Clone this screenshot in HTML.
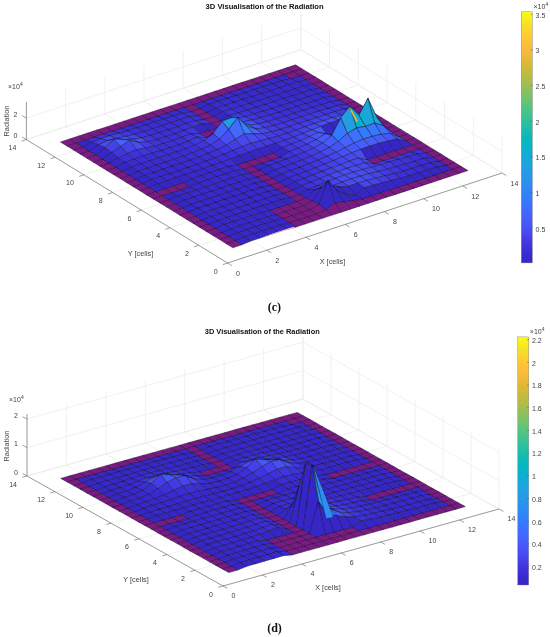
<!DOCTYPE html>
<html><head><meta charset="utf-8"><title>3D Visualisation of the Radiation</title>
<style>
html,body{margin:0;padding:0;background:#fff;}
svg{display:block;}
.tk{font-family:"Liberation Sans",sans-serif;font-size:7px;fill:#444;}
.lb{font-family:"Liberation Sans",sans-serif;font-size:7.3px;fill:#444;}
.ttl{font-family:"Liberation Sans",sans-serif;font-size:7.4px;font-weight:bold;fill:#111;}
.cap{font-family:"Liberation Serif",serif;font-size:12px;font-weight:bold;fill:#111;}
</style></head><body>
<svg width="550" height="637" viewBox="0 0 550 637">
<rect width="550" height="637" fill="#fff"/>
<path d="M227.6,263.0 L26.4,139.6" stroke="#e7e7e7" stroke-width="0.6" fill="none"/>
<path d="M227.6,263.0 L502.0,173.0" stroke="#e7e7e7" stroke-width="0.6" fill="none"/>
<path d="M26.4,139.6 L26.4,102.0" stroke="#e7e7e7" stroke-width="0.6" fill="none"/>
<path d="M502.0,173.0 L502.0,135.4" stroke="#e7e7e7" stroke-width="0.6" fill="none"/>
<path d="M266.8,250.1 L65.6,126.7" stroke="#e7e7e7" stroke-width="0.6" fill="none"/>
<path d="M198.9,245.4 L473.3,155.4" stroke="#e7e7e7" stroke-width="0.6" fill="none"/>
<path d="M65.6,126.7 L65.6,89.1" stroke="#e7e7e7" stroke-width="0.6" fill="none"/>
<path d="M473.3,155.4 L473.3,117.8" stroke="#e7e7e7" stroke-width="0.6" fill="none"/>
<path d="M306.0,237.3 L104.8,113.9" stroke="#e7e7e7" stroke-width="0.6" fill="none"/>
<path d="M170.1,227.7 L444.5,137.7" stroke="#e7e7e7" stroke-width="0.6" fill="none"/>
<path d="M104.8,113.9 L104.8,76.3" stroke="#e7e7e7" stroke-width="0.6" fill="none"/>
<path d="M444.5,137.7 L444.5,100.1" stroke="#e7e7e7" stroke-width="0.6" fill="none"/>
<path d="M345.2,224.4 L144.0,101.0" stroke="#e7e7e7" stroke-width="0.6" fill="none"/>
<path d="M141.4,210.1 L415.8,120.1" stroke="#e7e7e7" stroke-width="0.6" fill="none"/>
<path d="M144.0,101.0 L144.0,63.4" stroke="#e7e7e7" stroke-width="0.6" fill="none"/>
<path d="M415.8,120.1 L415.8,82.5" stroke="#e7e7e7" stroke-width="0.6" fill="none"/>
<path d="M384.4,211.6 L183.2,88.2" stroke="#e7e7e7" stroke-width="0.6" fill="none"/>
<path d="M112.6,192.5 L387.0,102.5" stroke="#e7e7e7" stroke-width="0.6" fill="none"/>
<path d="M183.2,88.2 L183.2,50.6" stroke="#e7e7e7" stroke-width="0.6" fill="none"/>
<path d="M387.0,102.5 L387.0,64.9" stroke="#e7e7e7" stroke-width="0.6" fill="none"/>
<path d="M423.6,198.7 L222.4,75.3" stroke="#e7e7e7" stroke-width="0.6" fill="none"/>
<path d="M83.9,174.9 L358.3,84.9" stroke="#e7e7e7" stroke-width="0.6" fill="none"/>
<path d="M222.4,75.3 L222.4,37.7" stroke="#e7e7e7" stroke-width="0.6" fill="none"/>
<path d="M358.3,84.9 L358.3,47.3" stroke="#e7e7e7" stroke-width="0.6" fill="none"/>
<path d="M462.8,185.9 L261.6,62.5" stroke="#e7e7e7" stroke-width="0.6" fill="none"/>
<path d="M55.1,157.2 L329.5,67.2" stroke="#e7e7e7" stroke-width="0.6" fill="none"/>
<path d="M261.6,62.5 L261.6,24.9" stroke="#e7e7e7" stroke-width="0.6" fill="none"/>
<path d="M329.5,67.2 L329.5,29.6" stroke="#e7e7e7" stroke-width="0.6" fill="none"/>
<path d="M502.0,173.0 L300.8,49.6" stroke="#e7e7e7" stroke-width="0.6" fill="none"/>
<path d="M26.4,139.6 L300.8,49.6" stroke="#e7e7e7" stroke-width="0.6" fill="none"/>
<path d="M300.8,49.6 L300.8,12.0" stroke="#e7e7e7" stroke-width="0.6" fill="none"/>
<path d="M300.8,49.6 L300.8,12.0" stroke="#e7e7e7" stroke-width="0.6" fill="none"/>
<path d="M26.4,139.6 L300.8,49.6 L502.0,173.0" stroke="#e7e7e7" stroke-width="0.6" fill="none"/>
<path d="M26.4,118.1 L300.8,28.1 L502.0,151.5" stroke="#e7e7e7" stroke-width="0.6" fill="none"/>
<path d="M227.6,263.0 L502.0,173.0" stroke="#666" stroke-width="0.62" fill="none"/>
<path d="M227.6,263.0 L26.4,139.6" stroke="#666" stroke-width="0.62" fill="none"/>
<path d="M26.4,139.6 L26.4,102.0" stroke="#666" stroke-width="0.62" fill="none"/>
<path d="M227.6,263.0 L231.9,265.6" stroke="#666" stroke-width="0.62"/>
<text x="236.1" y="275.6" text-anchor="start" class="tk">0</text>
<path d="M227.6,263.0 L222.8,264.6" stroke="#666" stroke-width="0.62"/>
<text x="217.6" y="273.5" text-anchor="end" class="tk">0</text>
<path d="M266.8,250.1 L271.1,252.8" stroke="#666" stroke-width="0.62"/>
<text x="275.3" y="262.7" text-anchor="start" class="tk">2</text>
<path d="M198.9,245.4 L194.1,246.9" stroke="#666" stroke-width="0.62"/>
<text x="188.9" y="255.9" text-anchor="end" class="tk">2</text>
<path d="M306.0,237.3 L310.3,239.9" stroke="#666" stroke-width="0.62"/>
<text x="314.5" y="249.9" text-anchor="start" class="tk">4</text>
<path d="M170.1,227.7 L165.4,229.3" stroke="#666" stroke-width="0.62"/>
<text x="160.1" y="238.2" text-anchor="end" class="tk">4</text>
<path d="M345.2,224.4 L349.5,227.0" stroke="#666" stroke-width="0.62"/>
<text x="353.7" y="237.0" text-anchor="start" class="tk">6</text>
<path d="M141.4,210.1 L136.6,211.7" stroke="#666" stroke-width="0.62"/>
<text x="131.4" y="220.6" text-anchor="end" class="tk">6</text>
<path d="M384.4,211.6 L388.7,214.2" stroke="#666" stroke-width="0.62"/>
<text x="392.9" y="224.2" text-anchor="start" class="tk">8</text>
<path d="M112.6,192.5 L107.9,194.0" stroke="#666" stroke-width="0.62"/>
<text x="102.6" y="203.0" text-anchor="end" class="tk">8</text>
<path d="M423.6,198.7 L427.9,201.3" stroke="#666" stroke-width="0.62"/>
<text x="432.1" y="211.3" text-anchor="start" class="tk">10</text>
<path d="M83.9,174.9 L79.1,176.4" stroke="#666" stroke-width="0.62"/>
<text x="73.9" y="185.4" text-anchor="end" class="tk">10</text>
<path d="M462.8,185.9 L467.1,188.5" stroke="#666" stroke-width="0.62"/>
<text x="471.3" y="198.5" text-anchor="start" class="tk">12</text>
<path d="M55.1,157.2 L50.4,158.8" stroke="#666" stroke-width="0.62"/>
<text x="45.1" y="167.7" text-anchor="end" class="tk">12</text>
<path d="M502.0,173.0 L506.3,175.6" stroke="#666" stroke-width="0.62"/>
<text x="510.5" y="185.6" text-anchor="start" class="tk">14</text>
<path d="M26.4,139.6 L21.6,141.2" stroke="#666" stroke-width="0.62"/>
<text x="16.4" y="150.1" text-anchor="end" class="tk">14</text>
<path d="M26.4,139.6 L22.1,137.0" stroke="#666" stroke-width="0.62"/>
<text x="17.4" y="138.3" text-anchor="end" class="tk">0</text>
<path d="M26.4,118.1 L22.1,115.5" stroke="#666" stroke-width="0.62"/>
<text x="17.4" y="116.8" text-anchor="end" class="tk">2</text>
<g stroke="#06061c" stroke-width="0.5" stroke-opacity="0.8" stroke-linejoin="round">
<path d="M293.2,71.9 L302.2,68.9 L295.6,64.8 L286.5,67.8 Z" fill="#7c1a84"/>
<path d="M284.1,74.8 L293.2,71.9 L286.5,67.8 L277.5,70.8 Z" fill="#7c1a84"/>
<path d="M299.8,75.9 L308.8,73.0 L302.2,68.9 L293.2,71.9 Z" fill="#7c1a84"/>
<path d="M275.1,77.8 L284.1,74.8 L277.5,70.8 L268.4,73.7 Z" fill="#7c1a84"/>
<path d="M290.7,78.9 L299.8,75.9 L293.2,71.9 L284.1,74.8 Z" fill="#7c1a84"/>
<path d="M306.4,80.0 L315.5,77.0 L308.8,73.0 L299.8,75.9 Z" fill="#7c1a84"/>
<path d="M266.0,80.8 L275.1,77.8 L268.4,73.7 L259.4,76.7 Z" fill="#7c1a84"/>
<path d="M281.7,80.9 L290.7,78.9 L284.1,74.8 L275.1,77.8 Z" fill="#3828cd"/>
<path d="M297.4,82.0 L306.4,80.0 L299.8,75.9 L290.7,78.9 Z" fill="#3828ce"/>
<path d="M313.1,84.1 L322.1,81.1 L315.5,77.0 L306.4,80.0 Z" fill="#7c1a84"/>
<path d="M257.0,83.7 L266.0,80.8 L259.4,76.7 L250.3,79.7 Z" fill="#7c1a84"/>
<path d="M272.7,83.8 L281.7,80.9 L275.1,77.8 L266.0,80.8 Z" fill="#3829ce"/>
<path d="M288.3,84.9 L297.4,82.0 L290.7,78.9 L281.7,80.9 Z" fill="#3829ce"/>
<path d="M304.0,86.0 L313.1,84.1 L306.4,80.0 L297.4,82.0 Z" fill="#3829ce"/>
<path d="M319.7,88.2 L328.7,85.2 L322.1,81.1 L313.1,84.1 Z" fill="#7c1a84"/>
<path d="M247.9,86.7 L257.0,83.7 L250.3,79.7 L241.3,82.6 Z" fill="#7c1a84"/>
<path d="M263.6,86.7 L272.7,83.8 L266.0,80.8 L257.0,83.7 Z" fill="#3829ce"/>
<path d="M279.3,87.8 L288.3,84.9 L281.7,80.9 L272.7,83.8 Z" fill="#3829ce"/>
<path d="M295.0,88.9 L304.0,86.0 L297.4,82.0 L288.3,84.9 Z" fill="#3929ce"/>
<path d="M310.6,90.0 L319.7,88.2 L313.1,84.1 L304.0,86.0 Z" fill="#3929ce"/>
<path d="M326.3,92.2 L335.4,89.3 L328.7,85.2 L319.7,88.2 Z" fill="#7c1a84"/>
<path d="M238.9,89.7 L247.9,86.7 L241.3,82.6 L232.2,85.6 Z" fill="#7c1a84"/>
<path d="M254.6,89.7 L263.6,86.7 L257.0,83.7 L247.9,86.7 Z" fill="#3929ce"/>
<path d="M270.2,90.8 L279.3,87.8 L272.7,83.8 L263.6,86.7 Z" fill="#3929ce"/>
<path d="M285.9,91.8 L295.0,88.9 L288.3,84.9 L279.3,87.8 Z" fill="#3929ce"/>
<path d="M301.6,92.9 L310.6,90.0 L304.0,86.0 L295.0,88.9 Z" fill="#3929cf"/>
<path d="M317.3,94.0 L326.3,92.2 L319.7,88.2 L310.6,90.0 Z" fill="#3929cf"/>
<path d="M333.0,96.3 L342.0,93.3 L335.4,89.3 L326.3,92.2 Z" fill="#7c1a84"/>
<path d="M229.8,92.6 L238.9,89.7 L232.2,85.6 L223.2,88.6 Z" fill="#7c1a84"/>
<path d="M245.5,92.6 L254.6,89.7 L247.9,86.7 L238.9,89.7 Z" fill="#3929ce"/>
<path d="M261.2,93.7 L270.2,90.8 L263.6,86.7 L254.6,89.7 Z" fill="#3929cf"/>
<path d="M276.9,94.8 L285.9,91.8 L279.3,87.8 L270.2,90.8 Z" fill="#3929cf"/>
<path d="M292.6,95.8 L301.6,92.9 L295.0,88.9 L285.9,91.8 Z" fill="#3929cf"/>
<path d="M308.2,96.9 L317.3,94.0 L310.6,90.0 L301.6,92.9 Z" fill="#392ad0"/>
<path d="M323.9,97.9 L333.0,96.3 L326.3,92.2 L317.3,94.0 Z" fill="#392ad0"/>
<path d="M339.6,100.4 L348.6,97.4 L342.0,93.3 L333.0,96.3 Z" fill="#7c1a84"/>
<path d="M220.8,95.6 L229.8,92.6 L223.2,88.6 L214.2,91.5 Z" fill="#7c1a84"/>
<path d="M236.5,95.5 L245.5,92.6 L238.9,89.7 L229.8,92.6 Z" fill="#3929cf"/>
<path d="M252.1,96.6 L261.2,93.7 L254.6,89.7 L245.5,92.6 Z" fill="#3929cf"/>
<path d="M267.8,97.7 L276.9,94.8 L270.2,90.8 L261.2,93.7 Z" fill="#3929cf"/>
<path d="M283.5,98.7 L292.6,95.8 L285.9,91.8 L276.9,94.8 Z" fill="#392ad0"/>
<path d="M299.2,99.8 L308.2,96.9 L301.6,92.9 L292.6,95.8 Z" fill="#392ad0"/>
<path d="M314.9,100.8 L323.9,97.9 L317.3,94.0 L308.2,96.9 Z" fill="#3a2bd1"/>
<path d="M330.5,101.8 L339.6,100.4 L333.0,96.3 L323.9,97.9 Z" fill="#3a2bd2"/>
<path d="M346.2,104.4 L355.3,101.5 L348.6,97.4 L339.6,100.4 Z" fill="#7c1a84"/>
<path d="M211.7,98.6 L220.8,95.6 L214.2,91.5 L205.1,94.5 Z" fill="#7c1a84"/>
<path d="M227.4,98.4 L236.5,95.5 L229.8,92.6 L220.8,95.6 Z" fill="#3929cf"/>
<path d="M243.1,99.5 L252.1,96.6 L245.5,92.6 L236.5,95.5 Z" fill="#392ad0"/>
<path d="M258.8,100.6 L267.8,97.7 L261.2,93.7 L252.1,96.6 Z" fill="#392ad0"/>
<path d="M274.5,101.6 L283.5,98.7 L276.9,94.8 L267.8,97.7 Z" fill="#392ad0"/>
<path d="M290.1,102.7 L299.2,99.8 L292.6,95.8 L283.5,98.7 Z" fill="#3a2ad1"/>
<path d="M305.8,103.7 L314.9,100.8 L308.2,96.9 L299.2,99.8 Z" fill="#3a2bd2"/>
<path d="M321.5,104.7 L330.5,101.8 L323.9,97.9 L314.9,100.8 Z" fill="#3b2cd3"/>
<path d="M337.2,105.6 L346.2,104.4 L339.6,100.4 L330.5,101.8 Z" fill="#3c2dd5"/>
<path d="M352.9,108.5 L361.9,105.5 L355.3,101.5 L346.2,104.4 Z" fill="#7c1a84"/>
<path d="M202.7,101.5 L211.7,98.6 L205.1,94.5 L196.1,97.5 Z" fill="#7c1a84"/>
<path d="M218.4,101.3 L227.4,98.4 L220.8,95.6 L211.7,98.6 Z" fill="#392ad0"/>
<path d="M234.1,102.4 L243.1,99.5 L236.5,95.5 L227.4,98.4 Z" fill="#3a2ad1"/>
<path d="M249.7,103.4 L258.8,100.6 L252.1,96.6 L243.1,99.5 Z" fill="#3a2bd1"/>
<path d="M265.4,104.5 L274.5,101.6 L267.8,97.7 L258.8,100.6 Z" fill="#3a2bd1"/>
<path d="M281.1,105.6 L290.1,102.7 L283.5,98.7 L274.5,101.6 Z" fill="#3a2bd2"/>
<path d="M296.8,106.6 L305.8,103.7 L299.2,99.8 L290.1,102.7 Z" fill="#3a2cd3"/>
<path d="M312.5,107.5 L321.5,104.7 L314.9,100.8 L305.8,103.7 Z" fill="#3b2dd4"/>
<path d="M328.1,108.4 L337.2,105.6 L330.5,101.8 L321.5,104.7 Z" fill="#3c2fd7"/>
<path d="M343.8,109.2 L352.9,108.5 L346.2,104.4 L337.2,105.6 Z" fill="#3e31da"/>
<path d="M359.5,112.6 L368.5,109.6 L361.9,105.5 L352.9,108.5 Z" fill="#7c1a84"/>
<path d="M193.7,104.5 L202.7,101.5 L196.1,97.5 L187.0,100.4 Z" fill="#7c1a84"/>
<path d="M209.3,104.3 L218.4,101.3 L211.7,98.6 L202.7,101.5 Z" fill="#392ad0"/>
<path d="M225.0,105.3 L234.1,102.4 L227.4,98.4 L218.4,101.3 Z" fill="#3a2bd1"/>
<path d="M240.7,106.3 L249.7,103.4 L243.1,99.5 L234.1,102.4 Z" fill="#3a2bd2"/>
<path d="M256.4,107.4 L265.4,104.5 L258.8,100.6 L249.7,103.4 Z" fill="#3a2cd2"/>
<path d="M272.0,108.5 L281.1,105.6 L274.5,101.6 L265.4,104.5 Z" fill="#3b2cd3"/>
<path d="M287.7,109.5 L296.8,106.6 L290.1,102.7 L281.1,105.6 Z" fill="#3b2cd3"/>
<path d="M303.4,110.4 L312.5,107.5 L305.8,103.7 L296.8,106.6 Z" fill="#3c2dd5"/>
<path d="M319.1,111.2 L328.1,108.4 L321.5,104.7 L312.5,107.5 Z" fill="#3d30d8"/>
<path d="M334.8,111.9 L343.8,109.2 L337.2,105.6 L328.1,108.4 Z" fill="#3f33dc"/>
<path d="M350.4,112.6 L359.5,112.6 L352.9,108.5 L343.8,109.2 Z" fill="#4137e0"/>
<path d="M366.1,116.6 L375.2,113.7 L368.5,109.6 L359.5,112.6 Z" fill="#7c1a84"/>
<path d="M184.6,107.5 L193.7,104.5 L187.0,100.4 L178.0,103.4 Z" fill="#7c1a84"/>
<path d="M200.3,108.6 L209.3,104.3 L202.7,101.5 L193.7,104.5 Z" fill="#3726c7"/>
<path d="M216.0,108.1 L225.0,105.3 L218.4,101.3 L209.3,104.3 Z" fill="#3a2cd2"/>
<path d="M231.6,109.1 L240.7,106.3 L234.1,102.4 L225.0,105.3 Z" fill="#3b2cd4"/>
<path d="M247.3,110.2 L256.4,107.4 L249.7,103.4 L240.7,106.3 Z" fill="#3b2dd4"/>
<path d="M263.0,111.3 L272.0,108.5 L265.4,104.5 L256.4,107.4 Z" fill="#3b2dd4"/>
<path d="M278.7,112.4 L287.7,109.5 L281.1,105.6 L272.0,108.5 Z" fill="#3b2dd4"/>
<path d="M294.4,113.3 L303.4,110.4 L296.8,106.6 L287.7,109.5 Z" fill="#3c2ed6"/>
<path d="M310.0,114.1 L319.1,111.2 L312.5,107.5 L303.4,110.4 Z" fill="#3d30d9"/>
<path d="M325.7,114.7 L334.8,111.9 L328.1,108.4 L319.1,111.2 Z" fill="#4035de"/>
<path d="M341.4,115.1 L350.4,112.6 L343.8,109.2 L334.8,111.9 Z" fill="#433be4"/>
<path d="M357.1,115.5 L366.1,116.6 L359.5,112.6 L350.4,112.6 Z" fill="#4643ea"/>
<path d="M372.8,120.7 L381.8,117.7 L375.2,113.7 L366.1,116.6 Z" fill="#7c1a84"/>
<path d="M175.6,110.4 L184.6,107.5 L178.0,103.4 L168.9,106.4 Z" fill="#7c1a84"/>
<path d="M191.2,111.6 L200.3,108.6 L193.7,104.5 L184.6,107.5 Z" fill="#7c1a84"/>
<path d="M206.9,112.7 L216.0,108.1 L209.3,104.3 L200.3,108.6 Z" fill="#3726c7"/>
<path d="M222.6,111.9 L231.6,109.1 L225.0,105.3 L216.0,108.1 Z" fill="#3c2ed5"/>
<path d="M238.3,112.9 L247.3,110.2 L240.7,106.3 L231.6,109.1 Z" fill="#3c2ed7"/>
<path d="M254.0,114.0 L263.0,111.3 L256.4,107.4 L247.3,110.2 Z" fill="#3c2ed7"/>
<path d="M269.6,115.1 L278.7,112.4 L272.0,108.5 L263.0,111.3 Z" fill="#3c2ed6"/>
<path d="M285.3,116.2 L294.4,113.3 L287.7,109.5 L278.7,112.4 Z" fill="#3c2fd7"/>
<path d="M301.0,117.0 L310.0,114.1 L303.4,110.4 L294.4,113.3 Z" fill="#3e31da"/>
<path d="M316.7,117.6 L325.7,114.7 L319.1,111.2 L310.0,114.1 Z" fill="#4136df"/>
<path d="M332.3,117.8 L341.4,115.1 L334.8,111.9 L325.7,114.7 Z" fill="#453fe7"/>
<path d="M348.0,117.7 L357.1,115.5 L350.4,112.6 L341.4,115.1 Z" fill="#484df0"/>
<path d="M363.7,123.7 L372.8,120.7 L366.1,116.6 L357.1,115.5 Z" fill="#3726c7"/>
<path d="M379.4,124.8 L388.4,121.8 L381.8,117.7 L372.8,120.7 Z" fill="#7c1a84"/>
<path d="M166.5,113.4 L175.6,110.4 L168.9,106.4 L159.9,109.3 Z" fill="#7c1a84"/>
<path d="M182.2,113.1 L191.2,111.6 L184.6,107.5 L175.6,110.4 Z" fill="#3a2bd1"/>
<path d="M197.9,115.6 L206.9,112.7 L200.3,108.6 L191.2,111.6 Z" fill="#7c1a84"/>
<path d="M213.5,116.7 L222.6,111.9 L216.0,108.1 L206.9,112.7 Z" fill="#3726c7"/>
<path d="M229.2,115.6 L238.3,112.9 L231.6,109.1 L222.6,111.9 Z" fill="#3e31da"/>
<path d="M244.9,116.6 L254.0,114.0 L247.3,110.2 L238.3,112.9 Z" fill="#3e31db"/>
<path d="M260.6,117.8 L269.6,115.1 L263.0,111.3 L254.0,114.0 Z" fill="#3e30d9"/>
<path d="M276.3,119.0 L285.3,116.2 L278.7,112.4 L269.6,115.1 Z" fill="#3d30d9"/>
<path d="M291.9,119.9 L301.0,117.0 L294.4,113.3 L285.3,116.2 Z" fill="#3e31da"/>
<path d="M307.6,120.5 L316.7,117.6 L310.0,114.1 L301.0,117.0 Z" fill="#4136df"/>
<path d="M323.3,120.6 L332.3,117.8 L325.7,114.7 L316.7,117.6 Z" fill="#4540e8"/>
<path d="M339.0,120.2 L348.0,117.7 L341.4,115.1 L332.3,117.8 Z" fill="#4852f3"/>
<path d="M354.7,126.6 L363.7,123.7 L357.1,115.5 L348.0,117.7 Z" fill="#3726c7"/>
<path d="M370.3,127.7 L379.4,124.8 L372.8,120.7 L363.7,123.7 Z" fill="#7c1a84"/>
<path d="M386.0,128.8 L395.1,125.9 L388.4,121.8 L379.4,124.8 Z" fill="#7c1a84"/>
<path d="M157.5,116.4 L166.5,113.4 L159.9,109.3 L150.8,112.3 Z" fill="#7c1a84"/>
<path d="M173.1,116.0 L182.2,113.1 L175.6,110.4 L166.5,113.4 Z" fill="#3a2bd1"/>
<path d="M188.8,116.9 L197.9,115.6 L191.2,111.6 L182.2,113.1 Z" fill="#3b2dd4"/>
<path d="M204.5,119.7 L213.5,116.7 L206.9,112.7 L197.9,115.6 Z" fill="#7c1a84"/>
<path d="M220.2,120.8 L229.2,115.6 L222.6,111.9 L213.5,116.7 Z" fill="#3726c7"/>
<path d="M235.9,119.0 L244.9,116.6 L238.3,112.9 L229.2,115.6 Z" fill="#4137e0"/>
<path d="M251.5,120.2 L260.6,117.8 L254.0,114.0 L244.9,116.6 Z" fill="#4035df"/>
<path d="M267.2,121.6 L276.3,119.0 L269.6,115.1 L260.6,117.8 Z" fill="#3f32dc"/>
<path d="M282.9,122.8 L291.9,119.9 L285.3,116.2 L276.3,119.0 Z" fill="#3e32db"/>
<path d="M298.6,123.5 L307.6,120.5 L301.0,117.0 L291.9,119.9 Z" fill="#4035de"/>
<path d="M314.3,123.7 L323.3,120.6 L316.7,117.6 L307.6,120.5 Z" fill="#453fe7"/>
<path d="M329.9,123.0 L339.0,120.2 L332.3,117.8 L323.3,120.6 Z" fill="#4853f4"/>
<path d="M345.6,129.6 L354.7,126.6 L348.0,117.7 L339.0,120.2 Z" fill="#3726c7"/>
<path d="M361.3,130.7 L370.3,127.7 L363.7,123.7 L354.7,126.6 Z" fill="#7c1a84"/>
<path d="M377.0,117.8 L386.0,128.8 L379.4,124.8 L370.3,127.7 Z" fill="#229ee4"/>
<path d="M392.7,132.9 L401.7,129.9 L395.1,125.9 L386.0,128.8 Z" fill="#7c1a84"/>
<path d="M148.4,119.4 L157.5,116.4 L150.8,112.3 L141.8,115.3 Z" fill="#7c1a84"/>
<path d="M164.1,119.0 L173.1,116.0 L166.5,113.4 L157.5,116.4 Z" fill="#3a2bd1"/>
<path d="M179.8,119.9 L188.8,116.9 L182.2,113.1 L173.1,116.0 Z" fill="#3b2cd4"/>
<path d="M195.5,120.6 L204.5,119.7 L197.9,115.6 L188.8,116.9 Z" fill="#3d2fd8"/>
<path d="M211.1,123.8 L220.2,120.8 L213.5,116.7 L204.5,119.7 Z" fill="#7c1a84"/>
<path d="M226.8,124.9 L235.9,119.0 L229.2,115.6 L220.2,120.8 Z" fill="#3726c7"/>
<path d="M242.5,122.1 L251.5,120.2 L244.9,116.6 L235.9,119.0 Z" fill="#4541e8"/>
<path d="M258.2,123.9 L267.2,121.6 L260.6,117.8 L251.5,120.2 Z" fill="#4239e2"/>
<path d="M273.9,125.5 L282.9,122.8 L276.3,119.0 L267.2,121.6 Z" fill="#4034de"/>
<path d="M289.5,126.5 L298.6,123.5 L291.9,119.9 L282.9,122.8 Z" fill="#4035de"/>
<path d="M305.2,126.9 L314.3,123.7 L307.6,120.5 L298.6,123.5 Z" fill="#443ce5"/>
<path d="M320.9,126.3 L329.9,123.0 L323.3,120.6 L314.3,123.7 Z" fill="#4850f2"/>
<path d="M336.6,132.6 L345.6,129.6 L339.0,120.2 L329.9,123.0 Z" fill="#3726c7"/>
<path d="M352.2,133.7 L361.3,130.7 L354.7,126.6 L345.6,129.6 Z" fill="#7c1a84"/>
<path d="M367.9,98.3 L377.0,117.8 L370.3,127.7 L361.3,130.7 Z" fill="#f7e622"/>
<path d="M383.6,125.7 L392.7,132.9 L386.0,128.8 L377.0,117.8 Z" fill="#317ffa"/>
<path d="M399.3,137.0 L408.3,134.0 L401.7,129.9 L392.7,132.9 Z" fill="#7c1a84"/>
<path d="M139.4,122.3 L148.4,119.4 L141.8,115.3 L132.7,118.2 Z" fill="#7c1a84"/>
<path d="M155.1,122.0 L164.1,119.0 L157.5,116.4 L148.4,119.4 Z" fill="#3a2bd1"/>
<path d="M170.7,122.9 L179.8,119.9 L173.1,116.0 L164.1,119.0 Z" fill="#3b2cd3"/>
<path d="M186.4,123.6 L195.5,120.6 L188.8,116.9 L179.8,119.9 Z" fill="#3d2fd7"/>
<path d="M202.1,123.9 L211.1,123.8 L204.5,119.7 L195.5,120.6 Z" fill="#4136df"/>
<path d="M217.8,127.8 L226.8,124.9 L220.2,120.8 L211.1,123.8 Z" fill="#7c1a84"/>
<path d="M233.4,128.9 L242.5,122.1 L235.9,119.0 L226.8,124.9 Z" fill="#3726c7"/>
<path d="M249.1,125.1 L258.2,123.9 L251.5,120.2 L242.5,122.1 Z" fill="#484ef1"/>
<path d="M264.8,127.8 L273.9,125.5 L267.2,121.6 L258.2,123.9 Z" fill="#433be4"/>
<path d="M280.5,129.4 L289.5,126.5 L282.9,122.8 L273.9,125.5 Z" fill="#4136df"/>
<path d="M296.2,130.1 L305.2,126.9 L298.6,123.5 L289.5,126.5 Z" fill="#433ae2"/>
<path d="M311.8,129.9 L320.9,126.3 L314.3,123.7 L305.2,126.9 Z" fill="#474aee"/>
<path d="M327.5,135.5 L336.6,132.6 L329.9,123.0 L320.9,126.3 Z" fill="#3726c7"/>
<path d="M343.2,136.6 L352.2,133.7 L345.6,129.6 L336.6,132.6 Z" fill="#7c1a84"/>
<path d="M358.9,115.4 L367.9,98.3 L361.3,130.7 L352.2,133.7 Z" fill="#3ec291"/>
<path d="M374.6,123.0 L383.6,125.7 L377.0,117.8 L367.9,98.3 Z" fill="#15aad8"/>
<path d="M390.2,133.3 L399.3,137.0 L392.7,132.9 L383.6,125.7 Z" fill="#465efa"/>
<path d="M405.9,141.0 L415.0,138.1 L408.3,134.0 L399.3,137.0 Z" fill="#7c1a84"/>
<path d="M130.3,125.3 L139.4,122.3 L132.7,118.2 L123.7,121.2 Z" fill="#7c1a84"/>
<path d="M146.0,124.9 L155.1,122.0 L148.4,119.4 L139.4,122.3 Z" fill="#3a2bd2"/>
<path d="M161.7,125.9 L170.7,122.9 L164.1,119.0 L155.1,122.0 Z" fill="#3b2cd3"/>
<path d="M177.4,126.7 L186.4,123.6 L179.8,119.9 L170.7,122.9 Z" fill="#3c2ed6"/>
<path d="M193.0,127.1 L202.1,123.9 L195.5,120.6 L186.4,123.6 Z" fill="#3f33dd"/>
<path d="M208.7,130.8 L217.8,127.8 L211.1,123.8 L202.1,123.9 Z" fill="#3726c7"/>
<path d="M224.4,131.9 L233.4,128.9 L226.8,124.9 L217.8,127.8 Z" fill="#7c1a84"/>
<path d="M240.1,123.4 L249.1,125.1 L242.5,122.1 L233.4,128.9 Z" fill="#337bfc"/>
<path d="M255.8,128.9 L264.8,127.8 L258.2,123.9 L249.1,125.1 Z" fill="#4850f3"/>
<path d="M271.4,131.9 L280.5,129.4 L273.9,125.5 L264.8,127.8 Z" fill="#433ae3"/>
<path d="M287.1,133.2 L296.2,130.1 L289.5,126.5 L280.5,129.4 Z" fill="#4238e1"/>
<path d="M302.8,133.5 L311.8,129.9 L305.2,126.9 L296.2,130.1 Z" fill="#4542e8"/>
<path d="M318.5,132.3 L327.5,135.5 L320.9,126.3 L311.8,129.9 Z" fill="#475af8"/>
<path d="M334.2,139.6 L343.2,136.6 L336.6,132.6 L327.5,135.5 Z" fill="#7c1a84"/>
<path d="M349.8,106.2 L358.9,115.4 L352.2,133.7 L343.2,136.6 Z" fill="#fcce30"/>
<path d="M365.5,126.3 L374.6,123.0 L367.9,98.3 L358.9,115.4 Z" fill="#18a7da"/>
<path d="M381.2,134.4 L390.2,133.3 L383.6,125.7 L374.6,123.0 Z" fill="#3d70fe"/>
<path d="M396.9,139.1 L405.9,141.0 L399.3,137.0 L390.2,133.3 Z" fill="#484df0"/>
<path d="M412.6,145.1 L421.6,142.1 L415.0,138.1 L405.9,141.0 Z" fill="#7c1a84"/>
<path d="M121.3,128.3 L130.3,125.3 L123.7,121.2 L114.6,124.2 Z" fill="#7c1a84"/>
<path d="M137.0,127.8 L146.0,124.9 L139.4,122.3 L130.3,125.3 Z" fill="#3a2cd3"/>
<path d="M152.6,128.8 L161.7,125.9 L155.1,122.0 L146.0,124.9 Z" fill="#3b2cd3"/>
<path d="M168.3,129.8 L177.4,126.7 L170.7,122.9 L161.7,125.9 Z" fill="#3c2dd5"/>
<path d="M184.0,130.4 L193.0,127.1 L186.4,123.6 L177.4,126.7 Z" fill="#3e31da"/>
<path d="M199.7,133.8 L208.7,130.8 L202.1,123.9 L193.0,127.1 Z" fill="#3726c7"/>
<path d="M215.4,134.9 L224.4,131.9 L217.8,127.8 L208.7,130.8 Z" fill="#7c1a84"/>
<path d="M231.0,117.8 L240.1,123.4 L233.4,128.9 L224.4,131.9 Z" fill="#09b6c2"/>
<path d="M246.7,126.1 L255.8,128.9 L249.1,125.1 L240.1,123.4 Z" fill="#2f86f6"/>
<path d="M262.4,133.7 L271.4,131.9 L264.8,127.8 L255.8,128.9 Z" fill="#4749ed"/>
<path d="M278.1,136.1 L287.1,133.2 L280.5,129.4 L271.4,131.9 Z" fill="#4239e2"/>
<path d="M293.8,137.0 L302.8,133.5 L296.2,130.1 L287.1,133.2 Z" fill="#443ce4"/>
<path d="M309.4,136.6 L318.5,132.3 L311.8,129.9 L302.8,133.5 Z" fill="#484df0"/>
<path d="M325.1,133.7 L334.2,139.6 L327.5,135.5 L318.5,132.3 Z" fill="#3a74fe"/>
<path d="M340.8,117.8 L349.8,106.2 L343.2,136.6 L334.2,139.6 Z" fill="#88c15f"/>
<path d="M356.5,127.9 L365.5,126.3 L358.9,115.4 L349.8,106.2 Z" fill="#0bb0d0"/>
<path d="M372.1,136.4 L381.2,134.4 L374.6,123.0 L365.5,126.3 Z" fill="#3479fd"/>
<path d="M387.8,141.1 L396.9,139.1 L390.2,133.3 L381.2,134.4 Z" fill="#4757f7"/>
<path d="M403.5,148.1 L412.6,145.1 L405.9,141.0 L396.9,139.1 Z" fill="#3726c7"/>
<path d="M419.2,149.2 L428.2,146.2 L421.6,142.1 L412.6,145.1 Z" fill="#7c1a84"/>
<path d="M112.2,131.2 L121.3,128.3 L114.6,124.2 L105.6,127.2 Z" fill="#7c1a84"/>
<path d="M127.9,130.6 L137.0,127.8 L130.3,125.3 L121.3,128.3 Z" fill="#3b2dd4"/>
<path d="M143.6,131.6 L152.6,128.8 L146.0,124.9 L137.0,127.8 Z" fill="#3c2dd5"/>
<path d="M159.3,132.7 L168.3,129.8 L161.7,125.9 L152.6,128.8 Z" fill="#3c2dd5"/>
<path d="M175.0,133.6 L184.0,130.4 L177.4,126.7 L168.3,129.8 Z" fill="#3d2fd8"/>
<path d="M190.6,133.9 L199.7,133.8 L193.0,127.1 L184.0,130.4 Z" fill="#4136df"/>
<path d="M206.3,137.8 L215.4,134.9 L208.7,130.8 L199.7,133.8 Z" fill="#7c1a84"/>
<path d="M222.0,121.3 L231.0,117.8 L224.4,131.9 L215.4,134.9 Z" fill="#09b4c8"/>
<path d="M237.7,117.5 L246.7,126.1 L240.1,123.4 L231.0,117.8 Z" fill="#41c38f"/>
<path d="M253.3,133.9 L262.4,133.7 L255.8,128.9 L246.7,126.1 Z" fill="#4563fd"/>
<path d="M269.0,138.7 L278.1,136.1 L271.4,131.9 L262.4,133.7 Z" fill="#443de6"/>
<path d="M284.7,140.2 L293.8,137.0 L287.1,133.2 L278.1,136.1 Z" fill="#4239e2"/>
<path d="M300.4,140.6 L309.4,136.6 L302.8,133.5 L293.8,137.0 Z" fill="#4541e8"/>
<path d="M316.1,139.7 L325.1,133.7 L318.5,132.3 L309.4,136.6 Z" fill="#4757f7"/>
<path d="M331.7,135.3 L340.8,117.8 L334.2,139.6 L325.1,133.7 Z" fill="#2e8af5"/>
<path d="M347.4,133.4 L356.5,127.9 L349.8,106.2 L340.8,117.8 Z" fill="#20a0e2"/>
<path d="M363.1,139.2 L372.1,136.4 L365.5,126.3 L356.5,127.9 Z" fill="#337bfc"/>
<path d="M378.8,143.4 L387.8,141.1 L381.2,134.4 L372.1,136.4 Z" fill="#465dfa"/>
<path d="M394.5,151.0 L403.5,148.1 L396.9,139.1 L387.8,141.1 Z" fill="#3726c7"/>
<path d="M410.1,152.1 L419.2,149.2 L412.6,145.1 L403.5,148.1 Z" fill="#7c1a84"/>
<path d="M425.8,153.2 L434.9,150.3 L428.2,146.2 L419.2,149.2 Z" fill="#7c1a84"/>
<path d="M103.2,134.2 L112.2,131.2 L105.6,127.2 L96.6,130.1 Z" fill="#7c1a84"/>
<path d="M118.9,133.3 L127.9,130.6 L121.3,128.3 L112.2,131.2 Z" fill="#3d2fd7"/>
<path d="M134.5,134.3 L143.6,131.6 L137.0,127.8 L127.9,130.6 Z" fill="#3d30d8"/>
<path d="M150.2,135.5 L159.3,132.7 L152.6,128.8 L143.6,131.6 Z" fill="#3c2fd7"/>
<path d="M165.9,136.6 L175.0,133.6 L168.3,129.8 L159.3,132.7 Z" fill="#3c2fd7"/>
<path d="M181.6,137.4 L190.6,133.9 L184.0,130.4 L175.0,133.6 Z" fill="#3e31da"/>
<path d="M197.3,137.2 L206.3,137.8 L199.7,133.8 L190.6,133.9 Z" fill="#443de6"/>
<path d="M212.9,133.7 L222.0,121.3 L215.4,134.9 L206.3,137.8 Z" fill="#406dfe"/>
<path d="M228.6,129.2 L237.7,117.5 L231.0,117.8 L222.0,121.3 Z" fill="#239ce5"/>
<path d="M244.3,133.8 L253.3,133.9 L246.7,126.1 L237.7,117.5 Z" fill="#3181f9"/>
<path d="M260.0,140.9 L269.0,138.7 L262.4,133.7 L253.3,133.9 Z" fill="#4747ec"/>
<path d="M275.7,143.3 L284.7,140.2 L278.1,136.1 L269.0,138.7 Z" fill="#4238e1"/>
<path d="M291.3,144.2 L300.4,140.6 L293.8,137.0 L284.7,140.2 Z" fill="#433ae2"/>
<path d="M307.0,144.2 L316.1,139.7 L309.4,136.6 L300.4,140.6 Z" fill="#4647ec"/>
<path d="M322.7,143.1 L331.7,135.3 L325.1,133.7 L316.1,139.7 Z" fill="#465dfa"/>
<path d="M338.4,141.3 L347.4,133.4 L340.8,117.8 L331.7,135.3 Z" fill="#3479fd"/>
<path d="M354.1,143.0 L363.1,139.2 L356.5,127.9 L347.4,133.4 Z" fill="#3b73fe"/>
<path d="M369.7,146.1 L378.8,143.4 L372.1,136.4 L363.1,139.2 Z" fill="#465ffb"/>
<path d="M385.4,154.0 L394.5,151.0 L387.8,141.1 L378.8,143.4 Z" fill="#3726c7"/>
<path d="M401.1,155.1 L410.1,152.1 L403.5,148.1 L394.5,151.0 Z" fill="#7c1a84"/>
<path d="M416.8,154.0 L425.8,153.2 L419.2,149.2 L410.1,152.1 Z" fill="#3e30d9"/>
<path d="M432.5,157.3 L441.5,154.3 L434.9,150.3 L425.8,153.2 Z" fill="#7c1a84"/>
<path d="M94.1,137.2 L103.2,134.2 L96.6,130.1 L87.5,133.1 Z" fill="#7c1a84"/>
<path d="M109.8,135.9 L118.9,133.3 L112.2,131.2 L103.2,134.2 Z" fill="#3e31db"/>
<path d="M125.5,136.6 L134.5,134.3 L127.9,130.6 L118.9,133.3 Z" fill="#4035df"/>
<path d="M141.2,137.9 L150.2,135.5 L143.6,131.6 L134.5,134.3 Z" fill="#3f33dc"/>
<path d="M156.9,139.5 L165.9,136.6 L159.3,132.7 L150.2,135.5 Z" fill="#3d30d8"/>
<path d="M172.5,140.6 L181.6,137.4 L175.0,133.6 L165.9,136.6 Z" fill="#3d2fd8"/>
<path d="M188.2,141.2 L197.3,137.2 L190.6,133.9 L181.6,137.4 Z" fill="#3f34dd"/>
<path d="M203.9,140.7 L212.9,133.7 L206.3,137.8 L197.3,137.2 Z" fill="#4644ea"/>
<path d="M219.6,139.0 L228.6,129.2 L222.0,121.3 L212.9,133.7 Z" fill="#4561fc"/>
<path d="M235.3,139.3 L244.3,133.8 L237.7,117.5 L228.6,129.2 Z" fill="#4269fe"/>
<path d="M250.9,143.3 L260.0,140.9 L253.3,133.9 L244.3,133.8 Z" fill="#484df0"/>
<path d="M266.6,146.2 L275.7,143.3 L269.0,138.7 L260.0,140.9 Z" fill="#4239e2"/>
<path d="M282.3,147.6 L291.3,144.2 L284.7,140.2 L275.7,143.3 Z" fill="#4136df"/>
<path d="M298.0,148.1 L307.0,144.2 L300.4,140.6 L291.3,144.2 Z" fill="#433be4"/>
<path d="M313.7,148.0 L322.7,143.1 L316.1,139.7 L307.0,144.2 Z" fill="#474aee"/>
<path d="M329.3,147.4 L338.4,141.3 L331.7,135.3 L322.7,143.1 Z" fill="#475bf9"/>
<path d="M345.0,147.6 L354.1,143.0 L347.4,133.4 L338.4,141.3 Z" fill="#4563fd"/>
<path d="M360.7,149.4 L369.7,146.1 L363.1,139.2 L354.1,143.0 Z" fill="#465dfa"/>
<path d="M376.4,157.0 L385.4,154.0 L378.8,143.4 L369.7,146.1 Z" fill="#3726c7"/>
<path d="M392.0,158.1 L401.1,155.1 L394.5,151.0 L385.4,154.0 Z" fill="#7c1a84"/>
<path d="M407.7,156.6 L416.8,154.0 L410.1,152.1 L401.1,155.1 Z" fill="#3f33dd"/>
<path d="M423.4,158.5 L432.5,157.3 L425.8,153.2 L416.8,154.0 Z" fill="#3b2dd5"/>
<path d="M439.1,161.4 L448.1,158.4 L441.5,154.3 L432.5,157.3 Z" fill="#7c1a84"/>
<path d="M85.1,140.1 L94.1,137.2 L87.5,133.1 L78.5,136.1 Z" fill="#7c1a84"/>
<path d="M100.8,138.8 L109.8,135.9 L103.2,134.2 L94.1,137.2 Z" fill="#3f32dc"/>
<path d="M116.5,138.4 L125.5,136.6 L118.9,133.3 L109.8,135.9 Z" fill="#4542e8"/>
<path d="M132.1,139.4 L141.2,137.9 L134.5,134.3 L125.5,136.6 Z" fill="#4643e9"/>
<path d="M147.8,141.8 L156.9,139.5 L150.2,135.5 L141.2,137.9 Z" fill="#4035de"/>
<path d="M163.5,143.5 L172.5,140.6 L165.9,136.6 L156.9,139.5 Z" fill="#3d30d8"/>
<path d="M179.2,144.6 L188.2,141.2 L181.6,137.4 L172.5,140.6 Z" fill="#3d30d9"/>
<path d="M194.9,145.1 L203.9,140.7 L197.3,137.2 L188.2,141.2 Z" fill="#4035de"/>
<path d="M210.5,145.0 L219.6,139.0 L212.9,133.7 L203.9,140.7 Z" fill="#4542e9"/>
<path d="M226.2,145.1 L235.3,139.3 L228.6,129.2 L219.6,139.0 Z" fill="#484ef1"/>
<path d="M241.9,146.8 L250.9,143.3 L244.3,133.8 L235.3,139.3 Z" fill="#4747ec"/>
<path d="M257.6,149.1 L266.6,146.2 L260.0,140.9 L250.9,143.3 Z" fill="#4239e2"/>
<path d="M273.2,153.3 L282.3,147.6 L275.7,143.3 L266.6,146.2 Z" fill="#3726c7"/>
<path d="M288.9,151.7 L298.0,148.1 L291.3,144.2 L282.3,147.6 Z" fill="#4035de"/>
<path d="M304.6,152.1 L313.7,148.0 L307.0,144.2 L298.0,148.1 Z" fill="#443ce5"/>
<path d="M320.3,152.0 L329.3,147.4 L322.7,143.1 L313.7,148.0 Z" fill="#474aee"/>
<path d="M336.0,152.1 L345.0,147.6 L338.4,141.3 L329.3,147.4 Z" fill="#4754f5"/>
<path d="M351.6,153.0 L360.7,149.4 L354.1,143.0 L345.0,147.6 Z" fill="#4756f7"/>
<path d="M367.3,159.9 L376.4,157.0 L369.7,146.1 L360.7,149.4 Z" fill="#3726c7"/>
<path d="M383.0,161.0 L392.0,158.1 L385.4,154.0 L376.4,157.0 Z" fill="#7c1a84"/>
<path d="M398.7,159.3 L407.7,156.6 L401.1,155.1 L392.0,158.1 Z" fill="#4136df"/>
<path d="M414.4,161.3 L423.4,158.5 L416.8,154.0 L407.7,156.6 Z" fill="#3c2fd7"/>
<path d="M430.0,162.9 L439.1,161.4 L432.5,157.3 L423.4,158.5 Z" fill="#3a2bd1"/>
<path d="M445.7,165.4 L454.8,162.5 L448.1,158.4 L439.1,161.4 Z" fill="#7c1a84"/>
<path d="M76.1,143.1 L85.1,140.1 L78.5,136.1 L69.4,139.0 Z" fill="#7c1a84"/>
<path d="M91.7,142.1 L100.8,138.8 L94.1,137.2 L85.1,140.1 Z" fill="#3d30d8"/>
<path d="M107.4,140.5 L116.5,138.4 L109.8,135.9 L100.8,138.8 Z" fill="#484df0"/>
<path d="M123.1,139.4 L132.1,139.4 L125.5,136.6 L116.5,138.4 Z" fill="#4561fc"/>
<path d="M138.8,142.5 L147.8,141.8 L141.2,137.9 L132.1,139.4 Z" fill="#484ef1"/>
<path d="M154.4,146.1 L163.5,143.5 L156.9,139.5 L147.8,141.8 Z" fill="#3f33dc"/>
<path d="M170.1,147.7 L179.2,144.6 L172.5,140.6 L163.5,143.5 Z" fill="#3d2fd7"/>
<path d="M185.8,148.6 L194.9,145.1 L188.2,141.2 L179.2,144.6 Z" fill="#3d30d9"/>
<path d="M201.5,149.2 L210.5,145.0 L203.9,140.7 L194.9,145.1 Z" fill="#4034de"/>
<path d="M217.2,149.7 L226.2,145.1 L219.6,139.0 L210.5,145.0 Z" fill="#433ae3"/>
<path d="M232.8,150.7 L241.9,146.8 L235.3,139.3 L226.2,145.1 Z" fill="#443ce4"/>
<path d="M248.5,152.3 L257.6,149.1 L250.9,143.3 L241.9,146.8 Z" fill="#4137e0"/>
<path d="M264.2,156.3 L273.2,153.3 L266.6,146.2 L257.6,149.1 Z" fill="#3726c7"/>
<path d="M279.9,157.4 L288.9,151.7 L282.3,147.6 L273.2,153.3 Z" fill="#3726c7"/>
<path d="M295.6,155.8 L304.6,152.1 L298.0,148.1 L288.9,151.7 Z" fill="#4035de"/>
<path d="M311.2,156.1 L320.3,152.0 L313.7,148.0 L304.6,152.1 Z" fill="#443ce5"/>
<path d="M326.9,156.3 L336.0,152.1 L329.3,147.4 L320.3,152.0 Z" fill="#4748ed"/>
<path d="M342.6,156.8 L351.6,153.0 L345.0,147.6 L336.0,152.1 Z" fill="#484ff2"/>
<path d="M358.3,158.0 L367.3,159.9 L360.7,149.4 L351.6,153.0 Z" fill="#484ef1"/>
<path d="M374.0,164.0 L383.0,161.0 L376.4,157.0 L367.3,159.9 Z" fill="#7c1a84"/>
<path d="M389.6,161.9 L398.7,159.3 L392.0,158.1 L383.0,161.0 Z" fill="#4239e2"/>
<path d="M405.3,164.0 L414.4,161.3 L407.7,156.6 L398.7,159.3 Z" fill="#3e30da"/>
<path d="M421.0,165.7 L430.0,162.9 L423.4,158.5 L414.4,161.3 Z" fill="#3b2cd3"/>
<path d="M436.7,167.2 L445.7,165.4 L439.1,161.4 L430.0,162.9 Z" fill="#3929cf"/>
<path d="M452.3,169.5 L461.4,166.5 L454.8,162.5 L445.7,165.4 Z" fill="#7c1a84"/>
<path d="M67.0,146.1 L76.1,143.1 L69.4,139.0 L60.4,142.0 Z" fill="#7c1a84"/>
<path d="M82.7,147.2 L91.7,142.1 L85.1,140.1 L76.1,143.1 Z" fill="#3726c7"/>
<path d="M98.4,144.9 L107.4,140.5 L100.8,138.8 L91.7,142.1 Z" fill="#433be4"/>
<path d="M114.0,139.3 L123.1,139.4 L116.5,138.4 L107.4,140.5 Z" fill="#327ffa"/>
<path d="M129.7,140.3 L138.8,142.5 L132.1,139.4 L123.1,139.4 Z" fill="#317ffa"/>
<path d="M145.4,148.0 L154.4,146.1 L147.8,141.8 L138.8,142.5 Z" fill="#443de6"/>
<path d="M161.1,150.5 L170.1,147.7 L163.5,143.5 L154.4,146.1 Z" fill="#3d30d8"/>
<path d="M176.8,151.8 L185.8,148.6 L179.2,144.6 L170.1,147.7 Z" fill="#3c2ed6"/>
<path d="M192.4,152.8 L201.5,149.2 L194.9,145.1 L185.8,148.6 Z" fill="#3d30d8"/>
<path d="M208.1,153.5 L217.2,149.7 L210.5,145.0 L201.5,149.2 Z" fill="#3f32dc"/>
<path d="M223.8,154.4 L232.8,150.7 L226.2,145.1 L217.2,149.7 Z" fill="#4034dd"/>
<path d="M239.5,155.6 L248.5,152.3 L241.9,146.8 L232.8,150.7 Z" fill="#3f33dc"/>
<path d="M255.2,159.3 L264.2,156.3 L257.6,149.1 L248.5,152.3 Z" fill="#3726c7"/>
<path d="M270.8,160.4 L279.9,157.4 L273.2,153.3 L264.2,156.3 Z" fill="#7c1a84"/>
<path d="M286.5,159.2 L295.6,155.8 L288.9,151.7 L279.9,157.4 Z" fill="#3e31da"/>
<path d="M302.2,159.9 L311.2,156.1 L304.6,152.1 L295.6,155.8 Z" fill="#4035de"/>
<path d="M317.9,160.2 L326.9,156.3 L320.3,152.0 L311.2,156.1 Z" fill="#443ce5"/>
<path d="M333.5,160.5 L342.6,156.8 L336.0,152.1 L326.9,156.3 Z" fill="#4646ec"/>
<path d="M349.2,161.2 L358.3,158.0 L351.6,153.0 L342.6,156.8 Z" fill="#474bef"/>
<path d="M364.9,162.6 L374.0,164.0 L367.3,159.9 L358.3,158.0 Z" fill="#4747ec"/>
<path d="M380.6,164.5 L389.6,161.9 L383.0,161.0 L374.0,164.0 Z" fill="#443de5"/>
<path d="M396.3,166.6 L405.3,164.0 L398.7,159.3 L389.6,161.9 Z" fill="#3f33dd"/>
<path d="M411.9,168.5 L421.0,165.7 L414.4,161.3 L405.3,164.0 Z" fill="#3c2dd5"/>
<path d="M427.6,170.1 L436.7,167.2 L430.0,162.9 L421.0,165.7 Z" fill="#392ad0"/>
<path d="M443.3,172.5 L452.3,169.5 L445.7,165.4 L436.7,167.2 Z" fill="#3726c7"/>
<path d="M459.0,173.6 L468.0,170.6 L461.4,166.5 L452.3,169.5 Z" fill="#7c1a84"/>
<path d="M73.6,150.1 L82.7,147.2 L76.1,143.1 L67.0,146.1 Z" fill="#7c1a84"/>
<path d="M89.3,151.2 L98.4,144.9 L91.7,142.1 L82.7,147.2 Z" fill="#3726c7"/>
<path d="M105.0,147.6 L114.0,139.3 L107.4,140.5 L98.4,144.9 Z" fill="#484cf0"/>
<path d="M120.7,146.5 L129.7,140.3 L123.1,139.4 L114.0,139.3 Z" fill="#4560fc"/>
<path d="M136.4,149.6 L145.4,148.0 L138.8,142.5 L129.7,140.3 Z" fill="#484ef1"/>
<path d="M152.0,153.2 L161.1,150.5 L154.4,146.1 L145.4,148.0 Z" fill="#3e32db"/>
<path d="M167.7,154.9 L176.8,151.8 L170.1,147.7 L161.1,150.5 Z" fill="#3c2ed6"/>
<path d="M183.4,156.0 L192.4,152.8 L185.8,148.6 L176.8,151.8 Z" fill="#3c2dd5"/>
<path d="M199.1,157.0 L208.1,153.5 L201.5,149.2 L192.4,152.8 Z" fill="#3c2fd7"/>
<path d="M214.7,157.9 L223.8,154.4 L217.2,149.7 L208.1,153.5 Z" fill="#3d30d8"/>
<path d="M230.4,159.0 L239.5,155.6 L232.8,150.7 L223.8,154.4 Z" fill="#3d30d9"/>
<path d="M246.1,162.2 L255.2,159.3 L248.5,152.3 L239.5,155.6 Z" fill="#3726c7"/>
<path d="M261.8,163.3 L270.8,160.4 L264.2,156.3 L255.2,159.3 Z" fill="#7c1a84"/>
<path d="M277.5,162.5 L286.5,159.2 L279.9,157.4 L270.8,160.4 Z" fill="#3c2ed6"/>
<path d="M293.1,163.3 L302.2,159.9 L295.6,155.8 L286.5,159.2 Z" fill="#3e30d9"/>
<path d="M308.8,163.9 L317.9,160.2 L311.2,156.1 L302.2,159.9 Z" fill="#4035df"/>
<path d="M324.5,164.2 L333.5,160.5 L326.9,156.3 L317.9,160.2 Z" fill="#443de6"/>
<path d="M340.2,164.6 L349.2,161.2 L342.6,156.8 L333.5,160.5 Z" fill="#4646ec"/>
<path d="M355.9,165.5 L364.9,162.6 L358.3,158.0 L349.2,161.2 Z" fill="#4749ed"/>
<path d="M371.5,167.1 L380.6,164.5 L374.0,164.0 L364.9,162.6 Z" fill="#4642e9"/>
<path d="M387.2,169.1 L396.3,166.6 L389.6,161.9 L380.6,164.5 Z" fill="#4238e1"/>
<path d="M402.9,171.2 L411.9,168.5 L405.3,164.0 L396.3,166.6 Z" fill="#3d30d8"/>
<path d="M418.6,172.9 L427.6,170.1 L421.0,165.7 L411.9,168.5 Z" fill="#3a2bd2"/>
<path d="M434.3,175.4 L443.3,172.5 L436.7,167.2 L427.6,170.1 Z" fill="#3726c7"/>
<path d="M449.9,176.5 L459.0,173.6 L452.3,169.5 L443.3,172.5 Z" fill="#7c1a84"/>
<path d="M80.3,154.2 L89.3,151.2 L82.7,147.2 L73.6,150.1 Z" fill="#7c1a84"/>
<path d="M95.9,155.3 L105.0,147.6 L98.4,144.9 L89.3,151.2 Z" fill="#3726c7"/>
<path d="M111.6,152.5 L120.7,146.5 L114.0,139.3 L105.0,147.6 Z" fill="#4541e8"/>
<path d="M127.3,153.6 L136.4,149.6 L129.7,140.3 L120.7,146.5 Z" fill="#4542e9"/>
<path d="M143.0,156.0 L152.0,153.2 L145.4,148.0 L136.4,149.6 Z" fill="#4034dd"/>
<path d="M158.7,157.8 L167.7,154.9 L161.1,150.5 L152.0,153.2 Z" fill="#3c2ed6"/>
<path d="M174.3,159.1 L183.4,156.0 L176.8,151.8 L167.7,154.9 Z" fill="#3b2cd4"/>
<path d="M190.0,160.2 L199.1,157.0 L192.4,152.8 L183.4,156.0 Z" fill="#3b2dd4"/>
<path d="M205.7,161.2 L214.7,157.9 L208.1,153.5 L199.1,157.0 Z" fill="#3c2dd5"/>
<path d="M221.4,162.3 L230.4,159.0 L223.8,154.4 L214.7,157.9 Z" fill="#3c2ed6"/>
<path d="M237.1,165.2 L246.1,162.2 L239.5,155.6 L230.4,159.0 Z" fill="#3726c7"/>
<path d="M252.7,166.3 L261.8,163.3 L255.2,159.3 L246.1,162.2 Z" fill="#7c1a84"/>
<path d="M268.4,165.7 L277.5,162.5 L270.8,160.4 L261.8,163.3 Z" fill="#3b2dd4"/>
<path d="M284.1,166.7 L293.1,163.3 L286.5,159.2 L277.5,162.5 Z" fill="#3c2ed5"/>
<path d="M299.8,167.4 L308.8,163.9 L302.2,159.9 L293.1,163.3 Z" fill="#3e31da"/>
<path d="M315.5,167.8 L324.5,164.2 L317.9,160.2 L308.8,163.9 Z" fill="#4137e0"/>
<path d="M331.1,168.0 L340.2,164.6 L333.5,160.5 L324.5,164.2 Z" fill="#4541e8"/>
<path d="M346.8,168.4 L355.9,165.5 L349.2,161.2 L340.2,164.6 Z" fill="#4749ee"/>
<path d="M362.5,169.6 L371.5,167.1 L364.9,162.6 L355.9,165.5 Z" fill="#4748ed"/>
<path d="M378.2,171.5 L387.2,169.1 L380.6,164.5 L371.5,167.1 Z" fill="#453ee6"/>
<path d="M393.9,173.6 L402.9,171.2 L396.3,166.6 L387.2,169.1 Z" fill="#3f34dd"/>
<path d="M409.5,175.6 L418.6,172.9 L411.9,168.5 L402.9,171.2 Z" fill="#3b2dd4"/>
<path d="M425.2,178.4 L434.3,175.4 L427.6,170.1 L418.6,172.9 Z" fill="#3726c7"/>
<path d="M440.9,179.5 L449.9,176.5 L443.3,172.5 L434.3,175.4 Z" fill="#7c1a84"/>
<path d="M86.9,158.3 L95.9,155.3 L89.3,151.2 L80.3,154.2 Z" fill="#7c1a84"/>
<path d="M102.6,159.4 L111.6,152.5 L105.0,147.6 L95.9,155.3 Z" fill="#3726c7"/>
<path d="M118.3,157.8 L127.3,153.6 L120.7,146.5 L111.6,152.5 Z" fill="#4035de"/>
<path d="M133.9,159.2 L143.0,156.0 L136.4,149.6 L127.3,153.6 Z" fill="#3e32db"/>
<path d="M149.6,160.8 L158.7,157.8 L152.0,153.2 L143.0,156.0 Z" fill="#3c2ed6"/>
<path d="M165.3,162.2 L174.3,159.1 L167.7,154.9 L158.7,157.8 Z" fill="#3b2cd3"/>
<path d="M181.0,163.3 L190.0,160.2 L183.4,156.0 L174.3,159.1 Z" fill="#3a2cd2"/>
<path d="M196.7,164.4 L205.7,161.2 L199.1,157.0 L190.0,160.2 Z" fill="#3b2cd3"/>
<path d="M212.3,165.4 L221.4,162.3 L214.7,157.9 L205.7,161.2 Z" fill="#3b2cd3"/>
<path d="M228.0,166.5 L237.1,165.2 L230.4,159.0 L221.4,162.3 Z" fill="#3b2cd3"/>
<path d="M243.7,169.3 L252.7,166.3 L246.1,162.2 L237.1,165.2 Z" fill="#7c1a84"/>
<path d="M259.4,170.4 L268.4,165.7 L261.8,163.3 L252.7,166.3 Z" fill="#3726c7"/>
<path d="M275.1,169.9 L284.1,166.7 L277.5,162.5 L268.4,165.7 Z" fill="#3b2cd3"/>
<path d="M290.7,170.7 L299.8,167.4 L293.1,163.3 L284.1,166.7 Z" fill="#3c2ed6"/>
<path d="M306.4,171.3 L315.5,167.8 L308.8,163.9 L299.8,167.4 Z" fill="#3f32db"/>
<path d="M322.1,171.4 L331.1,168.0 L324.5,164.2 L315.5,167.8 Z" fill="#433be3"/>
<path d="M337.8,171.6 L346.8,168.4 L340.2,164.6 L331.1,168.0 Z" fill="#4747ec"/>
<path d="M353.4,172.2 L362.5,169.6 L355.9,165.5 L346.8,168.4 Z" fill="#484cf0"/>
<path d="M369.1,173.7 L378.2,171.5 L371.5,167.1 L362.5,169.6 Z" fill="#4747ec"/>
<path d="M384.8,175.9 L393.9,173.6 L387.2,169.1 L378.2,171.5 Z" fill="#433ae3"/>
<path d="M400.5,178.1 L409.5,175.6 L402.9,171.2 L393.9,173.6 Z" fill="#3d30d9"/>
<path d="M416.2,181.4 L425.2,178.4 L418.6,172.9 L409.5,175.6 Z" fill="#3726c7"/>
<path d="M431.8,182.5 L440.9,179.5 L434.3,175.4 L425.2,178.4 Z" fill="#7c1a84"/>
<path d="M93.5,162.3 L102.6,159.4 L95.9,155.3 L86.9,158.3 Z" fill="#7c1a84"/>
<path d="M109.2,163.4 L118.3,157.8 L111.6,152.5 L102.6,159.4 Z" fill="#3726c7"/>
<path d="M124.9,162.5 L133.9,159.2 L127.3,153.6 L118.3,157.8 Z" fill="#3d2fd7"/>
<path d="M140.6,163.9 L149.6,160.8 L143.0,156.0 L133.9,159.2 Z" fill="#3b2dd5"/>
<path d="M156.3,165.2 L165.3,162.2 L158.7,157.8 L149.6,160.8 Z" fill="#3a2cd2"/>
<path d="M171.9,166.4 L181.0,163.3 L174.3,159.1 L165.3,162.2 Z" fill="#3a2bd1"/>
<path d="M187.6,167.5 L196.7,164.4 L190.0,160.2 L181.0,163.3 Z" fill="#3a2bd1"/>
<path d="M203.3,168.6 L212.3,165.4 L205.7,161.2 L196.7,164.4 Z" fill="#3a2bd2"/>
<path d="M219.0,169.7 L228.0,166.5 L221.4,162.3 L212.3,165.4 Z" fill="#3a2bd2"/>
<path d="M234.6,170.8 L243.7,169.3 L237.1,165.2 L228.0,166.5 Z" fill="#3a2bd2"/>
<path d="M250.3,173.3 L259.4,170.4 L252.7,166.3 L243.7,169.3 Z" fill="#7c1a84"/>
<path d="M266.0,174.4 L275.1,169.9 L268.4,165.7 L259.4,170.4 Z" fill="#3726c7"/>
<path d="M281.7,174.0 L290.7,170.7 L284.1,166.7 L275.1,169.9 Z" fill="#3b2cd3"/>
<path d="M297.4,174.7 L306.4,171.3 L299.8,167.4 L290.7,170.7 Z" fill="#3c2fd7"/>
<path d="M313.0,175.0 L322.1,171.4 L315.5,167.8 L306.4,171.3 Z" fill="#4035df"/>
<path d="M328.7,175.0 L337.8,171.6 L331.1,168.0 L322.1,171.4 Z" fill="#4541e8"/>
<path d="M344.4,175.1 L353.4,172.2 L346.8,168.4 L337.8,171.6 Z" fill="#484df0"/>
<path d="M360.1,176.2 L369.1,173.7 L362.5,169.6 L353.4,172.2 Z" fill="#484df1"/>
<path d="M375.8,178.1 L384.8,175.9 L378.2,171.5 L369.1,173.7 Z" fill="#4643e9"/>
<path d="M391.4,180.5 L400.5,178.1 L393.9,173.6 L384.8,175.9 Z" fill="#4035df"/>
<path d="M407.1,184.3 L416.2,181.4 L409.5,175.6 L400.5,178.1 Z" fill="#3726c7"/>
<path d="M422.8,185.4 L431.8,182.5 L425.2,178.4 L416.2,181.4 Z" fill="#7c1a84"/>
<path d="M100.2,166.4 L109.2,163.4 L102.6,159.4 L93.5,162.3 Z" fill="#7c1a84"/>
<path d="M115.8,167.5 L124.9,162.5 L118.3,157.8 L109.2,163.4 Z" fill="#3726c7"/>
<path d="M131.5,167.0 L140.6,163.9 L133.9,159.2 L124.9,162.5 Z" fill="#3b2cd3"/>
<path d="M147.2,168.2 L156.3,165.2 L149.6,160.8 L140.6,163.9 Z" fill="#3a2bd2"/>
<path d="M162.9,169.4 L171.9,166.4 L165.3,162.2 L156.3,165.2 Z" fill="#3a2ad1"/>
<path d="M178.6,170.6 L187.6,167.5 L181.0,163.3 L171.9,166.4 Z" fill="#392ad0"/>
<path d="M194.2,171.7 L203.3,168.6 L196.7,164.4 L187.6,167.5 Z" fill="#392ad0"/>
<path d="M209.9,172.7 L219.0,169.7 L212.3,165.4 L203.3,168.6 Z" fill="#392ad0"/>
<path d="M225.6,173.8 L234.6,170.8 L228.0,166.5 L219.0,169.7 Z" fill="#392ad0"/>
<path d="M241.3,175.0 L250.3,173.3 L243.7,169.3 L234.6,170.8 Z" fill="#392ad0"/>
<path d="M257.0,177.4 L266.0,174.4 L259.4,170.4 L250.3,173.3 Z" fill="#7c1a84"/>
<path d="M272.6,178.5 L281.7,174.0 L275.1,169.9 L266.0,174.4 Z" fill="#3726c7"/>
<path d="M288.3,178.0 L297.4,174.7 L290.7,170.7 L281.7,174.0 Z" fill="#3b2cd3"/>
<path d="M304.0,178.5 L313.0,175.0 L306.4,171.3 L297.4,174.7 Z" fill="#3e30d9"/>
<path d="M319.7,178.6 L328.7,175.0 L322.1,171.4 L313.0,175.0 Z" fill="#433ae3"/>
<path d="M335.4,178.5 L344.4,175.1 L337.8,171.6 L328.7,175.0 Z" fill="#4748ed"/>
<path d="M351.0,178.9 L360.1,176.2 L353.4,172.2 L344.4,175.1 Z" fill="#484ff2"/>
<path d="M366.7,180.5 L375.8,178.1 L369.1,173.7 L360.1,176.2 Z" fill="#474bef"/>
<path d="M382.4,182.8 L391.4,180.5 L384.8,175.9 L375.8,178.1 Z" fill="#443ce5"/>
<path d="M398.1,187.3 L407.1,184.3 L400.5,178.1 L391.4,180.5 Z" fill="#3726c7"/>
<path d="M413.8,188.4 L422.8,185.4 L416.2,181.4 L407.1,184.3 Z" fill="#7c1a84"/>
<path d="M106.8,170.5 L115.8,167.5 L109.2,163.4 L100.2,166.4 Z" fill="#7c1a84"/>
<path d="M122.5,171.6 L131.5,167.0 L124.9,162.5 L115.8,167.5 Z" fill="#3726c7"/>
<path d="M138.2,171.3 L147.2,168.2 L140.6,163.9 L131.5,167.0 Z" fill="#3a2ad1"/>
<path d="M153.8,172.5 L162.9,169.4 L156.3,165.2 L147.2,168.2 Z" fill="#392ad0"/>
<path d="M169.5,173.6 L178.6,170.6 L171.9,166.4 L162.9,169.4 Z" fill="#3929d0"/>
<path d="M185.2,174.7 L194.2,171.7 L187.6,167.5 L178.6,170.6 Z" fill="#3929cf"/>
<path d="M200.9,175.8 L209.9,172.7 L203.3,168.6 L194.2,171.7 Z" fill="#3929cf"/>
<path d="M216.6,176.9 L225.6,173.8 L219.0,169.7 L209.9,172.7 Z" fill="#3929cf"/>
<path d="M232.2,178.0 L241.3,175.0 L234.6,170.8 L225.6,173.8 Z" fill="#3929cf"/>
<path d="M247.9,179.1 L257.0,177.4 L250.3,173.3 L241.3,175.0 Z" fill="#3929cf"/>
<path d="M263.6,181.5 L272.6,178.5 L266.0,174.4 L257.0,177.4 Z" fill="#7c1a84"/>
<path d="M279.3,182.6 L288.3,178.0 L281.7,174.0 L272.6,178.5 Z" fill="#3726c7"/>
<path d="M295.0,181.9 L304.0,178.5 L297.4,174.7 L288.3,178.0 Z" fill="#3b2dd5"/>
<path d="M310.6,182.2 L319.7,178.6 L313.0,175.0 L304.0,178.5 Z" fill="#3f33dd"/>
<path d="M326.3,182.1 L335.4,178.5 L328.7,175.0 L319.7,178.6 Z" fill="#4540e7"/>
<path d="M342.0,182.2 L351.0,178.9 L344.4,175.1 L335.4,178.5 Z" fill="#484cf0"/>
<path d="M357.7,183.2 L366.7,180.5 L360.1,176.2 L351.0,178.9 Z" fill="#484ef1"/>
<path d="M373.3,185.1 L382.4,182.8 L375.8,178.1 L366.7,180.5 Z" fill="#4643ea"/>
<path d="M389.0,190.3 L398.1,187.3 L391.4,180.5 L382.4,182.8 Z" fill="#3726c7"/>
<path d="M404.7,191.4 L413.8,188.4 L407.1,184.3 L398.1,187.3 Z" fill="#7c1a84"/>
<path d="M113.4,174.5 L122.5,171.6 L115.8,167.5 L106.8,170.5 Z" fill="#7c1a84"/>
<path d="M129.1,175.6 L138.2,171.3 L131.5,167.0 L122.5,171.6 Z" fill="#3726c7"/>
<path d="M144.8,175.5 L153.8,172.5 L147.2,168.2 L138.2,171.3 Z" fill="#3929cf"/>
<path d="M160.5,176.6 L169.5,173.6 L162.9,169.4 L153.8,172.5 Z" fill="#3929cf"/>
<path d="M176.2,177.7 L185.2,174.7 L178.6,170.6 L169.5,173.6 Z" fill="#3929cf"/>
<path d="M191.8,178.8 L200.9,175.8 L194.2,171.7 L185.2,174.7 Z" fill="#3929cf"/>
<path d="M207.5,179.9 L216.6,176.9 L209.9,172.7 L200.9,175.8 Z" fill="#3929cf"/>
<path d="M223.2,181.0 L232.2,178.0 L225.6,173.8 L216.6,176.9 Z" fill="#3929cf"/>
<path d="M238.9,182.2 L247.9,179.1 L241.3,175.0 L232.2,178.0 Z" fill="#3929cf"/>
<path d="M254.5,183.3 L263.6,181.5 L257.0,177.4 L247.9,179.1 Z" fill="#3929cf"/>
<path d="M270.2,185.5 L279.3,182.6 L272.6,178.5 L263.6,181.5 Z" fill="#7c1a84"/>
<path d="M285.9,186.6 L295.0,181.9 L288.3,178.0 L279.3,182.6 Z" fill="#3726c7"/>
<path d="M301.6,185.8 L310.6,182.2 L304.0,178.5 L295.0,181.9 Z" fill="#3c2fd7"/>
<path d="M317.3,185.9 L326.3,182.1 L319.7,178.6 L310.6,182.2 Z" fill="#4137e0"/>
<path d="M332.9,185.9 L342.0,182.2 L335.4,178.5 L326.3,182.1 Z" fill="#4643ea"/>
<path d="M348.6,186.4 L357.7,183.2 L351.0,178.9 L342.0,182.2 Z" fill="#474bef"/>
<path d="M364.3,187.9 L373.3,185.1 L366.7,180.5 L357.7,183.2 Z" fill="#4646ec"/>
<path d="M380.0,193.2 L389.0,190.3 L382.4,182.8 L373.3,185.1 Z" fill="#3726c7"/>
<path d="M395.7,194.4 L404.7,191.4 L398.1,187.3 L389.0,190.3 Z" fill="#7c1a84"/>
<path d="M120.1,178.6 L129.1,175.6 L122.5,171.6 L113.4,174.5 Z" fill="#7c1a84"/>
<path d="M135.7,179.7 L144.8,175.5 L138.2,171.3 L129.1,175.6 Z" fill="#3726c7"/>
<path d="M151.4,179.7 L160.5,176.6 L153.8,172.5 L144.8,175.5 Z" fill="#3929ce"/>
<path d="M167.1,180.8 L176.2,177.7 L169.5,173.6 L160.5,176.6 Z" fill="#3929ce"/>
<path d="M182.8,183.0 L191.8,178.8 L185.2,174.7 L176.2,177.7 Z" fill="#3726c7"/>
<path d="M198.5,183.0 L207.5,179.9 L200.9,175.8 L191.8,178.8 Z" fill="#3929ce"/>
<path d="M214.1,184.1 L223.2,181.0 L216.6,176.9 L207.5,179.9 Z" fill="#3929ce"/>
<path d="M229.8,185.2 L238.9,182.2 L232.2,178.0 L223.2,181.0 Z" fill="#3929ce"/>
<path d="M245.5,186.3 L254.5,183.3 L247.9,179.1 L238.9,182.2 Z" fill="#3929ce"/>
<path d="M261.2,187.4 L270.2,185.5 L263.6,181.5 L254.5,183.3 Z" fill="#3929ce"/>
<path d="M276.9,189.6 L285.9,186.6 L279.3,182.6 L270.2,185.5 Z" fill="#7c1a84"/>
<path d="M292.5,190.7 L301.6,185.8 L295.0,181.9 L285.9,186.6 Z" fill="#3726c7"/>
<path d="M308.2,189.6 L317.3,185.9 L310.6,182.2 L301.6,185.8 Z" fill="#3d30d9"/>
<path d="M323.9,186.7 L332.9,185.9 L326.3,182.1 L317.3,185.9 Z" fill="#4239e2"/>
<path d="M339.6,187.0 L348.6,186.4 L342.0,182.2 L332.9,185.9 Z" fill="#4642e9"/>
<path d="M355.3,195.1 L364.3,187.9 L357.7,183.2 L348.6,186.4 Z" fill="#3726c7"/>
<path d="M370.9,196.2 L380.0,193.2 L373.3,185.1 L364.3,187.9 Z" fill="#3726c7"/>
<path d="M386.6,197.3 L395.7,194.4 L389.0,190.3 L380.0,193.2 Z" fill="#7c1a84"/>
<path d="M126.7,182.7 L135.7,179.7 L129.1,175.6 L120.1,178.6 Z" fill="#7c1a84"/>
<path d="M142.4,183.8 L151.4,179.7 L144.8,175.5 L135.7,179.7 Z" fill="#3726c7"/>
<path d="M158.1,183.8 L167.1,180.8 L160.5,176.6 L151.4,179.7 Z" fill="#3829ce"/>
<path d="M173.7,186.0 L182.8,183.0 L176.2,177.7 L167.1,180.8 Z" fill="#3726c7"/>
<path d="M189.4,187.1 L198.5,183.0 L191.8,178.8 L182.8,183.0 Z" fill="#3726c7"/>
<path d="M205.1,187.1 L214.1,184.1 L207.5,179.9 L198.5,183.0 Z" fill="#3829ce"/>
<path d="M220.8,188.2 L229.8,185.2 L223.2,181.0 L214.1,184.1 Z" fill="#3829ce"/>
<path d="M236.5,189.3 L245.5,186.3 L238.9,182.2 L229.8,185.2 Z" fill="#3829ce"/>
<path d="M252.1,190.4 L261.2,187.4 L254.5,183.3 L245.5,186.3 Z" fill="#3829ce"/>
<path d="M267.8,191.5 L276.9,189.6 L270.2,185.5 L261.2,187.4 Z" fill="#3929ce"/>
<path d="M283.5,193.7 L292.5,190.7 L285.9,186.6 L276.9,189.6 Z" fill="#7c1a84"/>
<path d="M299.2,194.8 L308.2,189.6 L301.6,185.8 L292.5,190.7 Z" fill="#3726c7"/>
<path d="M314.9,189.9 L323.9,186.7 L317.3,185.9 L308.2,189.6 Z" fill="#3e31da"/>
<path d="M330.5,187.4 L339.6,187.0 L332.9,185.9 L323.9,186.7 Z" fill="#4238e1"/>
<path d="M346.2,194.3 L355.3,195.1 L348.6,186.4 L339.6,187.0 Z" fill="#3726c7"/>
<path d="M361.9,199.2 L370.9,196.2 L364.3,187.9 L355.3,195.1 Z" fill="#3726c7"/>
<path d="M377.6,200.3 L386.6,197.3 L380.0,193.2 L370.9,196.2 Z" fill="#7c1a84"/>
<path d="M133.3,186.7 L142.4,183.8 L135.7,179.7 L126.7,182.7 Z" fill="#7c1a84"/>
<path d="M149.0,187.8 L158.1,183.8 L151.4,179.7 L142.4,183.8 Z" fill="#3726c7"/>
<path d="M164.7,188.9 L173.7,186.0 L167.1,180.8 L158.1,183.8 Z" fill="#3726c7"/>
<path d="M180.4,190.0 L189.4,187.1 L182.8,183.0 L173.7,186.0 Z" fill="#7c1a84"/>
<path d="M196.1,190.1 L205.1,187.1 L198.5,183.0 L189.4,187.1 Z" fill="#3829ce"/>
<path d="M211.7,191.2 L220.8,188.2 L214.1,184.1 L205.1,187.1 Z" fill="#3829ce"/>
<path d="M227.4,192.3 L236.5,189.3 L229.8,185.2 L220.8,188.2 Z" fill="#3828ce"/>
<path d="M243.1,193.4 L252.1,190.4 L245.5,186.3 L236.5,189.3 Z" fill="#3828ce"/>
<path d="M258.8,194.5 L267.8,191.5 L261.2,187.4 L252.1,190.4 Z" fill="#3829ce"/>
<path d="M274.4,195.6 L283.5,193.7 L276.9,189.6 L267.8,191.5 Z" fill="#3829ce"/>
<path d="M290.1,197.7 L299.2,194.8 L292.5,190.7 L283.5,193.7 Z" fill="#7c1a84"/>
<path d="M305.8,198.1 L314.9,189.9 L308.2,189.6 L299.2,194.8 Z" fill="#3726c7"/>
<path d="M321.5,187.6 L330.5,187.4 L323.9,186.7 L314.9,189.9 Z" fill="#3e31da"/>
<path d="M337.2,190.9 L346.2,194.3 L339.6,187.0 L330.5,187.4 Z" fill="#3726c7"/>
<path d="M352.8,200.6 L361.9,199.2 L355.3,195.1 L346.2,194.3 Z" fill="#3726c7"/>
<path d="M368.5,203.3 L377.6,200.3 L370.9,196.2 L361.9,199.2 Z" fill="#7c1a84"/>
<path d="M140.0,190.8 L149.0,187.8 L142.4,183.8 L133.3,186.7 Z" fill="#7c1a84"/>
<path d="M155.6,191.9 L164.7,188.9 L158.1,183.8 L149.0,187.8 Z" fill="#3726c7"/>
<path d="M171.3,193.0 L180.4,190.0 L173.7,186.0 L164.7,188.9 Z" fill="#7c1a84"/>
<path d="M187.0,193.1 L196.1,190.1 L189.4,187.1 L180.4,190.0 Z" fill="#3828cd"/>
<path d="M202.7,194.2 L211.7,191.2 L205.1,187.1 L196.1,190.1 Z" fill="#3828cd"/>
<path d="M218.4,195.3 L227.4,192.3 L220.8,188.2 L211.7,191.2 Z" fill="#3828cd"/>
<path d="M234.0,196.4 L243.1,193.4 L236.5,189.3 L227.4,192.3 Z" fill="#3828cd"/>
<path d="M249.7,197.5 L258.8,194.5 L252.1,190.4 L243.1,193.4 Z" fill="#3828cd"/>
<path d="M265.4,198.6 L274.4,195.6 L267.8,191.5 L258.8,194.5 Z" fill="#3828cd"/>
<path d="M281.1,199.6 L290.1,197.7 L283.5,193.7 L274.4,195.6 Z" fill="#3829ce"/>
<path d="M296.8,201.8 L305.8,198.1 L299.2,194.8 L290.1,197.7 Z" fill="#7c1a84"/>
<path d="M312.4,201.3 L321.5,187.6 L314.9,189.9 L305.8,198.1 Z" fill="#3726c7"/>
<path d="M328.1,180.4 L337.2,190.9 L330.5,187.4 L321.5,187.6 Z" fill="#1ca5dd"/>
<path d="M343.8,201.9 L352.8,200.6 L346.2,194.3 L337.2,190.9 Z" fill="#3726c7"/>
<path d="M359.5,206.2 L368.5,203.3 L361.9,199.2 L352.8,200.6 Z" fill="#7c1a84"/>
<path d="M146.6,194.9 L155.6,191.9 L149.0,187.8 L140.0,190.8 Z" fill="#7c1a84"/>
<path d="M162.3,196.0 L171.3,193.0 L164.7,188.9 L155.6,191.9 Z" fill="#7c1a84"/>
<path d="M178.0,196.1 L187.0,193.1 L180.4,190.0 L171.3,193.0 Z" fill="#3828cd"/>
<path d="M193.6,197.2 L202.7,194.2 L196.1,190.1 L187.0,193.1 Z" fill="#3828cd"/>
<path d="M209.3,198.3 L218.4,195.3 L211.7,191.2 L202.7,194.2 Z" fill="#3828cd"/>
<path d="M225.0,199.4 L234.0,196.4 L227.4,192.3 L218.4,195.3 Z" fill="#3828cd"/>
<path d="M240.7,200.5 L249.7,197.5 L243.1,193.4 L234.0,196.4 Z" fill="#3828cd"/>
<path d="M256.4,201.6 L265.4,198.6 L258.8,194.5 L249.7,197.5 Z" fill="#3828cd"/>
<path d="M272.0,202.7 L281.1,199.6 L274.4,195.6 L265.4,198.6 Z" fill="#3828cd"/>
<path d="M287.7,204.8 L296.8,201.8 L290.1,197.7 L281.1,199.6 Z" fill="#3726c7"/>
<path d="M303.4,205.9 L312.4,201.3 L305.8,198.1 L296.8,201.8 Z" fill="#7c1a84"/>
<path d="M319.1,204.4 L328.1,180.4 L321.5,187.6 L312.4,201.3 Z" fill="#3726c7"/>
<path d="M334.7,203.0 L343.8,201.9 L337.2,190.9 L328.1,180.4 Z" fill="#3726c7"/>
<path d="M350.4,209.2 L359.5,206.2 L352.8,200.6 L343.8,201.9 Z" fill="#7c1a84"/>
<path d="M153.2,198.9 L162.3,196.0 L155.6,191.9 L146.6,194.9 Z" fill="#7c1a84"/>
<path d="M168.9,200.0 L178.0,196.1 L171.3,193.0 L162.3,196.0 Z" fill="#3726c7"/>
<path d="M184.6,200.2 L193.6,197.2 L187.0,193.1 L178.0,196.1 Z" fill="#3828cd"/>
<path d="M200.3,201.3 L209.3,198.3 L202.7,194.2 L193.6,197.2 Z" fill="#3828cd"/>
<path d="M215.9,202.4 L225.0,199.4 L218.4,195.3 L209.3,198.3 Z" fill="#3828cd"/>
<path d="M231.6,203.5 L240.7,200.5 L234.0,196.4 L225.0,199.4 Z" fill="#3828cd"/>
<path d="M247.3,204.6 L256.4,201.6 L249.7,197.5 L240.7,200.5 Z" fill="#3828cd"/>
<path d="M263.0,205.7 L272.0,202.7 L265.4,198.6 L256.4,201.6 Z" fill="#3828cd"/>
<path d="M278.7,207.7 L287.7,204.8 L281.1,199.6 L272.0,202.7 Z" fill="#3726c7"/>
<path d="M294.3,208.8 L303.4,205.9 L296.8,201.8 L287.7,204.8 Z" fill="#7c1a84"/>
<path d="M310.0,210.0 L319.1,204.4 L312.4,201.3 L303.4,205.9 Z" fill="#7c1a84"/>
<path d="M325.7,210.2 L334.7,203.0 L328.1,180.4 L319.1,204.4 Z" fill="#3726c7"/>
<path d="M341.4,212.2 L350.4,209.2 L343.8,201.9 L334.7,203.0 Z" fill="#7c1a84"/>
<path d="M159.9,203.0 L168.9,200.0 L162.3,196.0 L153.2,198.9 Z" fill="#7c1a84"/>
<path d="M175.5,204.1 L184.6,200.2 L178.0,196.1 L168.9,200.0 Z" fill="#3726c7"/>
<path d="M191.2,204.3 L200.3,201.3 L193.6,197.2 L184.6,200.2 Z" fill="#3828cd"/>
<path d="M206.9,205.4 L215.9,202.4 L209.3,198.3 L200.3,201.3 Z" fill="#3828cd"/>
<path d="M222.6,206.5 L231.6,203.5 L225.0,199.4 L215.9,202.4 Z" fill="#3828cd"/>
<path d="M238.3,207.6 L247.3,204.6 L240.7,200.5 L231.6,203.5 Z" fill="#3828cd"/>
<path d="M253.9,208.7 L263.0,205.7 L256.4,201.6 L247.3,204.6 Z" fill="#3828cd"/>
<path d="M269.6,210.7 L278.7,207.7 L272.0,202.7 L263.0,205.7 Z" fill="#3726c7"/>
<path d="M285.3,211.8 L294.3,208.8 L287.7,204.8 L278.7,207.7 Z" fill="#7c1a84"/>
<path d="M301.0,212.9 L310.0,210.0 L303.4,205.9 L294.3,208.8 Z" fill="#7c1a84"/>
<path d="M316.7,214.0 L325.7,210.2 L319.1,204.4 L310.0,210.0 Z" fill="#7c1a84"/>
<path d="M332.3,215.1 L341.4,212.2 L334.7,203.0 L325.7,210.2 Z" fill="#7c1a84"/>
<path d="M166.5,207.1 L175.5,204.1 L168.9,200.0 L159.9,203.0 Z" fill="#7c1a84"/>
<path d="M182.2,208.2 L191.2,204.3 L184.6,200.2 L175.5,204.1 Z" fill="#3726c7"/>
<path d="M197.9,208.4 L206.9,205.4 L200.3,201.3 L191.2,204.3 Z" fill="#3828cd"/>
<path d="M213.5,209.5 L222.6,206.5 L215.9,202.4 L206.9,205.4 Z" fill="#3828cd"/>
<path d="M229.2,210.6 L238.3,207.6 L231.6,203.5 L222.6,206.5 Z" fill="#3828cd"/>
<path d="M244.9,211.7 L253.9,208.7 L247.3,204.6 L238.3,207.6 Z" fill="#3828cd"/>
<path d="M260.6,212.8 L269.6,210.7 L263.0,205.7 L253.9,208.7 Z" fill="#3828cd"/>
<path d="M276.3,214.8 L285.3,211.8 L278.7,207.7 L269.6,210.7 Z" fill="#7c1a84"/>
<path d="M291.9,215.9 L301.0,212.9 L294.3,208.8 L285.3,211.8 Z" fill="#7c1a84"/>
<path d="M307.6,217.0 L316.7,214.0 L310.0,210.0 L301.0,212.9 Z" fill="#7c1a84"/>
<path d="M323.3,218.1 L332.3,215.1 L325.7,210.2 L316.7,214.0 Z" fill="#7c1a84"/>
<path d="M173.1,211.1 L182.2,208.2 L175.5,204.1 L166.5,207.1 Z" fill="#7c1a84"/>
<path d="M188.8,212.2 L197.9,208.4 L191.2,204.3 L182.2,208.2 Z" fill="#3726c7"/>
<path d="M204.5,212.5 L213.5,209.5 L206.9,205.4 L197.9,208.4 Z" fill="#3828cd"/>
<path d="M220.2,213.6 L229.2,210.6 L222.6,206.5 L213.5,209.5 Z" fill="#3828cd"/>
<path d="M235.8,214.7 L244.9,211.7 L238.3,207.6 L229.2,210.6 Z" fill="#3828cd"/>
<path d="M251.5,215.8 L260.6,212.8 L253.9,208.7 L244.9,211.7 Z" fill="#3828cd"/>
<path d="M267.2,216.9 L276.3,214.8 L269.6,210.7 L260.6,212.8 Z" fill="#3828cd"/>
<path d="M282.9,218.9 L291.9,215.9 L285.3,211.8 L276.3,214.8 Z" fill="#7c1a84"/>
<path d="M298.6,220.0 L307.6,217.0 L301.0,212.9 L291.9,215.9 Z" fill="#7c1a84"/>
<path d="M314.2,221.1 L323.3,218.1 L316.7,214.0 L307.6,217.0 Z" fill="#7c1a84"/>
<path d="M179.8,215.2 L188.8,212.2 L182.2,208.2 L173.1,211.1 Z" fill="#7c1a84"/>
<path d="M195.4,216.3 L204.5,212.5 L197.9,208.4 L188.8,212.2 Z" fill="#3726c7"/>
<path d="M211.1,216.6 L220.2,213.6 L213.5,209.5 L204.5,212.5 Z" fill="#3828cc"/>
<path d="M226.8,217.7 L235.8,214.7 L229.2,210.6 L220.2,213.6 Z" fill="#3828cc"/>
<path d="M242.5,218.8 L251.5,215.8 L244.9,211.7 L235.8,214.7 Z" fill="#3828cc"/>
<path d="M258.2,219.9 L267.2,216.9 L260.6,212.8 L251.5,215.8 Z" fill="#3828cc"/>
<path d="M273.8,221.0 L282.9,218.9 L276.3,214.8 L267.2,216.9 Z" fill="#3828cc"/>
<path d="M289.5,222.9 L298.6,220.0 L291.9,215.9 L282.9,218.9 Z" fill="#7c1a84"/>
<path d="M305.2,224.0 L314.2,221.1 L307.6,217.0 L298.6,220.0 Z" fill="#7c1a84"/>
<path d="M186.4,219.3 L195.4,216.3 L188.8,212.2 L179.8,215.2 Z" fill="#7c1a84"/>
<path d="M202.1,220.4 L211.1,216.6 L204.5,212.5 L195.4,216.3 Z" fill="#3726c7"/>
<path d="M217.8,220.6 L226.8,217.7 L220.2,213.6 L211.1,216.6 Z" fill="#3828cc"/>
<path d="M233.4,221.7 L242.5,218.8 L235.8,214.7 L226.8,217.7 Z" fill="#3828cc"/>
<path d="M249.1,222.8 L258.2,219.9 L251.5,215.8 L242.5,218.8 Z" fill="#3828cc"/>
<path d="M264.8,223.9 L273.8,221.0 L267.2,216.9 L258.2,219.9 Z" fill="#3828cc"/>
<path d="M280.5,225.1 L289.5,222.9 L282.9,218.9 L273.8,221.0 Z" fill="#3828cc"/>
<path d="M296.2,227.0 L305.2,224.0 L298.6,220.0 L289.5,222.9 Z" fill="#7c1a84"/>
<path d="M193.0,223.3 L202.1,220.4 L195.4,216.3 L186.4,219.3 Z" fill="#7c1a84"/>
<path d="M208.7,224.4 L217.8,220.6 L211.1,216.6 L202.1,220.4 Z" fill="#3726c7"/>
<path d="M224.4,224.7 L233.4,221.7 L226.8,217.7 L217.8,220.6 Z" fill="#3828cc"/>
<path d="M240.1,225.8 L249.1,222.8 L242.5,218.8 L233.4,221.7 Z" fill="#3828cc"/>
<path d="M255.7,226.9 L264.8,223.9 L258.2,219.9 L249.1,222.8 Z" fill="#3828cc"/>
<path d="M271.4,228.0 L280.5,225.1 L273.8,221.0 L264.8,223.9 Z" fill="#3828cc"/>
<path d="M287.1,229.1 L296.2,227.0 L289.5,222.9 L280.5,225.1 Z" fill="#3828cc"/>
<path d="M199.7,227.4 L208.7,224.4 L202.1,220.4 L193.0,223.3 Z" fill="#7c1a84"/>
<path d="M215.3,228.5 L224.4,224.7 L217.8,220.6 L208.7,224.4 Z" fill="#3726c7"/>
<path d="M231.0,228.8 L240.1,225.8 L233.4,221.7 L224.4,224.7 Z" fill="#3828cc"/>
<path d="M246.7,229.9 L255.7,226.9 L249.1,222.8 L240.1,225.8 Z" fill="#3828cc"/>
<path d="M262.4,231.0 L271.4,228.0 L264.8,223.9 L255.7,226.9 Z" fill="#3828cc"/>
<path d="M278.1,232.1 L287.1,229.1 L280.5,225.1 L271.4,228.0 Z" fill="#3828cc"/>
<path d="M206.3,231.5 L215.3,228.5 L208.7,224.4 L199.7,227.4 Z" fill="#7c1a84"/>
<path d="M222.0,232.6 L231.0,228.8 L224.4,224.7 L215.3,228.5 Z" fill="#3726c7"/>
<path d="M237.7,232.9 L246.7,229.9 L240.1,225.8 L231.0,228.8 Z" fill="#3828cc"/>
<path d="M253.3,234.0 L262.4,231.0 L255.7,226.9 L246.7,229.9 Z" fill="#3828cc"/>
<path d="M269.0,235.1 L278.1,232.1 L271.4,228.0 L262.4,231.0 Z" fill="#3828cc"/>
<path d="M212.9,235.6 L222.0,232.6 L215.3,228.5 L206.3,231.5 Z" fill="#7c1a84"/>
<path d="M228.6,236.7 L237.7,232.9 L231.0,228.8 L222.0,232.6 Z" fill="#3726c7"/>
<path d="M244.3,237.0 L253.3,234.0 L246.7,229.9 L237.7,232.9 Z" fill="#3828cc"/>
<path d="M260.0,238.1 L269.0,235.1 L262.4,231.0 L253.3,234.0 Z" fill="#3828cc"/>
<path d="M219.6,239.6 L228.6,236.7 L222.0,232.6 L212.9,235.6 Z" fill="#7c1a84"/>
<path d="M235.2,240.7 L244.3,237.0 L237.7,232.9 L228.6,236.7 Z" fill="#3726c7"/>
<path d="M250.9,241.0 L260.0,238.1 L253.3,234.0 L244.3,237.0 Z" fill="#3828cc"/>
<path d="M226.2,243.7 L235.2,240.7 L228.6,236.7 L219.6,239.6 Z" fill="#7c1a84"/>
<path d="M241.9,244.8 L250.9,241.0 L244.3,237.0 L235.2,240.7 Z" fill="#3726c7"/>
<path d="M232.8,247.8 L241.9,244.8 L235.2,240.7 L226.2,243.7 Z" fill="#7c1a84"/>
</g>
<path d="M262.6,236.7 L293.5,226.7 L294.6,228.2 L285,230.8 Z" fill="#f6bdb6"/>
<path d="M350.4,107.4 L357.9,121.0 L356.2,122.0 L350.7,111.2 Z" fill="#f2b134"/>
<defs><linearGradient id="cbc" x1="0" y1="0" x2="0" y2="1"><stop offset="0.000" stop-color="#f9fb15"/><stop offset="0.025" stop-color="#f8ee1d"/><stop offset="0.050" stop-color="#f6e026"/><stop offset="0.075" stop-color="#fad52d"/><stop offset="0.100" stop-color="#fec933"/><stop offset="0.125" stop-color="#fbc238"/><stop offset="0.150" stop-color="#f9ba3d"/><stop offset="0.175" stop-color="#ebba38"/><stop offset="0.200" stop-color="#deb933"/><stop offset="0.225" stop-color="#cdba39"/><stop offset="0.250" stop-color="#bdbb40"/><stop offset="0.275" stop-color="#aabd4b"/><stop offset="0.300" stop-color="#96bf57"/><stop offset="0.325" stop-color="#82c163"/><stop offset="0.350" stop-color="#6ec370"/><stop offset="0.375" stop-color="#59c37e"/><stop offset="0.400" stop-color="#45c38c"/><stop offset="0.425" stop-color="#35c198"/><stop offset="0.450" stop-color="#25bfa4"/><stop offset="0.475" stop-color="#16bcaf"/><stop offset="0.500" stop-color="#08b9ba"/><stop offset="0.525" stop-color="#09b5c4"/><stop offset="0.550" stop-color="#0ab1cf"/><stop offset="0.575" stop-color="#12abd6"/><stop offset="0.600" stop-color="#1ba6dd"/><stop offset="0.625" stop-color="#219fe2"/><stop offset="0.650" stop-color="#2699e8"/><stop offset="0.675" stop-color="#2a91ee"/><stop offset="0.700" stop-color="#2e8af5"/><stop offset="0.725" stop-color="#3082f9"/><stop offset="0.750" stop-color="#347afd"/><stop offset="0.775" stop-color="#3d70fe"/><stop offset="0.800" stop-color="#4367fd"/><stop offset="0.825" stop-color="#465efa"/><stop offset="0.850" stop-color="#4755f6"/><stop offset="0.875" stop-color="#484cf0"/><stop offset="0.900" stop-color="#4540e7"/><stop offset="0.925" stop-color="#4136df"/><stop offset="0.950" stop-color="#3c2ed6"/><stop offset="0.975" stop-color="#3828cd"/><stop offset="1.000" stop-color="#3726c7"/></linearGradient></defs>
<rect x="521.3" y="11.8" width="11.0" height="251.1" fill="url(#cbc)" stroke="#777" stroke-width="0.4"/>
<path d="M530.8,228.3 L532.3,228.3" stroke="#444" stroke-width="0.5"/>
<text x="535.6" y="231.6" class="tk">0.5</text>
<path d="M530.8,192.6 L532.3,192.6" stroke="#444" stroke-width="0.5"/>
<text x="535.6" y="195.9" class="tk">1</text>
<path d="M530.8,156.9 L532.3,156.9" stroke="#444" stroke-width="0.5"/>
<text x="535.6" y="160.2" class="tk">1.5</text>
<path d="M530.8,121.2 L532.3,121.2" stroke="#444" stroke-width="0.5"/>
<text x="535.6" y="124.5" class="tk">2</text>
<path d="M530.8,85.5 L532.3,85.5" stroke="#444" stroke-width="0.5"/>
<text x="535.6" y="88.8" class="tk">2.5</text>
<path d="M530.8,49.8 L532.3,49.8" stroke="#444" stroke-width="0.5"/>
<text x="535.6" y="53.1" class="tk">3</text>
<path d="M530.8,14.2 L532.3,14.2" stroke="#444" stroke-width="0.5"/>
<text x="535.6" y="17.5" class="tk">3.5</text>
<path d="M223.0,586.0 L27.0,476.0" stroke="#e7e7e7" stroke-width="0.6" fill="none"/>
<path d="M223.0,586.0 L499.0,509.0" stroke="#e7e7e7" stroke-width="0.6" fill="none"/>
<path d="M27.0,476.0 L27.0,414.0" stroke="#e7e7e7" stroke-width="0.6" fill="none"/>
<path d="M499.0,509.0 L499.0,447.0" stroke="#e7e7e7" stroke-width="0.6" fill="none"/>
<path d="M262.4,575.0 L66.4,465.0" stroke="#e7e7e7" stroke-width="0.6" fill="none"/>
<path d="M195.0,570.3 L471.0,493.3" stroke="#e7e7e7" stroke-width="0.6" fill="none"/>
<path d="M66.4,465.0 L66.4,403.0" stroke="#e7e7e7" stroke-width="0.6" fill="none"/>
<path d="M471.0,493.3 L471.0,431.3" stroke="#e7e7e7" stroke-width="0.6" fill="none"/>
<path d="M301.9,564.0 L105.9,454.0" stroke="#e7e7e7" stroke-width="0.6" fill="none"/>
<path d="M167.0,554.6 L443.0,477.6" stroke="#e7e7e7" stroke-width="0.6" fill="none"/>
<path d="M105.9,454.0 L105.9,392.0" stroke="#e7e7e7" stroke-width="0.6" fill="none"/>
<path d="M443.0,477.6 L443.0,415.6" stroke="#e7e7e7" stroke-width="0.6" fill="none"/>
<path d="M341.3,553.0 L145.3,443.0" stroke="#e7e7e7" stroke-width="0.6" fill="none"/>
<path d="M139.0,538.9 L415.0,461.9" stroke="#e7e7e7" stroke-width="0.6" fill="none"/>
<path d="M145.3,443.0 L145.3,381.0" stroke="#e7e7e7" stroke-width="0.6" fill="none"/>
<path d="M415.0,461.9 L415.0,399.9" stroke="#e7e7e7" stroke-width="0.6" fill="none"/>
<path d="M380.7,542.0 L184.7,432.0" stroke="#e7e7e7" stroke-width="0.6" fill="none"/>
<path d="M111.0,523.1 L387.0,446.1" stroke="#e7e7e7" stroke-width="0.6" fill="none"/>
<path d="M184.7,432.0 L184.7,370.0" stroke="#e7e7e7" stroke-width="0.6" fill="none"/>
<path d="M387.0,446.1 L387.0,384.1" stroke="#e7e7e7" stroke-width="0.6" fill="none"/>
<path d="M420.1,531.0 L224.1,421.0" stroke="#e7e7e7" stroke-width="0.6" fill="none"/>
<path d="M83.0,507.4 L359.0,430.4" stroke="#e7e7e7" stroke-width="0.6" fill="none"/>
<path d="M224.1,421.0 L224.1,359.0" stroke="#e7e7e7" stroke-width="0.6" fill="none"/>
<path d="M359.0,430.4 L359.0,368.4" stroke="#e7e7e7" stroke-width="0.6" fill="none"/>
<path d="M459.6,520.0 L263.6,410.0" stroke="#e7e7e7" stroke-width="0.6" fill="none"/>
<path d="M55.0,491.7 L331.0,414.7" stroke="#e7e7e7" stroke-width="0.6" fill="none"/>
<path d="M263.6,410.0 L263.6,348.0" stroke="#e7e7e7" stroke-width="0.6" fill="none"/>
<path d="M331.0,414.7 L331.0,352.7" stroke="#e7e7e7" stroke-width="0.6" fill="none"/>
<path d="M499.0,509.0 L303.0,399.0" stroke="#e7e7e7" stroke-width="0.6" fill="none"/>
<path d="M27.0,476.0 L303.0,399.0" stroke="#e7e7e7" stroke-width="0.6" fill="none"/>
<path d="M303.0,399.0 L303.0,337.0" stroke="#e7e7e7" stroke-width="0.6" fill="none"/>
<path d="M303.0,399.0 L303.0,337.0" stroke="#e7e7e7" stroke-width="0.6" fill="none"/>
<path d="M27.0,476.0 L303.0,399.0 L499.0,509.0" stroke="#e7e7e7" stroke-width="0.6" fill="none"/>
<path d="M27.0,447.6 L303.0,370.6 L499.0,480.6" stroke="#e7e7e7" stroke-width="0.6" fill="none"/>
<path d="M27.0,419.1 L303.0,342.1 L499.0,452.1" stroke="#e7e7e7" stroke-width="0.6" fill="none"/>
<path d="M223.0,586.0 L499.0,509.0" stroke="#666" stroke-width="0.62" fill="none"/>
<path d="M223.0,586.0 L27.0,476.0" stroke="#666" stroke-width="0.62" fill="none"/>
<path d="M27.0,476.0 L27.0,414.0" stroke="#666" stroke-width="0.62" fill="none"/>
<path d="M223.0,586.0 L227.4,588.4" stroke="#666" stroke-width="0.62"/>
<text x="231.5" y="598.1" text-anchor="start" class="tk">0</text>
<path d="M223.0,586.0 L218.2,587.3" stroke="#666" stroke-width="0.62"/>
<text x="213.0" y="596.5" text-anchor="end" class="tk">0</text>
<path d="M262.4,575.0 L266.8,577.4" stroke="#666" stroke-width="0.62"/>
<text x="270.9" y="587.1" text-anchor="start" class="tk">2</text>
<path d="M195.0,570.3 L190.2,571.6" stroke="#666" stroke-width="0.62"/>
<text x="185.0" y="580.8" text-anchor="end" class="tk">2</text>
<path d="M301.9,564.0 L306.2,566.4" stroke="#666" stroke-width="0.62"/>
<text x="310.4" y="576.1" text-anchor="start" class="tk">4</text>
<path d="M167.0,554.6 L162.2,555.9" stroke="#666" stroke-width="0.62"/>
<text x="157.0" y="565.1" text-anchor="end" class="tk">4</text>
<path d="M341.3,553.0 L345.6,555.4" stroke="#666" stroke-width="0.62"/>
<text x="349.8" y="565.1" text-anchor="start" class="tk">6</text>
<path d="M139.0,538.9 L134.2,540.2" stroke="#666" stroke-width="0.62"/>
<text x="129.0" y="549.4" text-anchor="end" class="tk">6</text>
<path d="M380.7,542.0 L385.1,544.4" stroke="#666" stroke-width="0.62"/>
<text x="389.2" y="554.1" text-anchor="start" class="tk">8</text>
<path d="M111.0,523.1 L106.2,524.5" stroke="#666" stroke-width="0.62"/>
<text x="101.0" y="533.6" text-anchor="end" class="tk">8</text>
<path d="M420.1,531.0 L424.5,533.4" stroke="#666" stroke-width="0.62"/>
<text x="428.6" y="543.1" text-anchor="start" class="tk">10</text>
<path d="M83.0,507.4 L78.2,508.8" stroke="#666" stroke-width="0.62"/>
<text x="73.0" y="517.9" text-anchor="end" class="tk">10</text>
<path d="M459.6,520.0 L463.9,522.4" stroke="#666" stroke-width="0.62"/>
<text x="468.1" y="532.1" text-anchor="start" class="tk">12</text>
<path d="M55.0,491.7 L50.2,493.1" stroke="#666" stroke-width="0.62"/>
<text x="45.0" y="502.2" text-anchor="end" class="tk">12</text>
<path d="M499.0,509.0 L503.4,511.4" stroke="#666" stroke-width="0.62"/>
<text x="507.5" y="521.1" text-anchor="start" class="tk">14</text>
<path d="M27.0,476.0 L22.2,477.3" stroke="#666" stroke-width="0.62"/>
<text x="17.0" y="486.5" text-anchor="end" class="tk">14</text>
<path d="M27.0,476.0 L22.6,473.6" stroke="#666" stroke-width="0.62"/>
<text x="18.0" y="474.7" text-anchor="end" class="tk">0</text>
<path d="M27.0,447.6 L22.6,445.1" stroke="#666" stroke-width="0.62"/>
<text x="18.0" y="446.3" text-anchor="end" class="tk">1</text>
<path d="M27.0,419.1 L22.6,416.7" stroke="#666" stroke-width="0.62"/>
<text x="18.0" y="417.8" text-anchor="end" class="tk">2</text>
<g stroke="#06061c" stroke-width="0.5" stroke-opacity="0.8" stroke-linejoin="round">
<path d="M294.6,418.5 L303.7,416.0 L297.3,412.4 L288.2,414.9 Z" fill="#7c1a84"/>
<path d="M285.5,421.1 L294.6,418.5 L288.2,414.9 L279.1,417.4 Z" fill="#7c1a84"/>
<path d="M301.1,422.1 L310.2,419.6 L303.7,416.0 L294.6,418.5 Z" fill="#7c1a84"/>
<path d="M276.5,423.6 L285.5,421.1 L279.1,417.4 L270.0,420.0 Z" fill="#7c1a84"/>
<path d="M292.0,424.7 L301.1,422.1 L294.6,418.5 L285.5,421.1 Z" fill="#7c1a84"/>
<path d="M307.6,425.8 L316.7,423.2 L310.2,419.6 L301.1,422.1 Z" fill="#7c1a84"/>
<path d="M267.4,426.1 L276.5,423.6 L270.0,420.0 L260.9,422.5 Z" fill="#7c1a84"/>
<path d="M282.9,426.3 L292.0,424.7 L285.5,421.1 L276.5,423.6 Z" fill="#3828cb"/>
<path d="M298.5,427.3 L307.6,425.8 L301.1,422.1 L292.0,424.7 Z" fill="#3828cb"/>
<path d="M314.0,429.4 L323.1,426.9 L316.7,423.2 L307.6,425.8 Z" fill="#7c1a84"/>
<path d="M258.3,428.7 L267.4,426.1 L260.9,422.5 L251.8,425.0 Z" fill="#7c1a84"/>
<path d="M273.8,428.8 L282.9,426.3 L276.5,423.6 L267.4,426.1 Z" fill="#3828cb"/>
<path d="M289.4,429.9 L298.5,427.3 L292.0,424.7 L282.9,426.3 Z" fill="#3828cb"/>
<path d="M304.9,431.0 L314.0,429.4 L307.6,425.8 L298.5,427.3 Z" fill="#3828cb"/>
<path d="M320.5,433.0 L329.6,430.5 L323.1,426.9 L314.0,429.4 Z" fill="#7c1a84"/>
<path d="M249.2,431.2 L258.3,428.7 L251.8,425.0 L242.7,427.6 Z" fill="#7c1a84"/>
<path d="M264.7,431.3 L273.8,428.8 L267.4,426.1 L258.3,428.7 Z" fill="#3828cb"/>
<path d="M280.3,432.4 L289.4,429.9 L282.9,426.3 L273.8,428.8 Z" fill="#3828cb"/>
<path d="M295.8,433.5 L304.9,431.0 L298.5,427.3 L289.4,429.9 Z" fill="#3828cb"/>
<path d="M311.4,434.6 L320.5,433.0 L314.0,429.4 L304.9,431.0 Z" fill="#3828cb"/>
<path d="M327.0,436.7 L336.1,434.1 L329.6,430.5 L320.5,433.0 Z" fill="#7c1a84"/>
<path d="M240.1,433.8 L249.2,431.2 L242.7,427.6 L233.6,430.1 Z" fill="#7c1a84"/>
<path d="M255.6,433.9 L264.7,431.3 L258.3,428.7 L249.2,431.2 Z" fill="#3828cb"/>
<path d="M271.2,434.9 L280.3,432.4 L273.8,428.8 L264.7,431.3 Z" fill="#3828cb"/>
<path d="M286.7,436.0 L295.8,433.5 L289.4,429.9 L280.3,432.4 Z" fill="#3828cb"/>
<path d="M302.3,437.1 L311.4,434.6 L304.9,431.0 L295.8,433.5 Z" fill="#3828cb"/>
<path d="M317.9,438.2 L327.0,436.7 L320.5,433.0 L311.4,434.6 Z" fill="#3828cb"/>
<path d="M333.4,440.3 L342.5,437.7 L336.1,434.1 L327.0,436.7 Z" fill="#7c1a84"/>
<path d="M231.0,436.3 L240.1,433.8 L233.6,430.1 L224.5,432.7 Z" fill="#7c1a84"/>
<path d="M246.5,436.4 L255.6,433.9 L249.2,431.2 L240.1,433.8 Z" fill="#3828cb"/>
<path d="M262.1,437.5 L271.2,434.9 L264.7,431.3 L255.6,433.9 Z" fill="#3828cb"/>
<path d="M277.6,438.6 L286.7,436.0 L280.3,432.4 L271.2,434.9 Z" fill="#3828cb"/>
<path d="M293.2,439.6 L302.3,437.1 L295.8,433.5 L286.7,436.0 Z" fill="#3828cb"/>
<path d="M308.8,440.7 L317.9,438.2 L311.4,434.6 L302.3,437.1 Z" fill="#3828cb"/>
<path d="M324.3,441.8 L333.4,440.3 L327.0,436.7 L317.9,438.2 Z" fill="#3828cb"/>
<path d="M339.9,443.9 L349.0,441.4 L342.5,437.7 L333.4,440.3 Z" fill="#7c1a84"/>
<path d="M221.9,438.8 L231.0,436.3 L224.5,432.7 L215.4,435.2 Z" fill="#7c1a84"/>
<path d="M237.4,438.9 L246.5,436.4 L240.1,433.8 L231.0,436.3 Z" fill="#3828cb"/>
<path d="M253.0,440.0 L262.1,437.5 L255.6,433.9 L246.5,436.4 Z" fill="#3828cb"/>
<path d="M268.5,441.1 L277.6,438.6 L271.2,434.9 L262.1,437.5 Z" fill="#3828cb"/>
<path d="M284.1,442.2 L293.2,439.6 L286.7,436.0 L277.6,438.6 Z" fill="#3828cb"/>
<path d="M299.7,443.2 L308.8,440.7 L302.3,437.1 L293.2,439.6 Z" fill="#3828cb"/>
<path d="M315.2,444.3 L324.3,441.8 L317.9,438.2 L308.8,440.7 Z" fill="#3828cb"/>
<path d="M330.8,445.4 L339.9,443.9 L333.4,440.3 L324.3,441.8 Z" fill="#3828cb"/>
<path d="M346.3,447.5 L355.4,445.0 L349.0,441.4 L339.9,443.9 Z" fill="#7c1a84"/>
<path d="M212.8,441.4 L221.9,438.8 L215.4,435.2 L206.3,437.7 Z" fill="#7c1a84"/>
<path d="M228.3,441.5 L237.4,438.9 L231.0,436.3 L221.9,438.8 Z" fill="#3828cb"/>
<path d="M243.9,442.5 L253.0,440.0 L246.5,436.4 L237.4,438.9 Z" fill="#3828cb"/>
<path d="M259.4,443.6 L268.5,441.1 L262.1,437.5 L253.0,440.0 Z" fill="#3828cb"/>
<path d="M275.0,444.7 L284.1,442.2 L277.6,438.6 L268.5,441.1 Z" fill="#3828cb"/>
<path d="M290.6,445.8 L299.7,443.2 L293.2,439.6 L284.1,442.2 Z" fill="#3828cb"/>
<path d="M306.1,446.8 L315.2,444.3 L308.8,440.7 L299.7,443.2 Z" fill="#3828cb"/>
<path d="M321.7,447.9 L330.8,445.4 L324.3,441.8 L315.2,444.3 Z" fill="#3828cb"/>
<path d="M337.2,449.0 L346.3,447.5 L339.9,443.9 L330.8,445.4 Z" fill="#3828cb"/>
<path d="M352.8,451.2 L361.9,448.6 L355.4,445.0 L346.3,447.5 Z" fill="#7c1a84"/>
<path d="M203.7,443.9 L212.8,441.4 L206.3,437.7 L197.2,440.3 Z" fill="#7c1a84"/>
<path d="M219.2,444.0 L228.3,441.5 L221.9,438.8 L212.8,441.4 Z" fill="#3828cb"/>
<path d="M234.8,445.1 L243.9,442.5 L237.4,438.9 L228.3,441.5 Z" fill="#3828cb"/>
<path d="M250.3,446.1 L259.4,443.6 L253.0,440.0 L243.9,442.5 Z" fill="#3828cb"/>
<path d="M265.9,447.2 L275.0,444.7 L268.5,441.1 L259.4,443.6 Z" fill="#3828cb"/>
<path d="M281.5,448.2 L290.6,445.8 L284.1,442.2 L275.0,444.7 Z" fill="#3828cb"/>
<path d="M297.0,449.3 L306.1,446.8 L299.7,443.2 L290.6,445.8 Z" fill="#3828cb"/>
<path d="M312.6,450.4 L321.7,447.9 L315.2,444.3 L306.1,446.8 Z" fill="#3828cb"/>
<path d="M328.1,451.5 L337.2,449.0 L330.8,445.4 L321.7,447.9 Z" fill="#3828cb"/>
<path d="M343.7,452.6 L352.8,451.2 L346.3,447.5 L337.2,449.0 Z" fill="#3828cb"/>
<path d="M359.3,454.8 L368.4,452.2 L361.9,448.6 L352.8,451.2 Z" fill="#7c1a84"/>
<path d="M194.6,446.4 L203.7,443.9 L197.2,440.3 L188.1,442.8 Z" fill="#7c1a84"/>
<path d="M210.1,446.5 L219.2,444.0 L212.8,441.4 L203.7,443.9 Z" fill="#3828cb"/>
<path d="M225.7,447.6 L234.8,445.1 L228.3,441.5 L219.2,444.0 Z" fill="#3828cb"/>
<path d="M241.2,448.6 L250.3,446.1 L243.9,442.5 L234.8,445.1 Z" fill="#3828cb"/>
<path d="M256.8,449.6 L265.9,447.2 L259.4,443.6 L250.3,446.1 Z" fill="#3828cc"/>
<path d="M272.4,450.6 L281.5,448.2 L275.0,444.7 L265.9,447.2 Z" fill="#3828cc"/>
<path d="M287.9,451.7 L297.0,449.3 L290.6,445.8 L281.5,448.2 Z" fill="#3828cc"/>
<path d="M303.5,452.9 L312.6,450.4 L306.1,446.8 L297.0,449.3 Z" fill="#3828cb"/>
<path d="M319.0,454.0 L328.1,451.5 L321.7,447.9 L312.6,450.4 Z" fill="#3828cb"/>
<path d="M334.6,455.2 L343.7,452.6 L337.2,449.0 L328.1,451.5 Z" fill="#3828cb"/>
<path d="M350.2,456.2 L359.3,454.8 L352.8,451.2 L343.7,452.6 Z" fill="#3828cb"/>
<path d="M365.7,458.4 L374.8,455.9 L368.4,452.2 L359.3,454.8 Z" fill="#7c1a84"/>
<path d="M185.5,449.0 L194.6,446.4 L188.1,442.8 L179.0,445.4 Z" fill="#7c1a84"/>
<path d="M201.0,450.1 L210.1,446.5 L203.7,443.9 L194.6,446.4 Z" fill="#3726c7"/>
<path d="M216.6,450.1 L225.7,447.6 L219.2,444.0 L210.1,446.5 Z" fill="#3828cb"/>
<path d="M232.1,451.1 L241.2,448.6 L234.8,445.1 L225.7,447.6 Z" fill="#3828cb"/>
<path d="M247.7,452.0 L256.8,449.6 L250.3,446.1 L241.2,448.6 Z" fill="#3828cc"/>
<path d="M263.3,452.9 L272.4,450.6 L265.9,447.2 L256.8,449.6 Z" fill="#3828cd"/>
<path d="M278.8,453.9 L287.9,451.7 L281.5,448.2 L272.4,450.6 Z" fill="#3828cd"/>
<path d="M294.4,455.2 L303.5,452.9 L297.0,449.3 L287.9,451.7 Z" fill="#3828cd"/>
<path d="M309.9,456.5 L319.0,454.0 L312.6,450.4 L303.5,452.9 Z" fill="#3828cc"/>
<path d="M325.5,457.6 L334.6,455.2 L328.1,451.5 L319.0,454.0 Z" fill="#3828cb"/>
<path d="M341.1,458.8 L350.2,456.2 L343.7,452.6 L334.6,455.2 Z" fill="#3828cb"/>
<path d="M356.6,459.9 L365.7,458.4 L359.3,454.8 L350.2,456.2 Z" fill="#3828cb"/>
<path d="M372.2,462.0 L381.3,459.5 L374.8,455.9 L365.7,458.4 Z" fill="#7c1a84"/>
<path d="M176.4,451.5 L185.5,449.0 L179.0,445.4 L169.9,447.9 Z" fill="#7c1a84"/>
<path d="M191.9,452.6 L201.0,450.1 L194.6,446.4 L185.5,449.0 Z" fill="#7c1a84"/>
<path d="M207.5,453.7 L216.6,450.1 L210.1,446.5 L201.0,450.1 Z" fill="#3726c7"/>
<path d="M223.0,453.7 L232.1,451.1 L225.7,447.6 L216.6,450.1 Z" fill="#3828cb"/>
<path d="M238.6,454.5 L247.7,452.0 L241.2,448.6 L232.1,451.1 Z" fill="#3828cc"/>
<path d="M254.2,455.1 L263.3,452.9 L256.8,449.6 L247.7,452.0 Z" fill="#3929ce"/>
<path d="M269.7,455.8 L278.8,453.9 L272.4,450.6 L263.3,452.9 Z" fill="#392ad0"/>
<path d="M285.3,457.0 L294.4,455.2 L287.9,451.7 L278.8,453.9 Z" fill="#3929cf"/>
<path d="M300.8,458.6 L309.9,456.5 L303.5,452.9 L294.4,455.2 Z" fill="#3828cd"/>
<path d="M316.4,460.1 L325.5,457.6 L319.0,454.0 L309.9,456.5 Z" fill="#3828cc"/>
<path d="M332.0,461.3 L341.1,458.8 L334.6,455.2 L325.5,457.6 Z" fill="#3828cb"/>
<path d="M347.5,462.4 L356.6,459.9 L350.2,456.2 L341.1,458.8 Z" fill="#3828cb"/>
<path d="M363.1,464.6 L372.2,462.0 L365.7,458.4 L356.6,459.9 Z" fill="#3726c7"/>
<path d="M378.6,465.7 L387.7,463.1 L381.3,459.5 L372.2,462.0 Z" fill="#7c1a84"/>
<path d="M167.3,454.1 L176.4,451.5 L169.9,447.9 L160.8,450.4 Z" fill="#7c1a84"/>
<path d="M182.8,454.2 L191.9,452.6 L185.5,449.0 L176.4,451.5 Z" fill="#3828cb"/>
<path d="M198.4,456.2 L207.5,453.7 L201.0,450.1 L191.9,452.6 Z" fill="#7c1a84"/>
<path d="M213.9,457.3 L223.0,453.7 L216.6,450.1 L207.5,453.7 Z" fill="#3726c7"/>
<path d="M229.5,457.1 L238.6,454.5 L232.1,451.1 L223.0,453.7 Z" fill="#3828cc"/>
<path d="M245.1,457.5 L254.2,455.1 L247.7,452.0 L238.6,454.5 Z" fill="#3929cf"/>
<path d="M260.6,457.6 L269.7,455.8 L263.3,452.9 L254.2,455.1 Z" fill="#3c2dd5"/>
<path d="M276.2,458.4 L285.3,457.0 L278.8,453.9 L269.7,455.8 Z" fill="#3c2fd7"/>
<path d="M291.7,460.2 L300.8,458.6 L294.4,455.2 L285.3,457.0 Z" fill="#3a2cd3"/>
<path d="M307.3,462.2 L316.4,460.1 L309.9,456.5 L300.8,458.6 Z" fill="#3828cd"/>
<path d="M322.9,463.7 L332.0,461.3 L325.5,457.6 L316.4,460.1 Z" fill="#3828cc"/>
<path d="M338.4,464.9 L347.5,462.4 L341.1,458.8 L332.0,461.3 Z" fill="#3828cb"/>
<path d="M354.0,467.1 L363.1,464.6 L356.6,459.9 L347.5,462.4 Z" fill="#3726c7"/>
<path d="M369.5,468.2 L378.6,465.7 L372.2,462.0 L363.1,464.6 Z" fill="#7c1a84"/>
<path d="M385.1,469.3 L394.2,466.8 L387.7,463.1 L378.6,465.7 Z" fill="#7c1a84"/>
<path d="M158.2,456.6 L167.3,454.1 L160.8,450.4 L151.7,453.0 Z" fill="#7c1a84"/>
<path d="M173.7,456.7 L182.8,454.2 L176.4,451.5 L167.3,454.1 Z" fill="#3828cb"/>
<path d="M189.3,457.8 L198.4,456.2 L191.9,452.6 L182.8,454.2 Z" fill="#3828cb"/>
<path d="M204.8,459.9 L213.9,457.3 L207.5,453.7 L198.4,456.2 Z" fill="#7c1a84"/>
<path d="M220.4,461.0 L229.5,457.1 L223.0,453.7 L213.9,457.3 Z" fill="#3726c7"/>
<path d="M236.0,460.0 L245.1,457.5 L238.6,454.5 L229.5,457.1 Z" fill="#3929cf"/>
<path d="M251.5,459.5 L260.6,457.6 L254.2,455.1 L245.1,457.5 Z" fill="#3d30d9"/>
<path d="M267.1,459.3 L276.2,458.4 L269.7,455.8 L260.6,457.6 Z" fill="#4137e0"/>
<path d="M282.6,460.6 L291.7,460.2 L285.3,457.0 L276.2,458.4 Z" fill="#4136df"/>
<path d="M298.2,463.6 L307.3,462.2 L300.8,458.6 L291.7,460.2 Z" fill="#3b2dd4"/>
<path d="M313.8,465.9 L322.9,463.7 L316.4,460.1 L307.3,462.2 Z" fill="#3828cd"/>
<path d="M329.3,467.3 L338.4,464.9 L332.0,461.3 L322.9,463.7 Z" fill="#3828cc"/>
<path d="M344.9,469.7 L354.0,467.1 L347.5,462.4 L338.4,464.9 Z" fill="#3726c7"/>
<path d="M360.5,470.7 L369.5,468.2 L363.1,464.6 L354.0,467.1 Z" fill="#7c1a84"/>
<path d="M376.0,470.7 L385.1,469.3 L378.6,465.7 L369.5,468.2 Z" fill="#3828cb"/>
<path d="M391.6,472.9 L400.7,470.4 L394.2,466.8 L385.1,469.3 Z" fill="#7c1a84"/>
<path d="M149.1,459.1 L158.2,456.6 L151.7,453.0 L142.6,455.5 Z" fill="#7c1a84"/>
<path d="M164.6,459.2 L173.7,456.7 L167.3,454.1 L158.2,456.6 Z" fill="#3828cb"/>
<path d="M180.2,460.3 L189.3,457.8 L182.8,454.2 L173.7,456.7 Z" fill="#3828cb"/>
<path d="M195.7,461.3 L204.8,459.9 L198.4,456.2 L189.3,457.8 Z" fill="#3828cb"/>
<path d="M211.3,463.5 L220.4,461.0 L213.9,457.3 L204.8,459.9 Z" fill="#7c1a84"/>
<path d="M226.9,464.6 L236.0,460.0 L229.5,457.1 L220.4,461.0 Z" fill="#3726c7"/>
<path d="M242.4,462.0 L251.5,459.5 L245.1,457.5 L236.0,460.0 Z" fill="#3e30d9"/>
<path d="M258.0,459.9 L267.1,459.3 L260.6,457.6 L251.5,459.5 Z" fill="#4644ea"/>
<path d="M273.5,459.8 L282.6,460.6 L276.2,458.4 L267.1,459.3 Z" fill="#484df0"/>
<path d="M289.1,463.0 L298.2,463.6 L291.7,460.2 L282.6,460.6 Z" fill="#443de5"/>
<path d="M304.7,467.5 L313.8,465.9 L307.3,462.2 L298.2,463.6 Z" fill="#3a2bd2"/>
<path d="M320.2,469.6 L329.3,467.3 L322.9,463.7 L313.8,465.9 Z" fill="#3828cd"/>
<path d="M335.8,472.2 L344.9,469.7 L338.4,464.9 L329.3,467.3 Z" fill="#3726c7"/>
<path d="M351.4,473.3 L360.5,470.7 L354.0,467.1 L344.9,469.7 Z" fill="#7c1a84"/>
<path d="M366.9,473.2 L376.0,470.7 L369.5,468.2 L360.5,470.7 Z" fill="#3828cc"/>
<path d="M382.5,474.3 L391.6,472.9 L385.1,469.3 L376.0,470.7 Z" fill="#3828cc"/>
<path d="M398.0,476.5 L407.1,474.0 L400.7,470.4 L391.6,472.9 Z" fill="#7c1a84"/>
<path d="M140.0,461.7 L149.1,459.1 L142.6,455.5 L133.5,458.0 Z" fill="#7c1a84"/>
<path d="M155.5,461.7 L164.6,459.2 L158.2,456.6 L149.1,459.1 Z" fill="#3828cb"/>
<path d="M171.1,462.8 L180.2,460.3 L173.7,456.7 L164.6,459.2 Z" fill="#3828cb"/>
<path d="M186.6,463.8 L195.7,461.3 L189.3,457.8 L180.2,460.3 Z" fill="#3828cb"/>
<path d="M202.2,464.9 L211.3,463.5 L204.8,459.9 L195.7,461.3 Z" fill="#3828cb"/>
<path d="M217.8,467.1 L226.9,464.6 L220.4,461.0 L211.3,463.5 Z" fill="#7c1a84"/>
<path d="M233.3,468.2 L242.4,462.0 L236.0,460.0 L226.9,464.6 Z" fill="#3726c7"/>
<path d="M248.9,461.5 L258.0,459.9 L251.5,459.5 L242.4,462.0 Z" fill="#484bef"/>
<path d="M264.5,459.4 L273.5,459.8 L267.1,459.3 L258.0,459.9 Z" fill="#465dfa"/>
<path d="M280.0,459.4 L289.1,463.0 L282.6,460.6 L273.5,459.8 Z" fill="#4464fd"/>
<path d="M295.6,467.8 L304.7,467.5 L298.2,463.6 L289.1,463.0 Z" fill="#4136df"/>
<path d="M311.1,471.7 L320.2,469.6 L313.8,465.9 L304.7,467.5 Z" fill="#3929cf"/>
<path d="M326.7,474.7 L335.8,472.2 L329.3,467.3 L320.2,469.6 Z" fill="#3726c7"/>
<path d="M342.3,475.8 L351.4,473.3 L344.9,469.7 L335.8,472.2 Z" fill="#7c1a84"/>
<path d="M357.8,475.6 L366.9,473.2 L360.5,470.7 L351.4,473.3 Z" fill="#3828cc"/>
<path d="M373.4,476.8 L382.5,474.3 L376.0,470.7 L366.9,473.2 Z" fill="#3828cc"/>
<path d="M388.9,477.9 L398.0,476.5 L391.6,472.9 L382.5,474.3 Z" fill="#3828cc"/>
<path d="M404.5,480.2 L413.6,477.6 L407.1,474.0 L398.0,476.5 Z" fill="#7c1a84"/>
<path d="M130.9,464.2 L140.0,461.7 L133.5,458.0 L124.4,460.6 Z" fill="#7c1a84"/>
<path d="M146.4,464.3 L155.5,461.7 L149.1,459.1 L140.0,461.7 Z" fill="#3828cb"/>
<path d="M162.0,465.3 L171.1,462.8 L164.6,459.2 L155.5,461.7 Z" fill="#3828cb"/>
<path d="M177.5,466.3 L186.6,463.8 L180.2,460.3 L171.1,462.8 Z" fill="#3828cc"/>
<path d="M193.1,467.4 L202.2,464.9 L195.7,461.3 L186.6,463.8 Z" fill="#3828cc"/>
<path d="M208.7,469.7 L217.8,467.1 L211.3,463.5 L202.2,464.9 Z" fill="#3726c7"/>
<path d="M224.2,470.7 L233.3,468.2 L226.9,464.6 L217.8,467.1 Z" fill="#7c1a84"/>
<path d="M239.8,466.5 L248.9,461.5 L242.4,462.0 L233.3,468.2 Z" fill="#4239e2"/>
<path d="M255.4,459.0 L264.5,459.4 L258.0,459.9 L248.9,461.5 Z" fill="#3f6eff"/>
<path d="M270.9,461.6 L280.0,459.4 L273.5,459.8 L264.5,459.4 Z" fill="#4465fd"/>
<path d="M286.5,466.6 L295.6,467.8 L289.1,463.0 L280.0,459.4 Z" fill="#484ff2"/>
<path d="M302.0,473.2 L311.1,471.7 L304.7,467.5 L295.6,467.8 Z" fill="#3c2dd5"/>
<path d="M317.6,475.6 L326.7,474.7 L320.2,469.6 L311.1,471.7 Z" fill="#3828cd"/>
<path d="M333.2,478.4 L342.3,475.8 L335.8,472.2 L326.7,474.7 Z" fill="#7c1a84"/>
<path d="M348.7,478.1 L357.8,475.6 L351.4,473.3 L342.3,475.8 Z" fill="#3828cc"/>
<path d="M364.3,479.2 L373.4,476.8 L366.9,473.2 L357.8,475.6 Z" fill="#3828cc"/>
<path d="M379.8,480.4 L388.9,477.9 L382.5,474.3 L373.4,476.8 Z" fill="#3828cc"/>
<path d="M395.4,481.5 L404.5,480.2 L398.0,476.5 L388.9,477.9 Z" fill="#3828cc"/>
<path d="M411.0,483.8 L420.1,481.3 L413.6,477.6 L404.5,480.2 Z" fill="#7c1a84"/>
<path d="M121.8,466.8 L130.9,464.2 L124.4,460.6 L115.3,463.1 Z" fill="#7c1a84"/>
<path d="M137.3,466.8 L146.4,464.3 L140.0,461.7 L130.9,464.2 Z" fill="#3828cb"/>
<path d="M152.9,467.7 L162.0,465.3 L155.5,461.7 L146.4,464.3 Z" fill="#3828cc"/>
<path d="M168.5,468.6 L177.5,466.3 L171.1,462.8 L162.0,465.3 Z" fill="#3828cd"/>
<path d="M184.0,469.6 L193.1,467.4 L186.6,463.8 L177.5,466.3 Z" fill="#3828cd"/>
<path d="M199.6,472.2 L208.7,469.7 L202.2,464.9 L193.1,467.4 Z" fill="#3726c7"/>
<path d="M215.1,473.3 L224.2,470.7 L217.8,467.1 L208.7,469.7 Z" fill="#7c1a84"/>
<path d="M230.7,471.5 L239.8,466.5 L233.3,468.2 L224.2,470.7 Z" fill="#3b2dd4"/>
<path d="M246.3,467.8 L255.4,459.0 L248.9,461.5 L239.8,466.5 Z" fill="#474aee"/>
<path d="M261.8,466.5 L270.9,461.6 L264.5,459.4 L255.4,459.0 Z" fill="#4758f8"/>
<path d="M277.4,469.1 L286.5,466.6 L280.0,459.4 L270.9,461.6 Z" fill="#4850f2"/>
<path d="M292.9,474.5 L302.0,473.2 L295.6,467.8 L286.5,466.6 Z" fill="#3f33dc"/>
<path d="M308.5,477.8 L317.6,475.6 L311.1,471.7 L302.0,473.2 Z" fill="#3929cf"/>
<path d="M324.1,479.4 L333.2,478.4 L326.7,474.7 L317.6,475.6 Z" fill="#3828cd"/>
<path d="M339.6,480.6 L348.7,478.1 L342.3,475.8 L333.2,478.4 Z" fill="#3828cc"/>
<path d="M355.2,481.7 L364.3,479.2 L357.8,475.6 L348.7,478.1 Z" fill="#3828cc"/>
<path d="M370.7,482.8 L379.8,480.4 L373.4,476.8 L364.3,479.2 Z" fill="#3828cc"/>
<path d="M386.3,483.9 L395.4,481.5 L388.9,477.9 L379.8,480.4 Z" fill="#3828cc"/>
<path d="M401.9,486.3 L411.0,483.8 L404.5,480.2 L395.4,481.5 Z" fill="#3726c7"/>
<path d="M417.4,487.4 L426.5,484.9 L420.1,481.3 L411.0,483.8 Z" fill="#7c1a84"/>
<path d="M112.7,469.3 L121.8,466.8 L115.3,463.1 L106.2,465.7 Z" fill="#7c1a84"/>
<path d="M128.2,469.3 L137.3,466.8 L130.9,464.2 L121.8,466.8 Z" fill="#3828cb"/>
<path d="M143.8,470.2 L152.9,467.7 L146.4,464.3 L137.3,466.8 Z" fill="#3828cc"/>
<path d="M159.4,470.8 L168.5,468.6 L162.0,465.3 L152.9,467.7 Z" fill="#3828ce"/>
<path d="M174.9,471.6 L184.0,469.6 L177.5,466.3 L168.5,468.6 Z" fill="#3929cf"/>
<path d="M190.5,472.8 L199.6,472.2 L193.1,467.4 L184.0,469.6 Z" fill="#3929ce"/>
<path d="M206.0,475.8 L215.1,473.3 L208.7,469.7 L199.6,472.2 Z" fill="#7c1a84"/>
<path d="M221.6,475.1 L230.7,471.5 L224.2,470.7 L215.1,473.3 Z" fill="#3829ce"/>
<path d="M237.2,474.4 L246.3,467.8 L239.8,466.5 L230.7,471.5 Z" fill="#3d30d9"/>
<path d="M252.7,472.7 L261.8,466.5 L255.4,459.0 L246.3,467.8 Z" fill="#4541e8"/>
<path d="M268.3,473.8 L277.4,469.1 L270.9,461.6 L261.8,466.5 Z" fill="#4540e8"/>
<path d="M283.8,476.7 L292.9,474.5 L286.5,466.6 L277.4,469.1 Z" fill="#4035de"/>
<path d="M299.4,479.9 L308.5,477.8 L302.0,473.2 L292.9,474.5 Z" fill="#3a2bd2"/>
<path d="M315.0,481.8 L324.1,479.4 L317.6,475.6 L308.5,477.8 Z" fill="#3828cd"/>
<path d="M330.5,483.0 L339.6,480.6 L333.2,478.4 L324.1,479.4 Z" fill="#3828cd"/>
<path d="M346.1,484.1 L355.2,481.7 L348.7,478.1 L339.6,480.6 Z" fill="#3828cd"/>
<path d="M361.6,485.3 L370.7,482.8 L364.3,479.2 L355.2,481.7 Z" fill="#3828cd"/>
<path d="M377.2,486.4 L386.3,483.9 L379.8,480.4 L370.7,482.8 Z" fill="#3828cc"/>
<path d="M392.8,488.9 L401.9,486.3 L395.4,481.5 L386.3,483.9 Z" fill="#3726c7"/>
<path d="M408.3,490.0 L417.4,487.4 L411.0,483.8 L401.9,486.3 Z" fill="#7c1a84"/>
<path d="M423.9,491.0 L433.0,488.5 L426.5,484.9 L417.4,487.4 Z" fill="#7c1a84"/>
<path d="M103.6,471.8 L112.7,469.3 L106.2,465.7 L97.1,468.2 Z" fill="#7c1a84"/>
<path d="M119.1,471.9 L128.2,469.3 L121.8,466.8 L112.7,469.3 Z" fill="#3828cb"/>
<path d="M134.7,472.8 L143.8,470.2 L137.3,466.8 L128.2,469.3 Z" fill="#3828cc"/>
<path d="M150.3,473.2 L159.4,470.8 L152.9,467.7 L143.8,470.2 Z" fill="#3929ce"/>
<path d="M165.8,473.4 L174.9,471.6 L168.5,468.6 L159.4,470.8 Z" fill="#3b2dd4"/>
<path d="M181.4,474.2 L190.5,472.8 L184.0,469.6 L174.9,471.6 Z" fill="#3c2ed6"/>
<path d="M196.9,476.0 L206.0,475.8 L199.6,472.2 L190.5,472.8 Z" fill="#3a2ad1"/>
<path d="M212.5,477.8 L221.6,475.1 L215.1,473.3 L206.0,475.8 Z" fill="#3828cd"/>
<path d="M228.1,478.5 L237.2,474.4 L230.7,471.5 L221.6,475.1 Z" fill="#3929cf"/>
<path d="M243.6,478.2 L252.7,472.7 L246.3,467.8 L237.2,474.4 Z" fill="#3d2fd8"/>
<path d="M259.2,478.3 L268.3,473.8 L261.8,466.5 L252.7,472.7 Z" fill="#4034de"/>
<path d="M274.7,479.9 L283.8,476.7 L277.4,469.1 L268.3,473.8 Z" fill="#3e31db"/>
<path d="M290.3,482.2 L299.4,479.9 L292.9,474.5 L283.8,476.7 Z" fill="#3b2cd3"/>
<path d="M305.9,484.1 L315.0,481.8 L308.5,477.8 L299.4,479.9 Z" fill="#3929ce"/>
<path d="M321.4,485.4 L330.5,483.0 L324.1,479.4 L315.0,481.8 Z" fill="#3828cd"/>
<path d="M337.0,486.6 L346.1,484.1 L339.6,480.6 L330.5,483.0 Z" fill="#3828cd"/>
<path d="M352.5,487.7 L361.6,485.3 L355.2,481.7 L346.1,484.1 Z" fill="#3828cd"/>
<path d="M368.1,488.8 L377.2,486.4 L370.7,482.8 L361.6,485.3 Z" fill="#3828cd"/>
<path d="M383.7,491.4 L392.8,488.9 L386.3,483.9 L377.2,486.4 Z" fill="#3726c7"/>
<path d="M399.2,492.5 L408.3,490.0 L401.9,486.3 L392.8,488.9 Z" fill="#7c1a84"/>
<path d="M414.8,492.3 L423.9,491.0 L417.4,487.4 L408.3,490.0 Z" fill="#3828cc"/>
<path d="M430.3,494.7 L439.4,492.1 L433.0,488.5 L423.9,491.0 Z" fill="#7c1a84"/>
<path d="M94.5,474.4 L103.6,471.8 L97.1,468.2 L88.0,470.7 Z" fill="#7c1a84"/>
<path d="M110.0,474.5 L119.1,471.9 L112.7,469.3 L103.6,471.8 Z" fill="#3828cb"/>
<path d="M125.6,475.4 L134.7,472.8 L128.2,469.3 L119.1,471.9 Z" fill="#3828cb"/>
<path d="M141.2,475.8 L150.3,473.2 L143.8,470.2 L134.7,472.8 Z" fill="#3929ce"/>
<path d="M156.7,475.3 L165.8,473.4 L159.4,470.8 L150.3,473.2 Z" fill="#3d2fd8"/>
<path d="M172.3,475.0 L181.4,474.2 L174.9,471.6 L165.8,473.4 Z" fill="#4137e0"/>
<path d="M187.8,476.3 L196.9,476.0 L190.5,472.8 L181.4,474.2 Z" fill="#4035de"/>
<path d="M203.4,479.5 L212.5,477.8 L206.0,475.8 L196.9,476.0 Z" fill="#3a2bd2"/>
<path d="M219.0,481.4 L228.1,478.5 L221.6,475.1 L212.5,477.8 Z" fill="#3828cd"/>
<path d="M234.5,482.1 L243.6,478.2 L237.2,474.4 L228.1,478.5 Z" fill="#3929cf"/>
<path d="M250.1,482.4 L259.2,478.3 L252.7,472.7 L243.6,478.2 Z" fill="#3b2dd4"/>
<path d="M265.6,483.3 L274.7,479.9 L268.3,473.8 L259.2,478.3 Z" fill="#3c2ed6"/>
<path d="M281.2,484.8 L290.3,482.2 L283.8,476.7 L274.7,479.9 Z" fill="#3a2cd2"/>
<path d="M296.8,486.5 L305.9,484.1 L299.4,479.9 L290.3,482.2 Z" fill="#3929cf"/>
<path d="M312.3,487.8 L321.4,485.4 L315.0,481.8 L305.9,484.1 Z" fill="#3829ce"/>
<path d="M327.9,489.0 L337.0,486.6 L330.5,483.0 L321.4,485.4 Z" fill="#3828ce"/>
<path d="M343.4,490.1 L352.5,487.7 L346.1,484.1 L337.0,486.6 Z" fill="#3828ce"/>
<path d="M359.0,491.2 L368.1,488.8 L361.6,485.3 L352.5,487.7 Z" fill="#3828cd"/>
<path d="M374.6,494.0 L383.7,491.4 L377.2,486.4 L368.1,488.8 Z" fill="#3726c7"/>
<path d="M390.1,495.0 L399.2,492.5 L392.8,488.9 L383.7,491.4 Z" fill="#7c1a84"/>
<path d="M405.7,494.8 L414.8,492.3 L408.3,490.0 L399.2,492.5 Z" fill="#3828cc"/>
<path d="M421.2,495.9 L430.3,494.7 L423.9,491.0 L414.8,492.3 Z" fill="#3828cc"/>
<path d="M436.8,498.3 L445.9,495.8 L439.4,492.1 L430.3,494.7 Z" fill="#7c1a84"/>
<path d="M85.4,476.9 L94.5,474.4 L88.0,470.7 L78.9,473.3 Z" fill="#7c1a84"/>
<path d="M100.9,477.0 L110.0,474.5 L103.6,471.8 L94.5,474.4 Z" fill="#3828cb"/>
<path d="M116.5,478.0 L125.6,475.4 L119.1,471.9 L110.0,474.5 Z" fill="#3828cb"/>
<path d="M132.1,478.6 L141.2,475.8 L134.7,472.8 L125.6,475.4 Z" fill="#3828cd"/>
<path d="M147.6,477.7 L156.7,475.3 L150.3,473.2 L141.2,475.8 Z" fill="#3d30d8"/>
<path d="M163.2,475.5 L172.3,475.0 L165.8,473.4 L156.7,475.3 Z" fill="#4644ea"/>
<path d="M178.7,475.1 L187.8,476.3 L181.4,474.2 L172.3,475.0 Z" fill="#484ff1"/>
<path d="M194.3,479.2 L203.4,479.5 L196.9,476.0 L187.8,476.3 Z" fill="#433ae3"/>
<path d="M209.9,483.5 L219.0,481.4 L212.5,477.8 L203.4,479.5 Z" fill="#392ad0"/>
<path d="M225.4,485.1 L234.5,482.1 L228.1,478.5 L219.0,481.4 Z" fill="#3828cd"/>
<path d="M241.0,485.8 L250.1,482.4 L243.6,478.2 L234.5,482.1 Z" fill="#3929ce"/>
<path d="M256.5,486.6 L265.6,483.3 L259.2,478.3 L250.1,482.4 Z" fill="#3a2ad1"/>
<path d="M272.1,490.0 L281.2,484.8 L274.7,479.9 L265.6,483.3 Z" fill="#3726c7"/>
<path d="M287.7,489.0 L296.8,486.5 L290.3,482.2 L281.2,484.8 Z" fill="#3929cf"/>
<path d="M303.2,490.2 L312.3,487.8 L305.9,484.1 L296.8,486.5 Z" fill="#3929ce"/>
<path d="M318.8,491.3 L327.9,489.0 L321.4,485.4 L312.3,487.8 Z" fill="#3929ce"/>
<path d="M334.3,492.4 L343.4,490.1 L337.0,486.6 L327.9,489.0 Z" fill="#3929ce"/>
<path d="M349.9,493.6 L359.0,491.2 L352.5,487.7 L343.4,490.1 Z" fill="#3829ce"/>
<path d="M365.5,496.5 L374.6,494.0 L368.1,488.8 L359.0,491.2 Z" fill="#3726c7"/>
<path d="M381.0,497.6 L390.1,495.0 L383.7,491.4 L374.6,494.0 Z" fill="#7c1a84"/>
<path d="M396.6,497.2 L405.7,494.8 L399.2,492.5 L390.1,495.0 Z" fill="#3828cd"/>
<path d="M412.1,498.4 L421.2,495.9 L414.8,492.3 L405.7,494.8 Z" fill="#3828cc"/>
<path d="M427.7,499.6 L436.8,498.3 L430.3,494.7 L421.2,495.9 Z" fill="#3828cc"/>
<path d="M443.3,501.9 L452.4,499.4 L445.9,495.8 L436.8,498.3 Z" fill="#7c1a84"/>
<path d="M76.3,479.4 L85.4,476.9 L78.9,473.3 L69.8,475.8 Z" fill="#7c1a84"/>
<path d="M91.8,479.6 L100.9,477.0 L94.5,474.4 L85.4,476.9 Z" fill="#3828cb"/>
<path d="M107.4,480.6 L116.5,478.0 L110.0,474.5 L100.9,477.0 Z" fill="#3828cb"/>
<path d="M123.0,481.4 L132.1,478.6 L125.6,475.4 L116.5,478.0 Z" fill="#3828cc"/>
<path d="M138.5,481.1 L147.6,477.7 L141.2,475.8 L132.1,478.6 Z" fill="#3b2cd3"/>
<path d="M154.1,477.1 L163.2,475.5 L156.7,475.3 L147.6,477.7 Z" fill="#484cef"/>
<path d="M169.6,474.6 L178.7,475.1 L172.3,475.0 L163.2,475.5 Z" fill="#465ffb"/>
<path d="M185.2,475.4 L194.3,479.2 L187.8,476.3 L178.7,475.1 Z" fill="#4561fc"/>
<path d="M200.8,484.2 L209.9,483.5 L203.4,479.5 L194.3,479.2 Z" fill="#3e31db"/>
<path d="M216.3,487.5 L225.4,485.1 L219.0,481.4 L209.9,483.5 Z" fill="#3829ce"/>
<path d="M231.9,488.8 L241.0,485.8 L234.5,482.1 L225.4,485.1 Z" fill="#3828cd"/>
<path d="M247.4,489.6 L256.5,486.6 L250.1,482.4 L241.0,485.8 Z" fill="#3829ce"/>
<path d="M263.0,492.5 L272.1,490.0 L265.6,483.3 L256.5,486.6 Z" fill="#3726c7"/>
<path d="M278.6,493.6 L287.7,489.0 L281.2,484.8 L272.1,490.0 Z" fill="#3726c7"/>
<path d="M294.1,492.7 L303.2,490.2 L296.8,486.5 L287.7,489.0 Z" fill="#3929cf"/>
<path d="M309.7,493.7 L318.8,491.3 L312.3,487.8 L303.2,490.2 Z" fill="#3929cf"/>
<path d="M325.2,494.8 L334.3,492.4 L327.9,489.0 L318.8,491.3 Z" fill="#3929cf"/>
<path d="M340.8,495.9 L349.9,493.6 L343.4,490.1 L334.3,492.4 Z" fill="#3929cf"/>
<path d="M356.4,497.1 L365.5,496.5 L359.0,491.2 L349.9,493.6 Z" fill="#3929ce"/>
<path d="M371.9,500.1 L381.0,497.6 L374.6,494.0 L365.5,496.5 Z" fill="#7c1a84"/>
<path d="M387.5,499.6 L396.6,497.2 L390.1,495.0 L381.0,497.6 Z" fill="#3828cd"/>
<path d="M403.0,500.8 L412.1,498.4 L405.7,494.8 L396.6,497.2 Z" fill="#3828cd"/>
<path d="M418.6,502.0 L427.7,499.6 L421.2,495.9 L412.1,498.4 Z" fill="#3828cc"/>
<path d="M434.2,503.2 L443.3,501.9 L436.8,498.3 L427.7,499.6 Z" fill="#3828cc"/>
<path d="M449.7,505.6 L458.8,503.0 L452.4,499.4 L443.3,501.9 Z" fill="#7c1a84"/>
<path d="M67.2,482.0 L76.3,479.4 L69.8,475.8 L60.7,478.4 Z" fill="#7c1a84"/>
<path d="M82.7,483.1 L91.8,479.6 L85.4,476.9 L76.3,479.4 Z" fill="#3726c7"/>
<path d="M98.3,483.2 L107.4,480.6 L100.9,477.0 L91.8,479.6 Z" fill="#3828cb"/>
<path d="M113.9,484.2 L123.0,481.4 L116.5,478.0 L107.4,480.6 Z" fill="#3828cb"/>
<path d="M129.4,484.6 L138.5,481.1 L132.1,478.6 L123.0,481.4 Z" fill="#3829ce"/>
<path d="M145.0,482.3 L154.1,477.1 L147.6,477.7 L138.5,481.1 Z" fill="#4238e1"/>
<path d="M160.5,474.2 L169.6,474.6 L163.2,475.5 L154.1,477.1 Z" fill="#3d71fe"/>
<path d="M176.1,477.7 L185.2,475.4 L178.7,475.1 L169.6,474.6 Z" fill="#4562fc"/>
<path d="M191.7,483.9 L200.8,484.2 L194.3,479.2 L185.2,475.4 Z" fill="#4644ea"/>
<path d="M207.2,489.4 L216.3,487.5 L209.9,483.5 L200.8,484.2 Z" fill="#3a2bd1"/>
<path d="M222.8,491.4 L231.9,488.8 L225.4,485.1 L216.3,487.5 Z" fill="#3828cd"/>
<path d="M238.3,492.4 L247.4,489.6 L241.0,485.8 L231.9,488.8 Z" fill="#3828cd"/>
<path d="M253.9,495.0 L263.0,492.5 L256.5,486.6 L247.4,489.6 Z" fill="#3726c7"/>
<path d="M269.5,496.1 L278.6,493.6 L272.1,490.0 L263.0,492.5 Z" fill="#7c1a84"/>
<path d="M285.0,495.2 L294.1,492.7 L287.7,489.0 L278.6,493.6 Z" fill="#3929cf"/>
<path d="M300.6,496.1 L309.7,493.7 L303.2,490.2 L294.1,492.7 Z" fill="#392ad0"/>
<path d="M316.1,497.0 L325.2,494.8 L318.8,491.3 L309.7,493.7 Z" fill="#3a2bd1"/>
<path d="M331.7,498.1 L340.8,495.9 L334.3,492.4 L325.2,494.8 Z" fill="#3a2bd1"/>
<path d="M347.3,499.3 L356.4,497.1 L349.9,493.6 L340.8,495.9 Z" fill="#3a2ad1"/>
<path d="M362.8,500.6 L371.9,500.1 L365.5,496.5 L356.4,497.1 Z" fill="#3929cf"/>
<path d="M378.4,501.9 L387.5,499.6 L381.0,497.6 L371.9,500.1 Z" fill="#3829ce"/>
<path d="M393.9,503.2 L403.0,500.8 L396.6,497.2 L387.5,499.6 Z" fill="#3828cd"/>
<path d="M409.5,504.5 L418.6,502.0 L412.1,498.4 L403.0,500.8 Z" fill="#3828cd"/>
<path d="M425.1,505.7 L434.2,503.2 L427.7,499.6 L418.6,502.0 Z" fill="#3828cc"/>
<path d="M440.6,508.1 L449.7,505.6 L443.3,501.9 L434.2,503.2 Z" fill="#3726c7"/>
<path d="M456.2,509.2 L465.3,506.6 L458.8,503.0 L449.7,505.6 Z" fill="#7c1a84"/>
<path d="M73.6,485.6 L82.7,483.1 L76.3,479.4 L67.2,482.0 Z" fill="#7c1a84"/>
<path d="M89.2,486.7 L98.3,483.2 L91.8,479.6 L82.7,483.1 Z" fill="#3726c7"/>
<path d="M104.8,486.8 L113.9,484.2 L107.4,480.6 L98.3,483.2 Z" fill="#3828cb"/>
<path d="M120.3,487.6 L129.4,484.6 L123.0,481.4 L113.9,484.2 Z" fill="#3828cc"/>
<path d="M135.9,487.4 L145.0,482.3 L138.5,481.1 L129.4,484.6 Z" fill="#3a2bd2"/>
<path d="M151.4,483.6 L160.5,474.2 L154.1,477.1 L145.0,482.3 Z" fill="#4749ed"/>
<path d="M167.0,482.5 L176.1,477.7 L169.6,474.6 L160.5,474.2 Z" fill="#4756f6"/>
<path d="M182.6,486.2 L191.7,483.9 L185.2,475.4 L176.1,477.7 Z" fill="#4645eb"/>
<path d="M198.1,491.1 L207.2,489.4 L200.8,484.2 L191.7,483.9 Z" fill="#3c2ed6"/>
<path d="M213.7,493.7 L222.8,491.4 L216.3,487.5 L207.2,489.4 Z" fill="#3828cd"/>
<path d="M229.2,495.0 L238.3,492.4 L231.9,488.8 L222.8,491.4 Z" fill="#3828cd"/>
<path d="M244.8,497.6 L253.9,495.0 L247.4,489.6 L238.3,492.4 Z" fill="#3726c7"/>
<path d="M260.4,498.7 L269.5,496.1 L263.0,492.5 L253.9,495.0 Z" fill="#7c1a84"/>
<path d="M275.9,497.7 L285.0,495.2 L278.6,493.6 L269.5,496.1 Z" fill="#3929cf"/>
<path d="M291.5,498.5 L300.6,496.1 L294.1,492.7 L285.0,495.2 Z" fill="#3a2ad1"/>
<path d="M307.0,499.3 L316.1,497.0 L309.7,493.7 L300.6,496.1 Z" fill="#3b2cd3"/>
<path d="M322.6,500.2 L331.7,498.1 L325.2,494.8 L316.1,497.0 Z" fill="#3b2dd4"/>
<path d="M338.2,501.4 L347.3,499.3 L340.8,495.9 L331.7,498.1 Z" fill="#3b2cd3"/>
<path d="M353.7,502.7 L362.8,500.6 L356.4,497.1 L347.3,499.3 Z" fill="#3a2bd2"/>
<path d="M369.3,504.2 L378.4,501.9 L371.9,500.1 L362.8,500.6 Z" fill="#392ad0"/>
<path d="M384.8,505.5 L393.9,503.2 L387.5,499.6 L378.4,501.9 Z" fill="#3829ce"/>
<path d="M400.4,506.9 L409.5,504.5 L403.0,500.8 L393.9,503.2 Z" fill="#3828cd"/>
<path d="M416.0,508.1 L425.1,505.7 L418.6,502.0 L409.5,504.5 Z" fill="#3828cd"/>
<path d="M431.5,510.6 L440.6,508.1 L434.2,503.2 L425.1,505.7 Z" fill="#3726c7"/>
<path d="M447.1,511.7 L456.2,509.2 L449.7,505.6 L440.6,508.1 Z" fill="#7c1a84"/>
<path d="M80.1,489.2 L89.2,486.7 L82.7,483.1 L73.6,485.6 Z" fill="#7c1a84"/>
<path d="M95.7,490.3 L104.8,486.8 L98.3,483.2 L89.2,486.7 Z" fill="#3726c7"/>
<path d="M111.2,490.4 L120.3,487.6 L113.9,484.2 L104.8,486.8 Z" fill="#3828cb"/>
<path d="M126.8,491.0 L135.9,487.4 L129.4,484.6 L120.3,487.6 Z" fill="#3828cd"/>
<path d="M142.3,490.4 L151.4,483.6 L145.0,482.3 L135.9,487.4 Z" fill="#3c2ed6"/>
<path d="M157.9,488.9 L167.0,482.5 L160.5,474.2 L151.4,483.6 Z" fill="#443de5"/>
<path d="M173.5,490.5 L182.6,486.2 L176.1,477.7 L167.0,482.5 Z" fill="#423ae2"/>
<path d="M189.0,493.5 L198.1,491.1 L191.7,483.9 L182.6,486.2 Z" fill="#3d2fd8"/>
<path d="M204.6,496.1 L213.7,493.7 L207.2,489.4 L198.1,491.1 Z" fill="#3929ce"/>
<path d="M220.1,497.6 L229.2,495.0 L222.8,491.4 L213.7,493.7 Z" fill="#3828cd"/>
<path d="M235.7,500.1 L244.8,497.6 L238.3,492.4 L229.2,495.0 Z" fill="#3726c7"/>
<path d="M251.3,501.2 L260.4,498.7 L253.9,495.0 L244.8,497.6 Z" fill="#7c1a84"/>
<path d="M266.8,500.3 L275.9,497.7 L269.5,496.1 L260.4,498.7 Z" fill="#3929cf"/>
<path d="M282.4,501.0 L291.5,498.5 L285.0,495.2 L275.9,497.7 Z" fill="#3a2bd1"/>
<path d="M297.9,501.6 L307.0,499.3 L300.6,496.1 L291.5,498.5 Z" fill="#3b2dd4"/>
<path d="M313.5,502.2 L322.6,500.2 L316.1,497.0 L307.0,499.3 Z" fill="#3d2fd7"/>
<path d="M329.1,503.2 L338.2,501.4 L331.7,498.1 L322.6,500.2 Z" fill="#3d2fd8"/>
<path d="M344.6,504.6 L353.7,502.7 L347.3,499.3 L338.2,501.4 Z" fill="#3c2ed6"/>
<path d="M360.2,506.2 L369.3,504.2 L362.8,500.6 L353.7,502.7 Z" fill="#3a2cd3"/>
<path d="M375.7,507.8 L384.8,505.5 L378.4,501.9 L369.3,504.2 Z" fill="#392ad0"/>
<path d="M391.3,509.2 L400.4,506.9 L393.9,503.2 L384.8,505.5 Z" fill="#3829ce"/>
<path d="M406.9,510.5 L416.0,508.1 L409.5,504.5 L400.4,506.9 Z" fill="#3828cd"/>
<path d="M422.4,513.2 L431.5,510.6 L425.1,505.7 L416.0,508.1 Z" fill="#3726c7"/>
<path d="M438.0,514.3 L447.1,511.7 L440.6,508.1 L431.5,510.6 Z" fill="#7c1a84"/>
<path d="M86.6,492.9 L95.7,490.3 L89.2,486.7 L80.1,489.2 Z" fill="#7c1a84"/>
<path d="M102.1,494.0 L111.2,490.4 L104.8,486.8 L95.7,490.3 Z" fill="#3726c7"/>
<path d="M117.7,493.9 L126.8,491.0 L120.3,487.6 L111.2,490.4 Z" fill="#3828cb"/>
<path d="M133.2,494.5 L142.3,490.4 L135.9,487.4 L126.8,491.0 Z" fill="#3828cd"/>
<path d="M148.8,494.3 L157.9,488.9 L151.4,483.6 L142.3,490.4 Z" fill="#3b2dd4"/>
<path d="M164.4,494.7 L173.5,490.5 L167.0,482.5 L157.9,488.9 Z" fill="#3d30d9"/>
<path d="M179.9,496.4 L189.0,493.5 L182.6,486.2 L173.5,490.5 Z" fill="#3b2dd5"/>
<path d="M195.5,498.5 L204.6,496.1 L198.1,491.1 L189.0,493.5 Z" fill="#3929cf"/>
<path d="M211.0,500.1 L220.1,497.6 L213.7,493.7 L204.6,496.1 Z" fill="#3828cd"/>
<path d="M226.6,501.2 L235.7,500.1 L229.2,495.0 L220.1,497.6 Z" fill="#3828cd"/>
<path d="M242.2,503.7 L251.3,501.2 L244.8,497.6 L235.7,500.1 Z" fill="#7c1a84"/>
<path d="M257.7,504.8 L266.8,500.3 L260.4,498.7 L251.3,501.2 Z" fill="#3726c7"/>
<path d="M273.3,503.5 L282.4,501.0 L275.9,497.7 L266.8,500.3 Z" fill="#3a2bd1"/>
<path d="M288.8,504.0 L297.9,501.6 L291.5,498.5 L282.4,501.0 Z" fill="#3c2ed5"/>
<path d="M304.4,504.3 L313.5,502.2 L307.0,499.3 L297.9,501.6 Z" fill="#3e31da"/>
<path d="M320.0,504.8 L329.1,503.2 L322.6,500.2 L313.5,502.2 Z" fill="#4034dd"/>
<path d="M335.5,506.2 L344.6,504.6 L338.2,501.4 L329.1,503.2 Z" fill="#3f32dc"/>
<path d="M351.1,508.0 L360.2,506.2 L353.7,502.7 L344.6,504.6 Z" fill="#3d2fd7"/>
<path d="M366.6,509.8 L375.7,507.8 L369.3,504.2 L360.2,506.2 Z" fill="#3b2cd3"/>
<path d="M382.2,511.4 L391.3,509.2 L384.8,505.5 L375.7,507.8 Z" fill="#3929cf"/>
<path d="M397.8,512.9 L406.9,510.5 L400.4,506.9 L391.3,509.2 Z" fill="#3829ce"/>
<path d="M413.3,515.7 L422.4,513.2 L416.0,508.1 L406.9,510.5 Z" fill="#3726c7"/>
<path d="M428.9,516.8 L438.0,514.3 L431.5,510.6 L422.4,513.2 Z" fill="#7c1a84"/>
<path d="M93.0,496.5 L102.1,494.0 L95.7,490.3 L86.6,492.9 Z" fill="#7c1a84"/>
<path d="M108.6,497.6 L117.7,493.9 L111.2,490.4 L102.1,494.0 Z" fill="#3726c7"/>
<path d="M124.1,497.5 L133.2,494.5 L126.8,491.0 L117.7,493.9 Z" fill="#3828cb"/>
<path d="M139.7,498.1 L148.8,494.3 L142.3,490.4 L133.2,494.5 Z" fill="#3828cd"/>
<path d="M155.3,498.6 L164.4,494.7 L157.9,488.9 L148.8,494.3 Z" fill="#392ad0"/>
<path d="M170.8,499.7 L179.9,496.4 L173.5,490.5 L164.4,494.7 Z" fill="#3a2ad0"/>
<path d="M186.4,501.2 L195.5,498.5 L189.0,493.5 L179.9,496.4 Z" fill="#3929ce"/>
<path d="M201.9,502.6 L211.0,500.1 L204.6,496.1 L195.5,498.5 Z" fill="#3828cd"/>
<path d="M217.5,503.8 L226.6,501.2 L220.1,497.6 L211.0,500.1 Z" fill="#3828cd"/>
<path d="M233.1,504.7 L242.2,503.7 L235.7,500.1 L226.6,501.2 Z" fill="#3828cd"/>
<path d="M248.6,507.4 L257.7,504.8 L251.3,501.2 L242.2,503.7 Z" fill="#7c1a84"/>
<path d="M264.2,508.5 L273.3,503.5 L266.8,500.3 L257.7,504.8 Z" fill="#3726c7"/>
<path d="M279.7,506.5 L288.8,504.0 L282.4,501.0 L273.3,503.5 Z" fill="#3c2dd5"/>
<path d="M295.3,506.5 L304.4,504.3 L297.9,501.6 L288.8,504.0 Z" fill="#3f33dc"/>
<path d="M310.9,506.3 L320.0,504.8 L313.5,502.2 L304.4,504.3 Z" fill="#433ae3"/>
<path d="M326.4,507.0 L335.5,506.2 L329.1,503.2 L320.0,504.8 Z" fill="#443ce5"/>
<path d="M342.0,509.2 L351.1,508.0 L344.6,504.6 L335.5,506.2 Z" fill="#4136df"/>
<path d="M357.5,511.6 L366.6,509.8 L360.2,506.2 L351.1,508.0 Z" fill="#3d2fd8"/>
<path d="M373.1,513.5 L382.2,511.4 L375.7,507.8 L366.6,509.8 Z" fill="#3a2bd2"/>
<path d="M388.7,515.2 L397.8,512.9 L391.3,509.2 L382.2,511.4 Z" fill="#3929cf"/>
<path d="M404.2,518.2 L413.3,515.7 L406.9,510.5 L397.8,512.9 Z" fill="#3726c7"/>
<path d="M419.8,519.3 L428.9,516.8 L422.4,513.2 L413.3,515.7 Z" fill="#7c1a84"/>
<path d="M99.5,500.1 L108.6,497.6 L102.1,494.0 L93.0,496.5 Z" fill="#7c1a84"/>
<path d="M115.0,501.2 L124.1,497.5 L117.7,493.9 L108.6,497.6 Z" fill="#3726c7"/>
<path d="M130.6,501.1 L139.7,498.1 L133.2,494.5 L124.1,497.5 Z" fill="#3828cc"/>
<path d="M146.2,501.9 L155.3,498.6 L148.8,494.3 L139.7,498.1 Z" fill="#3828cd"/>
<path d="M161.7,502.8 L170.8,499.7 L164.4,494.7 L155.3,498.6 Z" fill="#3828cd"/>
<path d="M177.3,504.0 L186.4,501.2 L179.9,496.4 L170.8,499.7 Z" fill="#3828cd"/>
<path d="M192.8,505.2 L201.9,502.6 L195.5,498.5 L186.4,501.2 Z" fill="#3828cc"/>
<path d="M208.4,506.3 L217.5,503.8 L211.0,500.1 L201.9,502.6 Z" fill="#3828cc"/>
<path d="M224.0,507.3 L233.1,504.7 L226.6,501.2 L217.5,503.8 Z" fill="#3828cd"/>
<path d="M239.5,508.1 L248.6,507.4 L242.2,503.7 L233.1,504.7 Z" fill="#3829ce"/>
<path d="M255.1,511.0 L264.2,508.5 L257.7,504.8 L248.6,507.4 Z" fill="#7c1a84"/>
<path d="M270.6,512.1 L279.7,506.5 L273.3,503.5 L264.2,508.5 Z" fill="#3726c7"/>
<path d="M286.2,509.1 L295.3,506.5 L288.8,504.0 L279.7,506.5 Z" fill="#3f32dc"/>
<path d="M301.8,508.0 L310.9,506.3 L304.4,504.3 L295.3,506.5 Z" fill="#4540e7"/>
<path d="M317.3,507.1 L326.4,507.0 L320.0,504.8 L310.9,506.3 Z" fill="#484ef1"/>
<path d="M332.9,509.2 L342.0,509.2 L335.5,506.2 L326.4,507.0 Z" fill="#4747ec"/>
<path d="M348.5,512.7 L357.5,511.6 L351.1,508.0 L342.0,509.2 Z" fill="#4137e0"/>
<path d="M364.0,515.3 L373.1,513.5 L366.6,509.8 L357.5,511.6 Z" fill="#3c2fd7"/>
<path d="M379.6,517.3 L388.7,515.2 L382.2,511.4 L373.1,513.5 Z" fill="#3a2bd1"/>
<path d="M395.1,520.8 L404.2,518.2 L397.8,512.9 L388.7,515.2 Z" fill="#3726c7"/>
<path d="M410.7,521.9 L419.8,519.3 L413.3,515.7 L404.2,518.2 Z" fill="#7c1a84"/>
<path d="M105.9,503.7 L115.0,501.2 L108.6,497.6 L99.5,500.1 Z" fill="#7c1a84"/>
<path d="M121.5,504.8 L130.6,501.1 L124.1,497.5 L115.0,501.2 Z" fill="#3726c7"/>
<path d="M137.1,504.8 L146.2,501.9 L139.7,498.1 L130.6,501.1 Z" fill="#3828cb"/>
<path d="M152.6,505.7 L161.7,502.8 L155.3,498.6 L146.2,501.9 Z" fill="#3828cc"/>
<path d="M168.2,506.7 L177.3,504.0 L170.8,499.7 L161.7,502.8 Z" fill="#3828cc"/>
<path d="M183.7,507.8 L192.8,505.2 L186.4,501.2 L177.3,504.0 Z" fill="#3828cc"/>
<path d="M199.3,508.9 L208.4,506.3 L201.9,502.6 L192.8,505.2 Z" fill="#3828cc"/>
<path d="M214.9,509.9 L224.0,507.3 L217.5,503.8 L208.4,506.3 Z" fill="#3828cd"/>
<path d="M230.4,510.8 L239.5,508.1 L233.1,504.7 L224.0,507.3 Z" fill="#3828cd"/>
<path d="M246.0,511.5 L255.1,511.0 L248.6,507.4 L239.5,508.1 Z" fill="#3929cf"/>
<path d="M261.5,514.6 L270.6,512.1 L264.2,508.5 L255.1,511.0 Z" fill="#7c1a84"/>
<path d="M277.1,515.7 L286.2,509.1 L279.7,506.5 L270.6,512.1 Z" fill="#3726c7"/>
<path d="M292.7,504.0 L301.8,508.0 L295.3,506.5 L286.2,509.1 Z" fill="#4268fd"/>
<path d="M308.2,507.3 L317.3,507.1 L310.9,506.3 L301.8,508.0 Z" fill="#475bf9"/>
<path d="M323.8,506.8 L332.9,509.2 L326.4,507.0 L317.3,507.1 Z" fill="#4464fd"/>
<path d="M339.4,512.3 L348.5,512.7 L342.0,509.2 L332.9,509.2 Z" fill="#474bef"/>
<path d="M354.9,516.7 L364.0,515.3 L357.5,511.6 L348.5,512.7 Z" fill="#4035de"/>
<path d="M370.5,519.3 L379.6,517.3 L373.1,513.5 L364.0,515.3 Z" fill="#3b2dd5"/>
<path d="M386.0,523.3 L395.1,520.8 L388.7,515.2 L379.6,517.3 Z" fill="#3726c7"/>
<path d="M401.6,524.4 L410.7,521.9 L404.2,518.2 L395.1,520.8 Z" fill="#7c1a84"/>
<path d="M112.4,507.4 L121.5,504.8 L115.0,501.2 L105.9,503.7 Z" fill="#7c1a84"/>
<path d="M128.0,508.5 L137.1,504.8 L130.6,501.1 L121.5,504.8 Z" fill="#3726c7"/>
<path d="M143.5,508.4 L152.6,505.7 L146.2,501.9 L137.1,504.8 Z" fill="#3828cb"/>
<path d="M159.1,509.4 L168.2,506.7 L161.7,502.8 L152.6,505.7 Z" fill="#3828cc"/>
<path d="M174.6,510.5 L183.7,507.8 L177.3,504.0 L168.2,506.7 Z" fill="#3828cc"/>
<path d="M190.2,511.5 L199.3,508.9 L192.8,505.2 L183.7,507.8 Z" fill="#3828cc"/>
<path d="M205.8,512.5 L214.9,509.9 L208.4,506.3 L199.3,508.9 Z" fill="#3828cc"/>
<path d="M221.3,513.4 L230.4,510.8 L224.0,507.3 L214.9,509.9 Z" fill="#3828cd"/>
<path d="M236.9,514.2 L246.0,511.5 L239.5,508.1 L230.4,510.8 Z" fill="#3829ce"/>
<path d="M252.5,514.9 L261.5,514.6 L255.1,511.0 L246.0,511.5 Z" fill="#3a2ad1"/>
<path d="M268.0,518.2 L277.1,515.7 L270.6,512.1 L261.5,514.6 Z" fill="#7c1a84"/>
<path d="M283.6,519.3 L292.7,504.0 L286.2,509.1 L277.1,515.7 Z" fill="#3726c7"/>
<path d="M299.1,486.3 L308.2,507.3 L301.8,508.0 L292.7,504.0 Z" fill="#1fbea9"/>
<path d="M314.7,505.9 L323.8,506.8 L317.3,507.1 L308.2,507.3 Z" fill="#3479fd"/>
<path d="M330.3,508.8 L339.4,512.3 L332.9,509.2 L323.8,506.8 Z" fill="#3f6efe"/>
<path d="M345.8,517.0 L354.9,516.7 L348.5,512.7 L339.4,512.3 Z" fill="#4643e9"/>
<path d="M361.4,520.9 L370.5,519.3 L364.0,515.3 L354.9,516.7 Z" fill="#3e31da"/>
<path d="M376.9,525.9 L386.0,523.3 L379.6,517.3 L370.5,519.3 Z" fill="#3726c7"/>
<path d="M392.5,527.0 L401.6,524.4 L395.1,520.8 L386.0,523.3 Z" fill="#7c1a84"/>
<path d="M118.9,511.0 L128.0,508.5 L121.5,504.8 L112.4,507.4 Z" fill="#7c1a84"/>
<path d="M134.4,512.1 L143.5,508.4 L137.1,504.8 L128.0,508.5 Z" fill="#3726c7"/>
<path d="M150.0,512.1 L159.1,509.4 L152.6,505.7 L143.5,508.4 Z" fill="#3828cb"/>
<path d="M165.5,513.1 L174.6,510.5 L168.2,506.7 L159.1,509.4 Z" fill="#3828cb"/>
<path d="M181.1,515.3 L190.2,511.5 L183.7,507.8 L174.6,510.5 Z" fill="#3726c7"/>
<path d="M196.7,515.1 L205.8,512.5 L199.3,508.9 L190.2,511.5 Z" fill="#3828cc"/>
<path d="M212.2,516.1 L221.3,513.4 L214.9,509.9 L205.8,512.5 Z" fill="#3828cd"/>
<path d="M227.8,516.9 L236.9,514.2 L230.4,510.8 L221.3,513.4 Z" fill="#3828cd"/>
<path d="M243.4,517.6 L252.5,514.9 L246.0,511.5 L236.9,514.2 Z" fill="#3929cf"/>
<path d="M258.9,518.1 L268.0,518.2 L261.5,514.6 L252.5,514.9 Z" fill="#3b2cd3"/>
<path d="M274.5,521.9 L283.6,519.3 L277.1,515.7 L268.0,518.2 Z" fill="#7c1a84"/>
<path d="M290.0,523.0 L299.1,486.3 L292.7,504.0 L283.6,519.3 Z" fill="#3726c7"/>
<path d="M305.6,463.8 L314.7,505.9 L308.2,507.3 L299.1,486.3 Z" fill="#f6e324"/>
<path d="M321.2,498.1 L330.3,508.8 L323.8,506.8 L314.7,505.9 Z" fill="#12acd5"/>
<path d="M336.7,515.6 L345.8,517.0 L339.4,512.3 L330.3,508.8 Z" fill="#475bf9"/>
<path d="M352.3,527.3 L361.4,520.9 L354.9,516.7 L345.8,517.0 Z" fill="#3726c7"/>
<path d="M367.8,528.4 L376.9,525.9 L370.5,519.3 L361.4,520.9 Z" fill="#3726c7"/>
<path d="M383.4,529.5 L392.5,527.0 L386.0,523.3 L376.9,525.9 Z" fill="#7c1a84"/>
<path d="M125.3,514.6 L134.4,512.1 L128.0,508.5 L118.9,511.0 Z" fill="#7c1a84"/>
<path d="M140.9,515.7 L150.0,512.1 L143.5,508.4 L134.4,512.1 Z" fill="#3726c7"/>
<path d="M156.5,515.7 L165.5,513.1 L159.1,509.4 L150.0,512.1 Z" fill="#3828cb"/>
<path d="M172.0,517.9 L181.1,515.3 L174.6,510.5 L165.5,513.1 Z" fill="#3726c7"/>
<path d="M187.6,519.0 L196.7,515.1 L190.2,511.5 L181.1,515.3 Z" fill="#3726c7"/>
<path d="M203.1,518.7 L212.2,516.1 L205.8,512.5 L196.7,515.1 Z" fill="#3828cc"/>
<path d="M218.7,519.6 L227.8,516.9 L221.3,513.4 L212.2,516.1 Z" fill="#3828cd"/>
<path d="M234.3,520.4 L243.4,517.6 L236.9,514.2 L227.8,516.9 Z" fill="#3829ce"/>
<path d="M249.8,521.0 L258.9,518.1 L252.5,514.9 L243.4,517.6 Z" fill="#3a2ad1"/>
<path d="M265.4,521.2 L274.5,521.9 L268.0,518.2 L258.9,518.1 Z" fill="#3c2fd7"/>
<path d="M280.9,525.5 L290.0,523.0 L283.6,519.3 L274.5,521.9 Z" fill="#7c1a84"/>
<path d="M296.5,526.6 L305.6,463.8 L299.1,486.3 L290.0,523.0 Z" fill="#3726c7"/>
<path d="M312.1,465.1 L321.2,498.1 L314.7,505.9 L305.6,463.8 Z" fill="#f9f618"/>
<path d="M327.6,514.5 L336.7,515.6 L330.3,508.8 L321.2,498.1 Z" fill="#3180fa"/>
<path d="M343.2,529.9 L352.3,527.3 L345.8,517.0 L336.7,515.6 Z" fill="#3726c7"/>
<path d="M358.7,530.9 L367.8,528.4 L361.4,520.9 L352.3,527.3 Z" fill="#3726c7"/>
<path d="M374.3,532.0 L383.4,529.5 L376.9,525.9 L367.8,528.4 Z" fill="#7c1a84"/>
<path d="M131.8,518.2 L140.9,515.7 L134.4,512.1 L125.3,514.6 Z" fill="#7c1a84"/>
<path d="M147.4,519.3 L156.5,515.7 L150.0,512.1 L140.9,515.7 Z" fill="#3726c7"/>
<path d="M162.9,520.4 L172.0,517.9 L165.5,513.1 L156.5,515.7 Z" fill="#3726c7"/>
<path d="M178.5,521.5 L187.6,519.0 L181.1,515.3 L172.0,517.9 Z" fill="#7c1a84"/>
<path d="M194.0,521.3 L203.1,518.7 L196.7,515.1 L187.6,519.0 Z" fill="#3828cc"/>
<path d="M209.6,522.2 L218.7,519.6 L212.2,516.1 L203.1,518.7 Z" fill="#3828cd"/>
<path d="M225.2,523.1 L234.3,520.4 L227.8,516.9 L218.7,519.6 Z" fill="#3828cd"/>
<path d="M240.7,523.9 L249.8,521.0 L243.4,517.6 L234.3,520.4 Z" fill="#3929cf"/>
<path d="M256.3,524.3 L265.4,521.2 L258.9,518.1 L249.8,521.0 Z" fill="#3b2cd3"/>
<path d="M271.8,524.2 L280.9,525.5 L274.5,521.9 L265.4,521.2 Z" fill="#3e31db"/>
<path d="M287.4,529.1 L296.5,526.6 L290.0,523.0 L280.9,525.5 Z" fill="#7c1a84"/>
<path d="M303.0,530.2 L312.1,465.1 L305.6,463.8 L296.5,526.6 Z" fill="#3726c7"/>
<path d="M318.5,501.4 L327.6,514.5 L321.2,498.1 L312.1,465.1 Z" fill="#2699e8"/>
<path d="M334.1,532.4 L343.2,529.9 L336.7,515.6 L327.6,514.5 Z" fill="#3726c7"/>
<path d="M349.6,533.5 L358.7,530.9 L352.3,527.3 L343.2,529.9 Z" fill="#7c1a84"/>
<path d="M365.2,534.6 L374.3,532.0 L367.8,528.4 L358.7,530.9 Z" fill="#7c1a84"/>
<path d="M138.3,521.9 L147.4,519.3 L140.9,515.7 L131.8,518.2 Z" fill="#7c1a84"/>
<path d="M153.8,523.0 L162.9,520.4 L156.5,515.7 L147.4,519.3 Z" fill="#3726c7"/>
<path d="M169.4,524.0 L178.5,521.5 L172.0,517.9 L162.9,520.4 Z" fill="#7c1a84"/>
<path d="M184.9,523.9 L194.0,521.3 L187.6,519.0 L178.5,521.5 Z" fill="#3828cc"/>
<path d="M200.5,524.9 L209.6,522.2 L203.1,518.7 L194.0,521.3 Z" fill="#3828cc"/>
<path d="M216.1,525.8 L225.2,523.1 L218.7,519.6 L209.6,522.2 Z" fill="#3828cd"/>
<path d="M231.6,526.6 L240.7,523.9 L234.3,520.4 L225.2,523.1 Z" fill="#3829ce"/>
<path d="M247.2,527.3 L256.3,524.3 L249.8,521.0 L240.7,523.9 Z" fill="#392ad0"/>
<path d="M262.7,527.6 L271.8,524.2 L265.4,521.2 L256.3,524.3 Z" fill="#3b2dd5"/>
<path d="M278.3,527.3 L287.4,529.1 L280.9,525.5 L271.8,524.2 Z" fill="#4034dd"/>
<path d="M293.9,532.8 L303.0,530.2 L296.5,526.6 L287.4,529.1 Z" fill="#7c1a84"/>
<path d="M309.4,533.8 L318.5,501.4 L312.1,465.1 L303.0,530.2 Z" fill="#3726c7"/>
<path d="M325.0,534.9 L334.1,532.4 L327.6,514.5 L318.5,501.4 Z" fill="#3726c7"/>
<path d="M340.5,536.0 L349.6,533.5 L343.2,529.9 L334.1,532.4 Z" fill="#7c1a84"/>
<path d="M356.1,537.1 L365.2,534.6 L358.7,530.9 L349.6,533.5 Z" fill="#7c1a84"/>
<path d="M144.7,525.5 L153.8,523.0 L147.4,519.3 L138.3,521.9 Z" fill="#7c1a84"/>
<path d="M160.3,526.6 L169.4,524.0 L162.9,520.4 L153.8,523.0 Z" fill="#7c1a84"/>
<path d="M175.8,526.5 L184.9,523.9 L178.5,521.5 L169.4,524.0 Z" fill="#3828cc"/>
<path d="M191.4,527.5 L200.5,524.9 L194.0,521.3 L184.9,523.9 Z" fill="#3828cc"/>
<path d="M207.0,528.4 L216.1,525.8 L209.6,522.2 L200.5,524.9 Z" fill="#3828cc"/>
<path d="M222.5,529.3 L231.6,526.6 L225.2,523.1 L216.1,525.8 Z" fill="#3828cd"/>
<path d="M238.1,530.1 L247.2,527.3 L240.7,523.9 L231.6,526.6 Z" fill="#3929ce"/>
<path d="M253.6,530.8 L262.7,527.6 L256.3,524.3 L247.2,527.3 Z" fill="#3a2bd1"/>
<path d="M269.2,531.0 L278.3,527.3 L271.8,524.2 L262.7,527.6 Z" fill="#3c2ed6"/>
<path d="M284.8,535.3 L293.9,532.8 L287.4,529.1 L278.3,527.3 Z" fill="#3726c7"/>
<path d="M300.3,536.4 L309.4,533.8 L303.0,530.2 L293.9,532.8 Z" fill="#7c1a84"/>
<path d="M315.9,537.5 L325.0,534.9 L318.5,501.4 L309.4,533.8 Z" fill="#3726c7"/>
<path d="M331.4,538.6 L340.5,536.0 L334.1,532.4 L325.0,534.9 Z" fill="#7c1a84"/>
<path d="M347.0,539.6 L356.1,537.1 L349.6,533.5 L340.5,536.0 Z" fill="#7c1a84"/>
<path d="M151.2,529.1 L160.3,526.6 L153.8,523.0 L144.7,525.5 Z" fill="#7c1a84"/>
<path d="M166.7,530.2 L175.8,526.5 L169.4,524.0 L160.3,526.6 Z" fill="#3726c7"/>
<path d="M182.3,530.1 L191.4,527.5 L184.9,523.9 L175.8,526.5 Z" fill="#3828cc"/>
<path d="M197.9,531.1 L207.0,528.4 L200.5,524.9 L191.4,527.5 Z" fill="#3828cc"/>
<path d="M213.4,532.0 L222.5,529.3 L216.1,525.8 L207.0,528.4 Z" fill="#3828cd"/>
<path d="M229.0,532.9 L238.1,530.1 L231.6,526.6 L222.5,529.3 Z" fill="#3828cd"/>
<path d="M244.5,533.7 L253.6,530.8 L247.2,527.3 L238.1,530.1 Z" fill="#3929cf"/>
<path d="M260.1,534.3 L269.2,531.0 L262.7,527.6 L253.6,530.8 Z" fill="#3a2bd2"/>
<path d="M275.7,537.8 L284.8,535.3 L278.3,527.3 L269.2,531.0 Z" fill="#3726c7"/>
<path d="M291.2,538.9 L300.3,536.4 L293.9,532.8 L284.8,535.3 Z" fill="#7c1a84"/>
<path d="M306.8,540.0 L315.9,537.5 L309.4,533.8 L300.3,536.4 Z" fill="#7c1a84"/>
<path d="M322.3,541.1 L331.4,538.6 L325.0,534.9 L315.9,537.5 Z" fill="#7c1a84"/>
<path d="M337.9,542.2 L347.0,539.6 L340.5,536.0 L331.4,538.6 Z" fill="#7c1a84"/>
<path d="M157.6,532.8 L166.7,530.2 L160.3,526.6 L151.2,529.1 Z" fill="#7c1a84"/>
<path d="M173.2,533.8 L182.3,530.1 L175.8,526.5 L166.7,530.2 Z" fill="#3726c7"/>
<path d="M188.8,533.7 L197.9,531.1 L191.4,527.5 L182.3,530.1 Z" fill="#3828cc"/>
<path d="M204.3,534.7 L213.4,532.0 L207.0,528.4 L197.9,531.1 Z" fill="#3828cc"/>
<path d="M219.9,535.6 L229.0,532.9 L222.5,529.3 L213.4,532.0 Z" fill="#3828cd"/>
<path d="M235.4,536.5 L244.5,533.7 L238.1,530.1 L229.0,532.9 Z" fill="#3829ce"/>
<path d="M251.0,537.2 L260.1,534.3 L253.6,530.8 L244.5,533.7 Z" fill="#3929cf"/>
<path d="M266.6,540.4 L275.7,537.8 L269.2,531.0 L260.1,534.3 Z" fill="#3726c7"/>
<path d="M282.1,541.5 L291.2,538.9 L284.8,535.3 L275.7,537.8 Z" fill="#7c1a84"/>
<path d="M297.7,542.5 L306.8,540.0 L300.3,536.4 L291.2,538.9 Z" fill="#7c1a84"/>
<path d="M313.2,543.6 L322.3,541.1 L315.9,537.5 L306.8,540.0 Z" fill="#7c1a84"/>
<path d="M328.8,544.7 L337.9,542.2 L331.4,538.6 L322.3,541.1 Z" fill="#7c1a84"/>
<path d="M164.1,536.4 L173.2,533.8 L166.7,530.2 L157.6,532.8 Z" fill="#7c1a84"/>
<path d="M179.7,537.5 L188.8,533.7 L182.3,530.1 L173.2,533.8 Z" fill="#3726c7"/>
<path d="M195.2,537.3 L204.3,534.7 L197.9,531.1 L188.8,533.7 Z" fill="#3828cc"/>
<path d="M210.8,538.2 L219.9,535.6 L213.4,532.0 L204.3,534.7 Z" fill="#3828cc"/>
<path d="M226.3,539.2 L235.4,536.5 L229.0,532.9 L219.9,535.6 Z" fill="#3828cd"/>
<path d="M241.9,540.0 L251.0,537.2 L244.5,533.7 L235.4,536.5 Z" fill="#3829ce"/>
<path d="M257.5,540.8 L266.6,540.4 L260.1,534.3 L251.0,537.2 Z" fill="#3929cf"/>
<path d="M273.0,544.0 L282.1,541.5 L275.7,537.8 L266.6,540.4 Z" fill="#7c1a84"/>
<path d="M288.6,545.1 L297.7,542.5 L291.2,538.9 L282.1,541.5 Z" fill="#7c1a84"/>
<path d="M304.1,546.2 L313.2,543.6 L306.8,540.0 L297.7,542.5 Z" fill="#7c1a84"/>
<path d="M319.7,547.3 L328.8,544.7 L322.3,541.1 L313.2,543.6 Z" fill="#7c1a84"/>
<path d="M170.6,540.0 L179.7,537.5 L173.2,533.8 L164.1,536.4 Z" fill="#7c1a84"/>
<path d="M186.1,541.1 L195.2,537.3 L188.8,533.7 L179.7,537.5 Z" fill="#3726c7"/>
<path d="M201.7,540.9 L210.8,538.2 L204.3,534.7 L195.2,537.3 Z" fill="#3828cc"/>
<path d="M217.2,541.8 L226.3,539.2 L219.9,535.6 L210.8,538.2 Z" fill="#3828cc"/>
<path d="M232.8,542.8 L241.9,540.0 L235.4,536.5 L226.3,539.2 Z" fill="#3828cd"/>
<path d="M248.4,543.7 L257.5,540.8 L251.0,537.2 L241.9,540.0 Z" fill="#3829ce"/>
<path d="M263.9,544.5 L273.0,544.0 L266.6,540.4 L257.5,540.8 Z" fill="#3929cf"/>
<path d="M279.5,547.6 L288.6,545.1 L282.1,541.5 L273.0,544.0 Z" fill="#7c1a84"/>
<path d="M295.0,548.7 L304.1,546.2 L297.7,542.5 L288.6,545.1 Z" fill="#7c1a84"/>
<path d="M310.6,549.8 L319.7,547.3 L313.2,543.6 L304.1,546.2 Z" fill="#7c1a84"/>
<path d="M177.0,543.6 L186.1,541.1 L179.7,537.5 L170.6,540.0 Z" fill="#7c1a84"/>
<path d="M192.6,544.7 L201.7,540.9 L195.2,537.3 L186.1,541.1 Z" fill="#3726c7"/>
<path d="M208.1,544.5 L217.2,541.8 L210.8,538.2 L201.7,540.9 Z" fill="#3828cc"/>
<path d="M223.7,545.5 L232.8,542.8 L226.3,539.2 L217.2,541.8 Z" fill="#3828cd"/>
<path d="M239.3,546.4 L248.4,543.7 L241.9,540.0 L232.8,542.8 Z" fill="#3828cd"/>
<path d="M254.8,547.3 L263.9,544.5 L257.5,540.8 L248.4,543.7 Z" fill="#3829ce"/>
<path d="M270.4,548.2 L279.5,547.6 L273.0,544.0 L263.9,544.5 Z" fill="#3929cf"/>
<path d="M285.9,551.2 L295.0,548.7 L288.6,545.1 L279.5,547.6 Z" fill="#7c1a84"/>
<path d="M301.5,552.3 L310.6,549.8 L304.1,546.2 L295.0,548.7 Z" fill="#7c1a84"/>
<path d="M183.5,547.3 L192.6,544.7 L186.1,541.1 L177.0,543.6 Z" fill="#7c1a84"/>
<path d="M199.0,548.3 L208.1,544.5 L201.7,540.9 L192.6,544.7 Z" fill="#3726c7"/>
<path d="M214.6,548.1 L223.7,545.5 L217.2,541.8 L208.1,544.5 Z" fill="#3828cc"/>
<path d="M230.2,549.1 L239.3,546.4 L232.8,542.8 L223.7,545.5 Z" fill="#3828cd"/>
<path d="M245.7,550.0 L254.8,547.3 L248.4,543.7 L239.3,546.4 Z" fill="#3828cd"/>
<path d="M261.3,551.0 L270.4,548.2 L263.9,544.5 L254.8,547.3 Z" fill="#3828ce"/>
<path d="M276.8,551.9 L285.9,551.2 L279.5,547.6 L270.4,548.2 Z" fill="#3929ce"/>
<path d="M292.4,554.9 L301.5,552.3 L295.0,548.7 L285.9,551.2 Z" fill="#7c1a84"/>
<path d="M189.9,550.9 L199.0,548.3 L192.6,544.7 L183.5,547.3 Z" fill="#7c1a84"/>
<path d="M205.5,552.0 L214.6,548.1 L208.1,544.5 L199.0,548.3 Z" fill="#3726c7"/>
<path d="M221.1,551.7 L230.2,549.1 L223.7,545.5 L214.6,548.1 Z" fill="#3828cc"/>
<path d="M236.6,552.7 L245.7,550.0 L239.3,546.4 L230.2,549.1 Z" fill="#3828cd"/>
<path d="M252.2,553.7 L261.3,551.0 L254.8,547.3 L245.7,550.0 Z" fill="#3828cd"/>
<path d="M267.7,554.7 L276.8,551.9 L270.4,548.2 L261.3,551.0 Z" fill="#3828cd"/>
<path d="M283.3,555.7 L292.4,554.9 L285.9,551.2 L276.8,551.9 Z" fill="#3829ce"/>
<path d="M196.4,554.5 L205.5,552.0 L199.0,548.3 L189.9,550.9 Z" fill="#7c1a84"/>
<path d="M212.0,555.6 L221.1,551.7 L214.6,548.1 L205.5,552.0 Z" fill="#3726c7"/>
<path d="M227.5,555.4 L236.6,552.7 L230.2,549.1 L221.1,551.7 Z" fill="#3828cc"/>
<path d="M243.1,556.4 L252.2,553.7 L245.7,550.0 L236.6,552.7 Z" fill="#3828cc"/>
<path d="M258.6,557.4 L267.7,554.7 L261.3,551.0 L252.2,553.7 Z" fill="#3828cd"/>
<path d="M274.2,558.4 L283.3,555.7 L276.8,551.9 L267.7,554.7 Z" fill="#3828cd"/>
<path d="M202.9,558.1 L212.0,555.6 L205.5,552.0 L196.4,554.5 Z" fill="#7c1a84"/>
<path d="M218.4,559.2 L227.5,555.4 L221.1,551.7 L212.0,555.6 Z" fill="#3726c7"/>
<path d="M234.0,559.0 L243.1,556.4 L236.6,552.7 L227.5,555.4 Z" fill="#3828cc"/>
<path d="M249.5,560.0 L258.6,557.4 L252.2,553.7 L243.1,556.4 Z" fill="#3828cc"/>
<path d="M265.1,561.0 L274.2,558.4 L267.7,554.7 L258.6,557.4 Z" fill="#3828cd"/>
<path d="M209.3,561.8 L218.4,559.2 L212.0,555.6 L202.9,558.1 Z" fill="#7c1a84"/>
<path d="M224.9,562.9 L234.0,559.0 L227.5,555.4 L218.4,559.2 Z" fill="#3726c7"/>
<path d="M240.5,562.6 L249.5,560.0 L243.1,556.4 L234.0,559.0 Z" fill="#3828cc"/>
<path d="M256.0,563.7 L265.1,561.0 L258.6,557.4 L249.5,560.0 Z" fill="#3828cc"/>
<path d="M215.8,565.4 L224.9,562.9 L218.4,559.2 L209.3,561.8 Z" fill="#7c1a84"/>
<path d="M231.4,566.5 L240.5,562.6 L234.0,559.0 L224.9,562.9 Z" fill="#3726c7"/>
<path d="M246.9,566.3 L256.0,563.7 L249.5,560.0 L240.5,562.6 Z" fill="#3828cc"/>
<path d="M222.3,569.0 L231.4,566.5 L224.9,562.9 L215.8,565.4 Z" fill="#7c1a84"/>
<path d="M237.8,570.1 L246.9,566.3 L240.5,562.6 L231.4,566.5 Z" fill="#3726c7"/>
<path d="M228.7,572.6 L237.8,570.1 L231.4,566.5 L222.3,569.0 Z" fill="#7c1a84"/>
</g>
<path d="M312.9,465.2 L326.2,518.8 L333.4,517.2 L321.5,486 Z" fill="#2e8ff2" stroke="#06061c" stroke-width="0.4" stroke-opacity="0.7" stroke-linejoin="round"/>
<defs><linearGradient id="cbd" x1="0" y1="0" x2="0" y2="1"><stop offset="0.000" stop-color="#f9fb15"/><stop offset="0.025" stop-color="#f8ee1d"/><stop offset="0.050" stop-color="#f6e026"/><stop offset="0.075" stop-color="#fad52d"/><stop offset="0.100" stop-color="#fec933"/><stop offset="0.125" stop-color="#fbc238"/><stop offset="0.150" stop-color="#f9ba3d"/><stop offset="0.175" stop-color="#ebba38"/><stop offset="0.200" stop-color="#deb933"/><stop offset="0.225" stop-color="#cdba39"/><stop offset="0.250" stop-color="#bdbb40"/><stop offset="0.275" stop-color="#aabd4b"/><stop offset="0.300" stop-color="#96bf57"/><stop offset="0.325" stop-color="#82c163"/><stop offset="0.350" stop-color="#6ec370"/><stop offset="0.375" stop-color="#59c37e"/><stop offset="0.400" stop-color="#45c38c"/><stop offset="0.425" stop-color="#35c198"/><stop offset="0.450" stop-color="#25bfa4"/><stop offset="0.475" stop-color="#16bcaf"/><stop offset="0.500" stop-color="#08b9ba"/><stop offset="0.525" stop-color="#09b5c4"/><stop offset="0.550" stop-color="#0ab1cf"/><stop offset="0.575" stop-color="#12abd6"/><stop offset="0.600" stop-color="#1ba6dd"/><stop offset="0.625" stop-color="#219fe2"/><stop offset="0.650" stop-color="#2699e8"/><stop offset="0.675" stop-color="#2a91ee"/><stop offset="0.700" stop-color="#2e8af5"/><stop offset="0.725" stop-color="#3082f9"/><stop offset="0.750" stop-color="#347afd"/><stop offset="0.775" stop-color="#3d70fe"/><stop offset="0.800" stop-color="#4367fd"/><stop offset="0.825" stop-color="#465efa"/><stop offset="0.850" stop-color="#4755f6"/><stop offset="0.875" stop-color="#484cf0"/><stop offset="0.900" stop-color="#4540e7"/><stop offset="0.925" stop-color="#4136df"/><stop offset="0.950" stop-color="#3c2ed6"/><stop offset="0.975" stop-color="#3828cd"/><stop offset="1.000" stop-color="#3726c7"/></linearGradient></defs>
<rect x="517.8" y="336.9" width="10.9" height="248.1" fill="url(#cbd)" stroke="#777" stroke-width="0.4"/>
<path d="M527.2,566.6 L528.7,566.6" stroke="#444" stroke-width="0.5"/>
<text x="532.0" y="569.9" class="tk">0.2</text>
<path d="M527.2,543.9 L528.7,543.9" stroke="#444" stroke-width="0.5"/>
<text x="532.0" y="547.2" class="tk">0.4</text>
<path d="M527.2,521.2 L528.7,521.2" stroke="#444" stroke-width="0.5"/>
<text x="532.0" y="524.5" class="tk">0.6</text>
<path d="M527.2,498.5 L528.7,498.5" stroke="#444" stroke-width="0.5"/>
<text x="532.0" y="501.8" class="tk">0.8</text>
<path d="M527.2,475.8 L528.7,475.8" stroke="#444" stroke-width="0.5"/>
<text x="532.0" y="479.1" class="tk">1</text>
<path d="M527.2,453.1 L528.7,453.1" stroke="#444" stroke-width="0.5"/>
<text x="532.0" y="456.4" class="tk">1.2</text>
<path d="M527.2,430.4 L528.7,430.4" stroke="#444" stroke-width="0.5"/>
<text x="532.0" y="433.7" class="tk">1.4</text>
<path d="M527.2,407.7 L528.7,407.7" stroke="#444" stroke-width="0.5"/>
<text x="532.0" y="411.0" class="tk">1.6</text>
<path d="M527.2,385.0 L528.7,385.0" stroke="#444" stroke-width="0.5"/>
<text x="532.0" y="388.3" class="tk">1.8</text>
<path d="M527.2,362.3 L528.7,362.3" stroke="#444" stroke-width="0.5"/>
<text x="532.0" y="365.6" class="tk">2</text>
<path d="M527.2,339.6 L528.7,339.6" stroke="#444" stroke-width="0.5"/>
<text x="532.0" y="342.9" class="tk">2.2</text>

<text x="264.6" y="9.3" text-anchor="middle" class="ttl" style="font-size:7.6px">3D Visualisation of the Radiation</text>
<text x="262.3" y="334" text-anchor="middle" class="ttl">3D Visualisation of the Radiation</text>
<text x="8" y="88.6" class="tk">×10<tspan dy="-3" font-size="5">4</tspan></text>
<text x="9" y="402" class="tk">×10<tspan dy="-3" font-size="5">4</tspan></text>
<text x="533.5" y="8.5" class="tk">×10<tspan dy="-3" font-size="5">4</tspan></text>
<text x="529.8" y="334" class="tk">×10<tspan dy="-3" font-size="5">4</tspan></text>
<text transform="translate(8.5,121) rotate(-90)" text-anchor="middle" class="lb">Radiation</text>
<text transform="translate(8.9,446) rotate(-90)" text-anchor="middle" class="lb">Radiation</text>
<text x="140.5" y="256" text-anchor="middle" class="lb">Y [cells]</text>
<text x="332.5" y="264" text-anchor="middle" class="lb">X [cells]</text>
<text x="136" y="582" text-anchor="middle" class="lb">Y [cells]</text>
<text x="328" y="590" text-anchor="middle" class="lb">X [cells]</text>
<text x="274.4" y="310.7" text-anchor="middle" class="cap">(c)</text>
<text x="274.5" y="631.5" text-anchor="middle" class="cap">(d)</text>

</svg>
</body></html>
